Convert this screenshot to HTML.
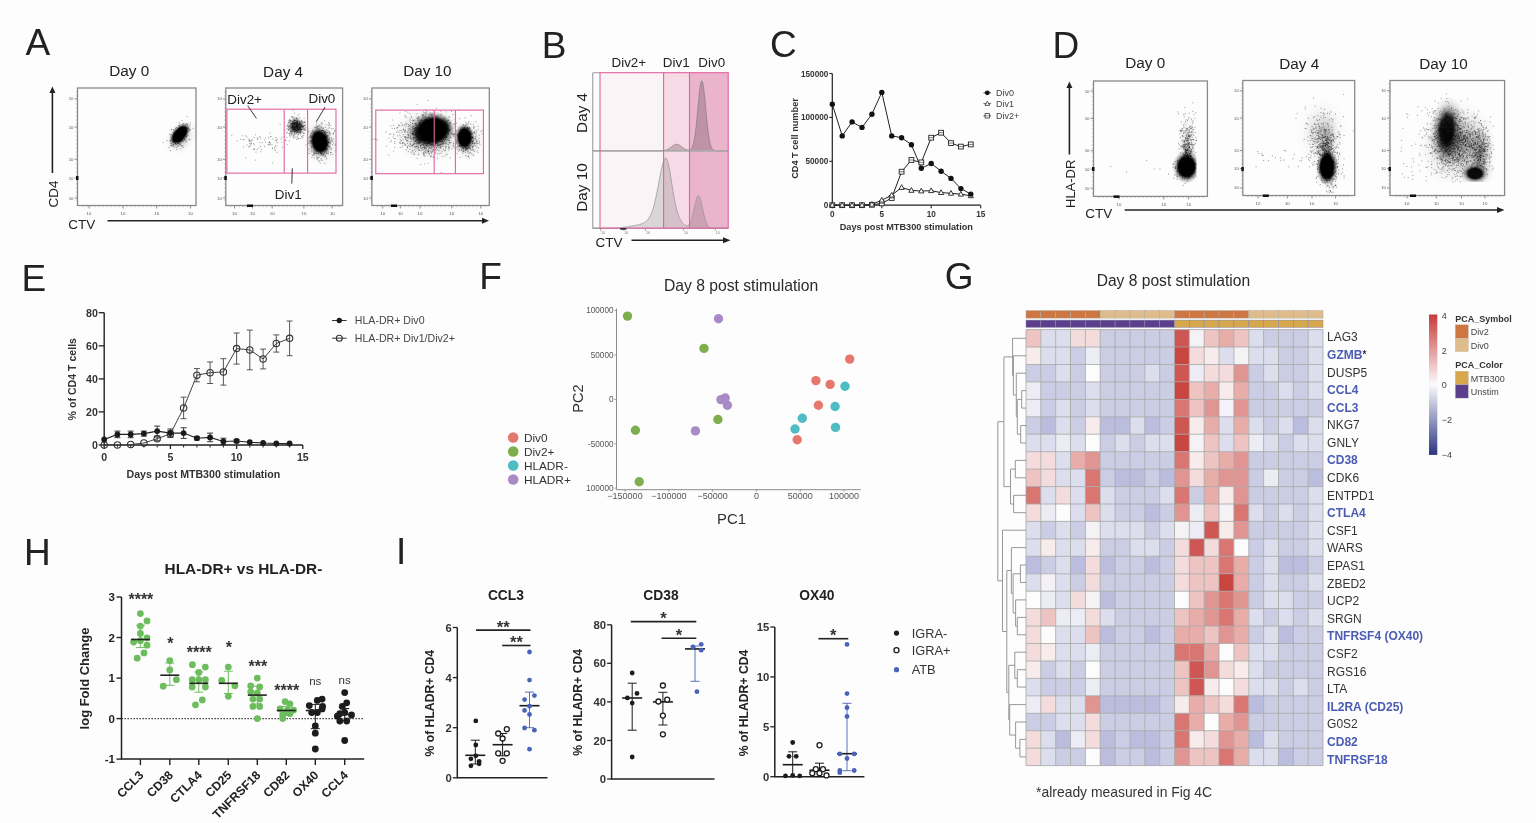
<!DOCTYPE html>
<html><head><meta charset="utf-8"><title>Figure</title>
<style>html,body{margin:0;padding:0;background:#fff;}svg{display:block;filter:blur(0.6px);}text{font-family:"Liberation Sans",sans-serif;}</style>
</head><body>
<svg width="1536" height="823" viewBox="0 0 1536 823" style="font-family:&quot;Liberation Sans&quot;,sans-serif">
<defs><clipPath id="cd1"><rect x="1090" y="80" width="106.5" height="118"/></clipPath><clipPath id="cd3"><rect x="1390" y="80" width="104" height="102"/></clipPath><radialGradient id="g1"><stop stop-color="#000" offset="0.0" stop-opacity="1.000"/><stop stop-color="#000" offset="0.1" stop-opacity="0.956"/><stop stop-color="#000" offset="0.2" stop-opacity="0.835"/><stop stop-color="#000" offset="0.3" stop-opacity="0.667"/><stop stop-color="#000" offset="0.4" stop-opacity="0.487"/><stop stop-color="#000" offset="0.5" stop-opacity="0.325"/><stop stop-color="#000" offset="0.6" stop-opacity="0.198"/><stop stop-color="#000" offset="0.7" stop-opacity="0.110"/><stop stop-color="#000" offset="0.8" stop-opacity="0.056"/><stop stop-color="#000" offset="0.9" stop-opacity="0.026"/><stop stop-color="#000" offset="1.0" stop-opacity="0.011"/></radialGradient><radialGradient id="g2"><stop stop-color="#000" offset="0.0" stop-opacity="1.000"/><stop stop-color="#000" offset="0.1" stop-opacity="1.000"/><stop stop-color="#000" offset="0.2" stop-opacity="1.000"/><stop stop-color="#000" offset="0.3" stop-opacity="1.000"/><stop stop-color="#000" offset="0.4" stop-opacity="0.974"/><stop stop-color="#000" offset="0.5" stop-opacity="0.649"/><stop stop-color="#000" offset="0.6" stop-opacity="0.396"/><stop stop-color="#000" offset="0.7" stop-opacity="0.221"/><stop stop-color="#000" offset="0.8" stop-opacity="0.112"/><stop stop-color="#000" offset="0.9" stop-opacity="0.052"/><stop stop-color="#000" offset="1.0" stop-opacity="0.022"/></radialGradient><radialGradient id="g3"><stop stop-color="#000" offset="0.0" stop-opacity="1.000"/><stop stop-color="#000" offset="0.1" stop-opacity="1.000"/><stop stop-color="#000" offset="0.2" stop-opacity="1.000"/><stop stop-color="#000" offset="0.3" stop-opacity="1.000"/><stop stop-color="#000" offset="0.4" stop-opacity="1.000"/><stop stop-color="#000" offset="0.5" stop-opacity="0.974"/><stop stop-color="#000" offset="0.6" stop-opacity="0.594"/><stop stop-color="#000" offset="0.7" stop-opacity="0.331"/><stop stop-color="#000" offset="0.8" stop-opacity="0.168"/><stop stop-color="#000" offset="0.9" stop-opacity="0.078"/><stop stop-color="#000" offset="1.0" stop-opacity="0.033"/></radialGradient><radialGradient id="g6"><stop stop-color="#000" offset="0.0" stop-opacity="1.000"/><stop stop-color="#000" offset="0.1" stop-opacity="1.000"/><stop stop-color="#000" offset="0.2" stop-opacity="1.000"/><stop stop-color="#000" offset="0.3" stop-opacity="1.000"/><stop stop-color="#000" offset="0.4" stop-opacity="1.000"/><stop stop-color="#000" offset="0.5" stop-opacity="1.000"/><stop stop-color="#000" offset="0.6" stop-opacity="1.000"/><stop stop-color="#000" offset="0.7" stop-opacity="0.662"/><stop stop-color="#000" offset="0.8" stop-opacity="0.337"/><stop stop-color="#000" offset="0.9" stop-opacity="0.157"/><stop stop-color="#000" offset="1.0" stop-opacity="0.067"/></radialGradient><filter id="bl" x="-50%" y="-50%" width="200%" height="200%"><feGaussianBlur stdDeviation="1.2"/></filter><filter id="sb" x="-5%" y="-5%" width="110%" height="110%"><feGaussianBlur stdDeviation="0.5"/></filter></defs>
<rect width="1536" height="823" fill="#fdfdfd"/>
<text x="25.5" y="54.7" font-size="37" fill="#222">A</text>
<text x="129.2" y="76.1" font-size="15.3" fill="#222" text-anchor="middle">Day 0</text>
<text x="283.1" y="76.9" font-size="15.3" fill="#222" text-anchor="middle">Day 4</text>
<text x="427.4" y="76.2" font-size="15.3" fill="#222" text-anchor="middle">Day 10</text>
<line x1="74.5" y1="98.8" x2="77.5" y2="98.8" stroke="#777" stroke-width="0.8"/>
<text x="73.5" y="100.3" font-size="4.3" fill="#555" text-anchor="end">10</text>
<line x1="74.5" y1="127" x2="77.5" y2="127" stroke="#777" stroke-width="0.8"/>
<text x="73.5" y="128.5" font-size="4.3" fill="#555" text-anchor="end">10</text>
<line x1="74.5" y1="159.3" x2="77.5" y2="159.3" stroke="#777" stroke-width="0.8"/>
<text x="73.5" y="160.8" font-size="4.3" fill="#555" text-anchor="end">10</text>
<line x1="74.5" y1="178" x2="77.5" y2="178" stroke="#777" stroke-width="0.8"/>
<text x="73.5" y="179.5" font-size="4.3" fill="#555" text-anchor="end">10</text>
<line x1="74.5" y1="198" x2="77.5" y2="198" stroke="#777" stroke-width="0.8"/>
<text x="73.5" y="199.5" font-size="4.3" fill="#555" text-anchor="end">10</text>
<line x1="75.9" y1="92" x2="77.5" y2="92" stroke="#999" stroke-width="0.6"/>
<line x1="75.9" y1="96" x2="77.5" y2="96" stroke="#999" stroke-width="0.6"/>
<line x1="75.9" y1="100" x2="77.5" y2="100" stroke="#999" stroke-width="0.6"/>
<line x1="75.9" y1="104" x2="77.5" y2="104" stroke="#999" stroke-width="0.6"/>
<line x1="75.9" y1="108" x2="77.5" y2="108" stroke="#999" stroke-width="0.6"/>
<line x1="75.9" y1="112" x2="77.5" y2="112" stroke="#999" stroke-width="0.6"/>
<line x1="75.9" y1="116" x2="77.5" y2="116" stroke="#999" stroke-width="0.6"/>
<line x1="75.9" y1="120" x2="77.5" y2="120" stroke="#999" stroke-width="0.6"/>
<line x1="75.9" y1="124" x2="77.5" y2="124" stroke="#999" stroke-width="0.6"/>
<line x1="75.9" y1="128" x2="77.5" y2="128" stroke="#999" stroke-width="0.6"/>
<line x1="75.9" y1="132" x2="77.5" y2="132" stroke="#999" stroke-width="0.6"/>
<line x1="75.9" y1="136" x2="77.5" y2="136" stroke="#999" stroke-width="0.6"/>
<line x1="75.9" y1="140" x2="77.5" y2="140" stroke="#999" stroke-width="0.6"/>
<line x1="75.9" y1="144" x2="77.5" y2="144" stroke="#999" stroke-width="0.6"/>
<line x1="75.9" y1="148" x2="77.5" y2="148" stroke="#999" stroke-width="0.6"/>
<line x1="75.9" y1="152" x2="77.5" y2="152" stroke="#999" stroke-width="0.6"/>
<line x1="75.9" y1="156" x2="77.5" y2="156" stroke="#999" stroke-width="0.6"/>
<line x1="75.9" y1="160" x2="77.5" y2="160" stroke="#999" stroke-width="0.6"/>
<line x1="75.9" y1="164" x2="77.5" y2="164" stroke="#999" stroke-width="0.6"/>
<line x1="75.9" y1="168" x2="77.5" y2="168" stroke="#999" stroke-width="0.6"/>
<line x1="75.9" y1="172" x2="77.5" y2="172" stroke="#999" stroke-width="0.6"/>
<line x1="75.9" y1="176" x2="77.5" y2="176" stroke="#999" stroke-width="0.6"/>
<line x1="75.9" y1="180" x2="77.5" y2="180" stroke="#999" stroke-width="0.6"/>
<line x1="75.9" y1="184" x2="77.5" y2="184" stroke="#999" stroke-width="0.6"/>
<line x1="75.9" y1="188" x2="77.5" y2="188" stroke="#999" stroke-width="0.6"/>
<line x1="75.9" y1="192" x2="77.5" y2="192" stroke="#999" stroke-width="0.6"/>
<line x1="75.9" y1="196" x2="77.5" y2="196" stroke="#999" stroke-width="0.6"/>
<line x1="75.9" y1="200" x2="77.5" y2="200" stroke="#999" stroke-width="0.6"/>
<line x1="88.9" y1="205.5" x2="88.9" y2="208.5" stroke="#777" stroke-width="0.8"/>
<text x="88.9" y="215" font-size="4.3" fill="#555" text-anchor="middle">10</text>
<line x1="123" y1="205.5" x2="123" y2="208.5" stroke="#777" stroke-width="0.8"/>
<text x="123" y="215" font-size="4.3" fill="#555" text-anchor="middle">10</text>
<line x1="156.7" y1="205.5" x2="156.7" y2="208.5" stroke="#777" stroke-width="0.8"/>
<text x="156.7" y="215" font-size="4.3" fill="#555" text-anchor="middle">10</text>
<line x1="190.4" y1="205.5" x2="190.4" y2="208.5" stroke="#777" stroke-width="0.8"/>
<text x="190.4" y="215" font-size="4.3" fill="#555" text-anchor="middle">10</text>
<line x1="83" y1="205.5" x2="83" y2="207.1" stroke="#999" stroke-width="0.6"/>
<line x1="87" y1="205.5" x2="87" y2="207.1" stroke="#999" stroke-width="0.6"/>
<line x1="91" y1="205.5" x2="91" y2="207.1" stroke="#999" stroke-width="0.6"/>
<line x1="95" y1="205.5" x2="95" y2="207.1" stroke="#999" stroke-width="0.6"/>
<line x1="99" y1="205.5" x2="99" y2="207.1" stroke="#999" stroke-width="0.6"/>
<line x1="103" y1="205.5" x2="103" y2="207.1" stroke="#999" stroke-width="0.6"/>
<line x1="107" y1="205.5" x2="107" y2="207.1" stroke="#999" stroke-width="0.6"/>
<line x1="111" y1="205.5" x2="111" y2="207.1" stroke="#999" stroke-width="0.6"/>
<line x1="115" y1="205.5" x2="115" y2="207.1" stroke="#999" stroke-width="0.6"/>
<line x1="119" y1="205.5" x2="119" y2="207.1" stroke="#999" stroke-width="0.6"/>
<line x1="123" y1="205.5" x2="123" y2="207.1" stroke="#999" stroke-width="0.6"/>
<line x1="127" y1="205.5" x2="127" y2="207.1" stroke="#999" stroke-width="0.6"/>
<line x1="131" y1="205.5" x2="131" y2="207.1" stroke="#999" stroke-width="0.6"/>
<line x1="135" y1="205.5" x2="135" y2="207.1" stroke="#999" stroke-width="0.6"/>
<line x1="139" y1="205.5" x2="139" y2="207.1" stroke="#999" stroke-width="0.6"/>
<line x1="143" y1="205.5" x2="143" y2="207.1" stroke="#999" stroke-width="0.6"/>
<line x1="147" y1="205.5" x2="147" y2="207.1" stroke="#999" stroke-width="0.6"/>
<line x1="151" y1="205.5" x2="151" y2="207.1" stroke="#999" stroke-width="0.6"/>
<line x1="155" y1="205.5" x2="155" y2="207.1" stroke="#999" stroke-width="0.6"/>
<line x1="159" y1="205.5" x2="159" y2="207.1" stroke="#999" stroke-width="0.6"/>
<line x1="163" y1="205.5" x2="163" y2="207.1" stroke="#999" stroke-width="0.6"/>
<line x1="167" y1="205.5" x2="167" y2="207.1" stroke="#999" stroke-width="0.6"/>
<line x1="171" y1="205.5" x2="171" y2="207.1" stroke="#999" stroke-width="0.6"/>
<line x1="175" y1="205.5" x2="175" y2="207.1" stroke="#999" stroke-width="0.6"/>
<line x1="179" y1="205.5" x2="179" y2="207.1" stroke="#999" stroke-width="0.6"/>
<line x1="183" y1="205.5" x2="183" y2="207.1" stroke="#999" stroke-width="0.6"/>
<line x1="187" y1="205.5" x2="187" y2="207.1" stroke="#999" stroke-width="0.6"/>
<line x1="191" y1="205.5" x2="191" y2="207.1" stroke="#999" stroke-width="0.6"/>
<rect x="77.5" y="88" width="118.5" height="117.5" fill="none" stroke="#8a8a8a" stroke-width="1.3"/>
<line x1="222.8" y1="98.8" x2="225.8" y2="98.8" stroke="#777" stroke-width="0.8"/>
<text x="221.8" y="100.3" font-size="4.3" fill="#555" text-anchor="end">10</text>
<line x1="222.8" y1="127" x2="225.8" y2="127" stroke="#777" stroke-width="0.8"/>
<text x="221.8" y="128.5" font-size="4.3" fill="#555" text-anchor="end">10</text>
<line x1="222.8" y1="159.3" x2="225.8" y2="159.3" stroke="#777" stroke-width="0.8"/>
<text x="221.8" y="160.8" font-size="4.3" fill="#555" text-anchor="end">10</text>
<line x1="222.8" y1="178" x2="225.8" y2="178" stroke="#777" stroke-width="0.8"/>
<text x="221.8" y="179.5" font-size="4.3" fill="#555" text-anchor="end">10</text>
<line x1="222.8" y1="198" x2="225.8" y2="198" stroke="#777" stroke-width="0.8"/>
<text x="221.8" y="199.5" font-size="4.3" fill="#555" text-anchor="end">10</text>
<line x1="224.2" y1="92" x2="225.8" y2="92" stroke="#999" stroke-width="0.6"/>
<line x1="224.2" y1="96" x2="225.8" y2="96" stroke="#999" stroke-width="0.6"/>
<line x1="224.2" y1="100" x2="225.8" y2="100" stroke="#999" stroke-width="0.6"/>
<line x1="224.2" y1="104" x2="225.8" y2="104" stroke="#999" stroke-width="0.6"/>
<line x1="224.2" y1="108" x2="225.8" y2="108" stroke="#999" stroke-width="0.6"/>
<line x1="224.2" y1="112" x2="225.8" y2="112" stroke="#999" stroke-width="0.6"/>
<line x1="224.2" y1="116" x2="225.8" y2="116" stroke="#999" stroke-width="0.6"/>
<line x1="224.2" y1="120" x2="225.8" y2="120" stroke="#999" stroke-width="0.6"/>
<line x1="224.2" y1="124" x2="225.8" y2="124" stroke="#999" stroke-width="0.6"/>
<line x1="224.2" y1="128" x2="225.8" y2="128" stroke="#999" stroke-width="0.6"/>
<line x1="224.2" y1="132" x2="225.8" y2="132" stroke="#999" stroke-width="0.6"/>
<line x1="224.2" y1="136" x2="225.8" y2="136" stroke="#999" stroke-width="0.6"/>
<line x1="224.2" y1="140" x2="225.8" y2="140" stroke="#999" stroke-width="0.6"/>
<line x1="224.2" y1="144" x2="225.8" y2="144" stroke="#999" stroke-width="0.6"/>
<line x1="224.2" y1="148" x2="225.8" y2="148" stroke="#999" stroke-width="0.6"/>
<line x1="224.2" y1="152" x2="225.8" y2="152" stroke="#999" stroke-width="0.6"/>
<line x1="224.2" y1="156" x2="225.8" y2="156" stroke="#999" stroke-width="0.6"/>
<line x1="224.2" y1="160" x2="225.8" y2="160" stroke="#999" stroke-width="0.6"/>
<line x1="224.2" y1="164" x2="225.8" y2="164" stroke="#999" stroke-width="0.6"/>
<line x1="224.2" y1="168" x2="225.8" y2="168" stroke="#999" stroke-width="0.6"/>
<line x1="224.2" y1="172" x2="225.8" y2="172" stroke="#999" stroke-width="0.6"/>
<line x1="224.2" y1="176" x2="225.8" y2="176" stroke="#999" stroke-width="0.6"/>
<line x1="224.2" y1="180" x2="225.8" y2="180" stroke="#999" stroke-width="0.6"/>
<line x1="224.2" y1="184" x2="225.8" y2="184" stroke="#999" stroke-width="0.6"/>
<line x1="224.2" y1="188" x2="225.8" y2="188" stroke="#999" stroke-width="0.6"/>
<line x1="224.2" y1="192" x2="225.8" y2="192" stroke="#999" stroke-width="0.6"/>
<line x1="224.2" y1="196" x2="225.8" y2="196" stroke="#999" stroke-width="0.6"/>
<line x1="224.2" y1="200" x2="225.8" y2="200" stroke="#999" stroke-width="0.6"/>
<line x1="234.5" y1="205.5" x2="234.5" y2="208.5" stroke="#777" stroke-width="0.8"/>
<text x="234.5" y="215" font-size="4.3" fill="#555" text-anchor="middle">10</text>
<line x1="252.5" y1="205.5" x2="252.5" y2="208.5" stroke="#777" stroke-width="0.8"/>
<text x="252.5" y="215" font-size="4.3" fill="#555" text-anchor="middle">10</text>
<line x1="272.2" y1="205.5" x2="272.2" y2="208.5" stroke="#777" stroke-width="0.8"/>
<text x="272.2" y="215" font-size="4.3" fill="#555" text-anchor="middle">10</text>
<line x1="303.9" y1="205.5" x2="303.9" y2="208.5" stroke="#777" stroke-width="0.8"/>
<text x="303.9" y="215" font-size="4.3" fill="#555" text-anchor="middle">10</text>
<line x1="332.3" y1="205.5" x2="332.3" y2="208.5" stroke="#777" stroke-width="0.8"/>
<text x="332.3" y="215" font-size="4.3" fill="#555" text-anchor="middle">10</text>
<line x1="231" y1="205.5" x2="231" y2="207.1" stroke="#999" stroke-width="0.6"/>
<line x1="235" y1="205.5" x2="235" y2="207.1" stroke="#999" stroke-width="0.6"/>
<line x1="239" y1="205.5" x2="239" y2="207.1" stroke="#999" stroke-width="0.6"/>
<line x1="243" y1="205.5" x2="243" y2="207.1" stroke="#999" stroke-width="0.6"/>
<line x1="247" y1="205.5" x2="247" y2="207.1" stroke="#999" stroke-width="0.6"/>
<line x1="251" y1="205.5" x2="251" y2="207.1" stroke="#999" stroke-width="0.6"/>
<line x1="255" y1="205.5" x2="255" y2="207.1" stroke="#999" stroke-width="0.6"/>
<line x1="259" y1="205.5" x2="259" y2="207.1" stroke="#999" stroke-width="0.6"/>
<line x1="263" y1="205.5" x2="263" y2="207.1" stroke="#999" stroke-width="0.6"/>
<line x1="267" y1="205.5" x2="267" y2="207.1" stroke="#999" stroke-width="0.6"/>
<line x1="271" y1="205.5" x2="271" y2="207.1" stroke="#999" stroke-width="0.6"/>
<line x1="275" y1="205.5" x2="275" y2="207.1" stroke="#999" stroke-width="0.6"/>
<line x1="279" y1="205.5" x2="279" y2="207.1" stroke="#999" stroke-width="0.6"/>
<line x1="283" y1="205.5" x2="283" y2="207.1" stroke="#999" stroke-width="0.6"/>
<line x1="287" y1="205.5" x2="287" y2="207.1" stroke="#999" stroke-width="0.6"/>
<line x1="291" y1="205.5" x2="291" y2="207.1" stroke="#999" stroke-width="0.6"/>
<line x1="295" y1="205.5" x2="295" y2="207.1" stroke="#999" stroke-width="0.6"/>
<line x1="299" y1="205.5" x2="299" y2="207.1" stroke="#999" stroke-width="0.6"/>
<line x1="303" y1="205.5" x2="303" y2="207.1" stroke="#999" stroke-width="0.6"/>
<line x1="307" y1="205.5" x2="307" y2="207.1" stroke="#999" stroke-width="0.6"/>
<line x1="311" y1="205.5" x2="311" y2="207.1" stroke="#999" stroke-width="0.6"/>
<line x1="315" y1="205.5" x2="315" y2="207.1" stroke="#999" stroke-width="0.6"/>
<line x1="319" y1="205.5" x2="319" y2="207.1" stroke="#999" stroke-width="0.6"/>
<line x1="323" y1="205.5" x2="323" y2="207.1" stroke="#999" stroke-width="0.6"/>
<line x1="327" y1="205.5" x2="327" y2="207.1" stroke="#999" stroke-width="0.6"/>
<line x1="331" y1="205.5" x2="331" y2="207.1" stroke="#999" stroke-width="0.6"/>
<line x1="335" y1="205.5" x2="335" y2="207.1" stroke="#999" stroke-width="0.6"/>
<line x1="339" y1="205.5" x2="339" y2="207.1" stroke="#999" stroke-width="0.6"/>
<rect x="225.8" y="88" width="116.8" height="117.5" fill="none" stroke="#8a8a8a" stroke-width="1.3"/>
<line x1="368.9" y1="98.8" x2="371.9" y2="98.8" stroke="#777" stroke-width="0.8"/>
<text x="367.9" y="100.3" font-size="4.3" fill="#555" text-anchor="end">10</text>
<line x1="368.9" y1="127" x2="371.9" y2="127" stroke="#777" stroke-width="0.8"/>
<text x="367.9" y="128.5" font-size="4.3" fill="#555" text-anchor="end">10</text>
<line x1="368.9" y1="159.3" x2="371.9" y2="159.3" stroke="#777" stroke-width="0.8"/>
<text x="367.9" y="160.8" font-size="4.3" fill="#555" text-anchor="end">10</text>
<line x1="368.9" y1="178" x2="371.9" y2="178" stroke="#777" stroke-width="0.8"/>
<text x="367.9" y="179.5" font-size="4.3" fill="#555" text-anchor="end">10</text>
<line x1="368.9" y1="198" x2="371.9" y2="198" stroke="#777" stroke-width="0.8"/>
<text x="367.9" y="199.5" font-size="4.3" fill="#555" text-anchor="end">10</text>
<line x1="370.3" y1="92" x2="371.9" y2="92" stroke="#999" stroke-width="0.6"/>
<line x1="370.3" y1="96" x2="371.9" y2="96" stroke="#999" stroke-width="0.6"/>
<line x1="370.3" y1="100" x2="371.9" y2="100" stroke="#999" stroke-width="0.6"/>
<line x1="370.3" y1="104" x2="371.9" y2="104" stroke="#999" stroke-width="0.6"/>
<line x1="370.3" y1="108" x2="371.9" y2="108" stroke="#999" stroke-width="0.6"/>
<line x1="370.3" y1="112" x2="371.9" y2="112" stroke="#999" stroke-width="0.6"/>
<line x1="370.3" y1="116" x2="371.9" y2="116" stroke="#999" stroke-width="0.6"/>
<line x1="370.3" y1="120" x2="371.9" y2="120" stroke="#999" stroke-width="0.6"/>
<line x1="370.3" y1="124" x2="371.9" y2="124" stroke="#999" stroke-width="0.6"/>
<line x1="370.3" y1="128" x2="371.9" y2="128" stroke="#999" stroke-width="0.6"/>
<line x1="370.3" y1="132" x2="371.9" y2="132" stroke="#999" stroke-width="0.6"/>
<line x1="370.3" y1="136" x2="371.9" y2="136" stroke="#999" stroke-width="0.6"/>
<line x1="370.3" y1="140" x2="371.9" y2="140" stroke="#999" stroke-width="0.6"/>
<line x1="370.3" y1="144" x2="371.9" y2="144" stroke="#999" stroke-width="0.6"/>
<line x1="370.3" y1="148" x2="371.9" y2="148" stroke="#999" stroke-width="0.6"/>
<line x1="370.3" y1="152" x2="371.9" y2="152" stroke="#999" stroke-width="0.6"/>
<line x1="370.3" y1="156" x2="371.9" y2="156" stroke="#999" stroke-width="0.6"/>
<line x1="370.3" y1="160" x2="371.9" y2="160" stroke="#999" stroke-width="0.6"/>
<line x1="370.3" y1="164" x2="371.9" y2="164" stroke="#999" stroke-width="0.6"/>
<line x1="370.3" y1="168" x2="371.9" y2="168" stroke="#999" stroke-width="0.6"/>
<line x1="370.3" y1="172" x2="371.9" y2="172" stroke="#999" stroke-width="0.6"/>
<line x1="370.3" y1="176" x2="371.9" y2="176" stroke="#999" stroke-width="0.6"/>
<line x1="370.3" y1="180" x2="371.9" y2="180" stroke="#999" stroke-width="0.6"/>
<line x1="370.3" y1="184" x2="371.9" y2="184" stroke="#999" stroke-width="0.6"/>
<line x1="370.3" y1="188" x2="371.9" y2="188" stroke="#999" stroke-width="0.6"/>
<line x1="370.3" y1="192" x2="371.9" y2="192" stroke="#999" stroke-width="0.6"/>
<line x1="370.3" y1="196" x2="371.9" y2="196" stroke="#999" stroke-width="0.6"/>
<line x1="370.3" y1="200" x2="371.9" y2="200" stroke="#999" stroke-width="0.6"/>
<line x1="382.8" y1="205.5" x2="382.8" y2="208.5" stroke="#777" stroke-width="0.8"/>
<text x="382.8" y="215" font-size="4.3" fill="#555" text-anchor="middle">10</text>
<line x1="400.3" y1="205.5" x2="400.3" y2="208.5" stroke="#777" stroke-width="0.8"/>
<text x="400.3" y="215" font-size="4.3" fill="#555" text-anchor="middle">10</text>
<line x1="420" y1="205.5" x2="420" y2="208.5" stroke="#777" stroke-width="0.8"/>
<text x="420" y="215" font-size="4.3" fill="#555" text-anchor="middle">10</text>
<line x1="451.7" y1="205.5" x2="451.7" y2="208.5" stroke="#777" stroke-width="0.8"/>
<text x="451.7" y="215" font-size="4.3" fill="#555" text-anchor="middle">10</text>
<line x1="480.8" y1="205.5" x2="480.8" y2="208.5" stroke="#777" stroke-width="0.8"/>
<text x="480.8" y="215" font-size="4.3" fill="#555" text-anchor="middle">10</text>
<line x1="377" y1="205.5" x2="377" y2="207.1" stroke="#999" stroke-width="0.6"/>
<line x1="381" y1="205.5" x2="381" y2="207.1" stroke="#999" stroke-width="0.6"/>
<line x1="385" y1="205.5" x2="385" y2="207.1" stroke="#999" stroke-width="0.6"/>
<line x1="389" y1="205.5" x2="389" y2="207.1" stroke="#999" stroke-width="0.6"/>
<line x1="393" y1="205.5" x2="393" y2="207.1" stroke="#999" stroke-width="0.6"/>
<line x1="397" y1="205.5" x2="397" y2="207.1" stroke="#999" stroke-width="0.6"/>
<line x1="401" y1="205.5" x2="401" y2="207.1" stroke="#999" stroke-width="0.6"/>
<line x1="405" y1="205.5" x2="405" y2="207.1" stroke="#999" stroke-width="0.6"/>
<line x1="409" y1="205.5" x2="409" y2="207.1" stroke="#999" stroke-width="0.6"/>
<line x1="413" y1="205.5" x2="413" y2="207.1" stroke="#999" stroke-width="0.6"/>
<line x1="417" y1="205.5" x2="417" y2="207.1" stroke="#999" stroke-width="0.6"/>
<line x1="421" y1="205.5" x2="421" y2="207.1" stroke="#999" stroke-width="0.6"/>
<line x1="425" y1="205.5" x2="425" y2="207.1" stroke="#999" stroke-width="0.6"/>
<line x1="429" y1="205.5" x2="429" y2="207.1" stroke="#999" stroke-width="0.6"/>
<line x1="433" y1="205.5" x2="433" y2="207.1" stroke="#999" stroke-width="0.6"/>
<line x1="437" y1="205.5" x2="437" y2="207.1" stroke="#999" stroke-width="0.6"/>
<line x1="441" y1="205.5" x2="441" y2="207.1" stroke="#999" stroke-width="0.6"/>
<line x1="445" y1="205.5" x2="445" y2="207.1" stroke="#999" stroke-width="0.6"/>
<line x1="449" y1="205.5" x2="449" y2="207.1" stroke="#999" stroke-width="0.6"/>
<line x1="453" y1="205.5" x2="453" y2="207.1" stroke="#999" stroke-width="0.6"/>
<line x1="457" y1="205.5" x2="457" y2="207.1" stroke="#999" stroke-width="0.6"/>
<line x1="461" y1="205.5" x2="461" y2="207.1" stroke="#999" stroke-width="0.6"/>
<line x1="465" y1="205.5" x2="465" y2="207.1" stroke="#999" stroke-width="0.6"/>
<line x1="469" y1="205.5" x2="469" y2="207.1" stroke="#999" stroke-width="0.6"/>
<line x1="473" y1="205.5" x2="473" y2="207.1" stroke="#999" stroke-width="0.6"/>
<line x1="477" y1="205.5" x2="477" y2="207.1" stroke="#999" stroke-width="0.6"/>
<line x1="481" y1="205.5" x2="481" y2="207.1" stroke="#999" stroke-width="0.6"/>
<line x1="485" y1="205.5" x2="485" y2="207.1" stroke="#999" stroke-width="0.6"/>
<rect x="371.9" y="88" width="117.4" height="117.5" fill="none" stroke="#8a8a8a" stroke-width="1.3"/>
<rect x="76" y="176" width="2.5" height="4" fill="#111" stroke="none" stroke-width="1"/>
<rect x="224.3" y="176" width="2.5" height="4" fill="#111" stroke="none" stroke-width="1"/>
<rect x="370.4" y="176" width="2.5" height="4" fill="#111" stroke="none" stroke-width="1"/>
<rect x="247" y="204.5" width="6" height="2.5" fill="#111" stroke="none" stroke-width="1"/>
<rect x="391" y="204.5" width="6" height="2.5" fill="#111" stroke="none" stroke-width="1"/>
<ellipse cx="180.5" cy="137" rx="19.5" ry="15" fill="url(#g1)" fill-opacity="0.35" transform="rotate(-55 180.5 137)"/>
<ellipse cx="179.8" cy="134.3" rx="14.1" ry="7.8" fill="url(#g6)" transform="rotate(-50 179.8 134.3)"/>
<ellipse cx="178.5" cy="137.5" rx="7.5" ry="7.5" fill="url(#g2)" fill-opacity="0.6"/>
<g filter="url(#sb)"><path d="M180 138.2h0M178.6 132.3h0M177.6 132.2h0M180.3 143.9h0M177.4 134.4h0M182.5 137.1h0M180.5 131h0M179.8 140.5h0M173 137.7h0M170.1 134.6h0M170.4 140.4h0M173.4 141.6h0M180.8 135h0M166.9 140.6h0M179.7 137.3h0M172 138.2h0M174.9 134.7h0M185.5 128.9h0M179.8 141.6h0M177 137.5h0M180.6 136.5h0M173.6 140.4h0M187.1 123.9h0M184.5 134.7h0M176.7 149.6h0M184 127.6h0M180.4 139.5h0M179 140.9h0M179.7 140.4h0M187.5 128.6h0M181.1 133.3h0M180.7 129.5h0M177 137h0M184.7 140.4h0M173.1 135.8h0M183.4 123.5h0M177.6 137.3h0M186.5 136.8h0M178.3 135.4h0M178.7 145.8h0M177.8 136h0M181.8 134.8h0M179 130.8h0M179.9 134h0M186.1 136.9h0M179.9 140.3h0M178.2 143.4h0M180 139.8h0M173.3 142.1h0M171.2 129.8h0M178.4 132.3h0M180.9 148.7h0M175.7 135.3h0M181.1 138.7h0M179.1 135.8h0M183.7 137.4h0M174.6 139h0M180.2 130.5h0M181.4 130.9h0M185.1 134.8h0M180.5 132.9h0M179.4 125.6h0M174.1 141.7h0M168.9 147.3h0M170.9 145.7h0M175.6 143.3h0M180.7 127.5h0M186.5 141.1h0M179.7 135.1h0M179.2 131.5h0M185.7 130.3h0M179.7 132.2h0M176.7 131.1h0M186.5 132.1h0M185 133.8h0M176.4 136.6h0M177.1 138.1h0M178 135.9h0M172.8 135.9h0M188.6 128h0M174.5 141.4h0M187.3 124.3h0M178.9 133.5h0M170.8 145.6h0M179.9 137h0M176.1 141.2h0M177.2 137.2h0M174.2 132.8h0M186.9 129.9h0M181.5 135.5h0M177.7 134.9h0M183.3 133h0M179.2 137.1h0M186.1 137h0M182 132.2h0M172.8 145.8h0M185 133h0M182.8 139.4h0M184.3 139.3h0M177.6 146.3h0M173.5 144.9h0M182.6 140h0M189.8 139.5h0M174 130.2h0M184.2 128.5h0M179.9 141.3h0M171.5 129.3h0M181.3 136h0M178.7 137.4h0M175.5 130.4h0M179.1 131.5h0M171.5 144h0M179.7 139h0M174.9 135.6h0M174.8 134.3h0M181 131.5h0M181.9 137.4h0M190.5 122.9h0M184.6 133.5h0M179.9 128.4h0M177.6 142h0M179.6 137.2h0M178.5 143.8h0M179.9 124.2h0M176.4 127.4h0M163.1 142.7h0M186.9 133h0M173.9 134.5h0M185.9 134.2h0M180.2 136.1h0M180.2 140.9h0M182.9 136.1h0M174.6 142.3h0M176.4 144.6h0M173.4 139.3h0M180 129.1h0M189 139.8h0M177.6 142.2h0M182 120.7h0M181.3 135.4h0M180.4 130.2h0M178.6 136.3h0M186.2 135h0M180 145.1h0M177.1 135.9h0M170.6 150.5h0M185 138.9h0M183.5 135.2h0M181.1 134.5h0M178.9 137.4h0M187.9 135.3h0M179.7 133.4h0M176.7 147.3h0M182.6 135.4h0M178.2 131.2h0M179.7 141.6h0M178 136.3h0M178.9 137.7h0M171.7 139.7h0M175.6 143.9h0M176 141.9h0M187.9 130.4h0M176.9 139.3h0M180 130.9h0M182.4 146.5h0M178.7 136.1h0M174.6 141.3h0M173.5 133.8h0M186.7 127.8h0M185.6 142h0M181.3 138.9h0M190.2 129.9h0M176.9 130.6h0M180.2 144.7h0M185 128.5h0M175.6 136.1h0M181.5 134.5h0M181.1 137.6h0M178.4 137.1h0M181.1 135.4h0M182.6 145.6h0M183.1 135.1h0M171.2 143.5h0M169.9 134.1h0M184.4 138.1h0M179.2 127.3h0M178.1 133.7h0M183.3 147.4h0M181.1 131.5h0M173.9 139.5h0M179.1 130.5h0M180.6 129.7h0M185.8 139.3h0M185.6 130.8h0M182.7 134.3h0M178 135.7h0M173.2 132.1h0M184.1 133.2h0M181.1 141.5h0M171 137h0M180.9 138.2h0M178 143.4h0M181.1 129.1h0M175.2 143.7h0M182.4 124.5h0M187 136h0M187 130.5h0M178.5 131h0M193.2 128.3h0M188.3 128.4h0M180.9 126.6h0M178 143.1h0M173.5 146.1h0M181.8 129.7h0M177.4 135.3h0M179.7 133.6h0M175.7 137.1h0M174.7 132.2h0M179.7 141.6h0M172 140.9h0M176.6 132.8h0M184.4 131.2h0M187.8 127.9h0M182 134.1h0M176.1 141.9h0M179.2 140.3h0M179.8 130.5h0M179.5 137.1h0M185 128.7h0M179.8 126.9h0M183.4 128.6h0M170.6 141.3h0M185.7 124.8h0M174.3 135.4h0M174.1 141.8h0M175.8 134.7h0M183 130.6h0M182.3 129.8h0M173.7 129.6h0M189.7 129.4h0M181.3 135.6h0M180.8 136.3h0M189.9 125.2h0M171.9 135.2h0M173.1 144.5h0M184.3 128.8h0M172.8 138.4h0M187.2 116.7h0M182.7 129h0M185.4 127.5h0M178.5 128.8h0M174.9 147.1h0M184.3 131.9h0M175.5 128.3h0M178 137.4h0M179.6 136.2h0M174.2 139.3h0M179.8 143.9h0M189.7 130.4h0M176 138.3h0M176.8 134h0M179.7 130.8h0M183.2 134.2h0M181.3 134.8h0M176.2 133.2h0M178.8 134.1h0M181.2 135.8h0M172.9 140.7h0M173 136.8h0M178.5 125.7h0M180.5 137.1h0M179.2 134.6h0M178.1 132.1h0M178.6 134.2h0M180.5 129.5h0M181.2 136.6h0M179.3 134.4h0M182.9 125.6h0M182.4 136.6h0M181.5 137.9h0M176.6 136.9h0M183.3 137.1h0M181.1 127.4h0M182.8 141.6h0M185.3 135h0M171.9 146.2h0M179.2 122.7h0M182 127h0M173.3 136.6h0M186.6 130.8h0M181.4 145.6h0M188.3 131.4h0M178.7 130.1h0M176.4 140.9h0M182.1 136h0M185.2 129.3h0M179.7 140.8h0M183 140.9h0M182.1 133.6h0M181.9 129.8h0" stroke="#000" stroke-width="1.0" stroke-linecap="square" stroke-opacity="0.4"/></g>
<ellipse cx="320.5" cy="142" rx="18" ry="25.5" fill="url(#g1)" fill-opacity="0.35" transform="rotate(-10 320.5 142)"/>
<ellipse cx="319.7" cy="141.7" rx="11.1" ry="15.3" fill="url(#g6)" transform="rotate(-12 319.7 141.7)"/>
<ellipse cx="296.2" cy="126.5" rx="10.8" ry="10.2" fill="url(#g2)" fill-opacity="0.7"/>
<g filter="url(#sb)"><path d="M311.5 148.2h0M320.2 144.3h0M311.2 141.2h0M317.2 136.3h0M308.1 142.1h0M325.4 143.8h0M317.2 142.6h0M324.7 120.7h0M319.8 146.2h0M324.3 153.8h0M326.7 143h0M322.2 147.5h0M317.5 142.3h0M325.5 155.5h0M319.6 141.8h0M321.6 151.7h0M320.3 152.9h0M315.2 141.7h0M319.4 148.1h0M326.2 129.6h0M315.5 145.5h0M316.9 131.5h0M326.2 144.5h0M323.2 137.9h0M326.2 139.1h0M326.5 134h0M315.8 144.5h0M316.6 147.8h0M321.9 134.9h0M320.9 139.3h0M325.5 136.3h0M318.1 151.5h0M332.8 154.3h0M320.8 143.6h0M328.9 139.4h0M315.1 144h0M323 135.3h0M311.4 133.2h0M324.2 135.6h0M319.7 143.7h0M323.9 138.8h0M323.2 134.8h0M318.5 134.8h0M326.7 140.5h0M316.4 140.2h0M319.3 147.4h0M311.7 136.1h0M318.4 161.2h0M325.8 140.1h0M324.4 156.5h0M319.2 139.5h0M327.2 144.3h0M324.2 137.5h0M331.1 152.5h0M323.6 146.4h0M309.4 149h0M319.4 145.4h0M324.3 138.7h0M311.2 146.6h0M316.4 140.4h0M317.2 140.1h0M307.8 153.6h0M321.9 150h0M331.4 139.9h0M310.6 137.4h0M313.9 139.6h0M320.9 127.1h0M322.4 130.4h0M322.1 140.9h0M318.8 141.8h0M317.5 138.1h0M311.2 143.7h0M330.7 154.6h0M327.8 145.7h0M316.8 153.5h0M320.2 141.6h0M318.9 143h0M318.1 141.9h0M314.5 140.4h0M333 138.9h0M319.2 146.2h0M324.4 132.9h0M319.4 149h0M322 142.6h0M329 135.2h0M321 138.1h0M328.7 125.9h0M316.8 138.8h0M324.1 145.7h0M328.2 128.8h0M324.6 139h0M316.8 146.7h0M315.4 127.6h0M318.5 131.3h0M316.9 145.5h0M322.2 153.4h0M319.4 130.9h0M316.3 136h0M313.8 146.6h0M317 128.1h0M324.3 140.4h0M322.5 142.4h0M324 141.6h0M327.3 143.8h0M322.7 144.6h0M312.5 142.4h0M319.1 143.8h0M313 155.6h0M321.1 132.9h0M311.1 141.8h0M320 136.8h0M321 137.1h0M323.5 136h0M320.3 149.3h0M334.6 131.6h0M317.9 136.3h0M324.8 132.6h0M317.8 142.3h0M315.1 136h0M317.9 127h0M312.5 140.6h0M321.3 140.5h0M310.7 140.6h0M324.9 145.2h0M320.1 135.5h0M324 137h0M314.1 137.4h0M328.5 142h0M326.9 137.1h0M325.7 136.5h0M319.6 160.6h0M324.7 137.4h0M320 144.5h0M327.2 137h0M310.9 141.9h0M320.6 142.8h0M327.7 142.9h0M325 132.9h0M325.3 156.6h0M324.8 143h0M321.3 155.1h0M315.4 142.2h0M323 147h0M318.1 144.8h0M319 143.2h0M319.8 133.7h0M320.4 148.5h0M315.2 141.3h0M324.2 133.3h0M321.5 133.9h0M326.7 157.9h0M331.6 138.1h0M324.6 142.1h0M321.1 153.4h0M313.2 151.3h0M320.2 152.5h0M321.5 136.8h0M322 147.1h0M320.7 145.6h0M317.6 126.8h0M325.5 146.2h0M321.3 142.3h0M326.2 137.4h0M316.6 141.4h0M327 130.4h0M327.1 135.9h0M314.4 152.6h0M320 132.5h0M318.5 149.3h0M327.1 137.5h0M322.7 146.8h0M317 145.4h0M320.3 138.1h0M317.8 143.1h0M320.7 137.8h0M318.2 150.7h0M321.7 148.3h0M327.1 145h0M333 133.3h0M324.9 138.7h0M330.7 152.5h0M309.8 137h0M324.2 147.1h0M324.6 140.6h0M323 146.3h0M320.1 149.7h0M308.1 149.2h0M314.8 150.3h0M319.2 135.7h0M322.6 134.8h0M315.5 131.4h0M320.4 145.7h0M326.1 139.8h0M326.3 141h0M320 146.4h0M326.3 138.3h0M319.2 141.1h0M321 135.2h0M326.2 137.9h0M323 135.4h0M322.5 144.5h0M318.2 157.5h0M322.5 154.8h0M325.8 136h0M318.4 145.7h0M320.8 142.3h0M318.9 128.9h0M319.3 125.8h0M322.5 136.2h0M316.6 141.2h0M322 131.1h0M310.9 136.1h0M309.3 137.1h0M329.2 132.4h0M324.1 131.1h0M322.1 139.3h0M320.2 146.3h0M330.2 141.5h0M321.2 134.6h0M323.7 139.5h0M325.1 140.7h0M330.1 125.3h0M318.9 148.9h0M318.6 136.5h0M319 132.1h0M321.2 160h0M326.8 132.5h0M315.7 140h0M326 134.8h0M316.7 149.3h0M325.3 138.3h0M314.4 131.8h0M316.7 126.2h0M324.6 136.5h0M323.1 155.3h0M327 132.1h0M325.3 149.6h0M316.4 135.8h0M319.9 130.2h0M328.6 122.5h0M314.4 141.2h0M319.3 143.5h0M322 140.1h0M326.8 124.9h0M320.5 136.7h0M321.2 143.5h0M315.5 138.3h0M324.9 143.7h0M316.8 157.9h0M333.2 128.6h0M322.2 160.3h0M324.8 142.8h0M319.4 138.2h0M319.3 138.2h0M324.6 138.2h0M318.1 133.6h0M320.2 135.4h0M319.5 149.9h0M322.5 145.3h0M322.5 142h0M319.8 139.9h0M324.7 133.1h0M327.9 140.7h0M316.4 139.2h0M316.8 143.9h0M316.6 151.3h0M316.2 126h0M316.5 127.9h0M320.3 149.9h0M324.1 131.4h0M316.3 156h0M322.3 141.7h0M326.3 159h0M327.6 141.6h0M322.5 146.2h0M317.1 134.8h0M320.8 134.9h0M320.2 142.8h0M333.4 133.1h0M319.8 140.9h0M322.9 149.3h0M317.8 136.5h0M311.5 137h0M323.5 141.7h0M314.9 140.4h0M320.7 145.7h0M317.2 140.8h0M310.5 135.5h0M329.4 124h0M318.6 144h0M318.4 136.4h0M320.2 142h0M320 128.2h0M319.7 135.8h0M317.5 144.3h0M324 147.9h0M317.8 149.4h0M327 149.1h0M328.1 139.4h0M319.5 148.3h0M313 145.1h0M317.6 139.9h0M310.9 137.4h0M320.4 148.6h0M325.9 140.3h0M319.5 136.1h0M322.7 139.7h0M323.8 154.3h0M320.3 130.9h0M315.8 132.2h0M313.9 153h0M321.7 130.5h0M324.1 150.6h0M318.5 137.4h0M318.6 144.5h0M324 150h0M327.2 149.4h0M328 145.4h0M312.1 142.8h0M322.2 138.8h0M325.5 138.3h0M315.4 153.8h0M324.2 142.9h0M325.6 148.8h0M322.4 123.4h0M316.8 139.4h0M315.1 144.6h0M327.1 137.1h0M314.3 158.3h0M318 133.4h0M321.8 144.9h0M316.6 148.7h0M317.8 135.7h0M321.5 147.5h0M317 145.2h0M320 163h0M316.6 153.1h0M320.2 141.1h0M324.5 147.8h0M327.5 143h0M317.2 138.7h0M323.3 145.7h0M328.2 143.5h0M326.3 152.1h0M321.4 130.8h0M314 132.7h0M329.3 133.9h0M327.3 145h0M329.9 147.5h0M319.9 140.6h0M321 143.2h0M317.6 142.4h0M329.4 127.6h0M321.9 135h0M321.5 148h0M320.2 147.8h0M311.8 152h0M317.2 147.3h0M321.5 122.6h0M316.3 144.5h0M329 142.4h0M321.9 131.2h0M328.4 153.8h0M320.7 140.3h0M311.6 150.4h0M335.4 144.3h0M327.5 144.6h0M315.1 153h0M313.7 141.8h0M322 148.2h0M322.8 144.4h0M316.3 133.3h0M320.8 136.7h0M313.3 134.1h0M317.8 128.8h0M313.1 131.4h0M321.5 144.8h0M331.5 128.6h0M316.8 149.5h0M319.3 139.8h0M329.9 137.6h0M314.1 133.5h0M322.3 143.9h0M313 136.2h0M323.4 145.7h0M317 147.3h0M323.6 128.1h0M318.8 145.4h0M317.3 126.8h0M318.9 147.9h0M329.2 124h0M334.9 130.7h0M325.8 150.1h0M325.9 142h0M314.1 148h0M316.6 124.1h0M336.1 144.1h0M330.5 133.2h0M328.6 152.1h0M329.1 140.1h0M313.9 142h0M308.4 131.9h0M321 134.5h0M319.6 141.4h0M331.1 149.5h0M320.3 151h0M316.2 140.4h0M325.5 131.8h0M319 132.5h0M321.1 154h0M316.4 144.5h0M315.6 134.5h0M313.7 154.2h0M333.5 142.9h0M316.6 148h0M318.7 148.3h0M322.1 143.7h0M323.8 137h0M318.3 129.7h0M318.1 132h0M319.7 135.1h0M321.1 145.2h0M312.7 137.6h0M315.3 148.6h0M329.9 146.4h0M318.6 153.3h0M312.2 154.8h0M316.9 122.1h0M335.1 150.7h0M314.8 144.4h0M319.3 143h0M312.3 138.6h0M323.1 143.1h0M327.1 141.2h0M333.4 134h0M321.9 127.5h0M313.6 153.3h0M315.3 147h0M320.2 134.3h0M318.6 138.6h0M317.8 148.1h0M324.1 137h0M315.5 145.1h0M319.9 149.7h0M335.1 145.3h0M320.3 140.8h0M315.8 136.2h0M315 140.2h0M318.2 148h0M318.3 141h0M313.8 155.6h0M323.3 154.7h0M324.9 152.1h0M319.1 147.6h0M335.4 129.9h0M327 153.3h0M322.8 147.2h0M327.5 135.6h0M322.8 134.9h0M316.7 138.1h0M319.7 143.3h0M323 130.7h0M331.6 148.5h0M324.6 138.4h0M320 146.3h0M322.8 128.8h0M324.7 163.3h0M310.1 151.7h0M322.6 140.7h0M328.2 131.4h0M321.4 152.9h0M319.4 139h0M321.1 138.5h0M329.2 133.3h0M325.4 131.5h0M324.3 140.4h0M305.9 144.9h0M314.5 139.8h0M329.2 131.7h0M314.5 154.2h0M321.2 153.6h0M322.3 134.9h0M320.1 151.5h0M325.8 140.9h0M320.8 141.1h0M317.2 157.4h0M320.5 133.4h0M317.8 148.1h0M324.1 140.2h0M316.7 143h0M311 134h0M325 137.4h0M322.6 150.9h0M324.2 141.4h0M332.5 144.6h0M318.5 148h0M322.8 135h0M320.9 140.7h0M309.4 143h0M318.9 139h0M311.2 141.2h0M320.3 142.8h0M314.1 148.1h0M313.6 141.7h0M327.9 135.2h0M317.6 150.8h0M318.3 140.2h0M321.8 149.7h0M308 138.2h0M314.8 134.9h0M315.7 136.6h0M322.2 134.9h0M321.2 144.9h0M316.4 143.8h0M329.7 142.6h0M316.9 142.2h0M315.3 145.1h0M325.4 134.8h0M319.3 150.7h0M317.7 144h0M314.7 137h0M317.6 158.7h0M318.3 138.5h0M317.4 141.4h0M324.1 142.7h0M331.8 141.3h0M328.5 142.4h0M323.8 130.6h0M319.8 141.6h0M319.2 126.3h0M325.3 138.1h0M318.1 140.6h0M319.2 145.3h0M313.5 136.5h0M322.1 142.8h0M318.4 138.2h0M315.9 142.5h0M327 132.8h0M328.9 146.5h0M318 148.3h0M312.4 130.8h0M313.4 140.4h0M318.7 138.5h0M321 126.1h0M323.2 130.9h0M316.9 139.7h0M314.1 133.1h0M315 143h0M323.7 145.5h0M315 137.2h0M315.4 146.4h0M309.3 153.5h0M317.8 136.7h0M322.4 149.3h0M322.4 149.4h0M321.2 151h0M327.3 139.9h0M328.4 141.6h0M321 135.1h0M318.9 148.1h0M313.3 148.3h0M322.4 143.7h0M308.4 143.7h0M324.1 135.6h0M321 124.3h0M324.2 136.3h0M325.3 127.4h0M324.3 139.5h0M324.9 134.2h0M317.1 159.3h0M315.9 137.7h0M319 134.7h0M327 153.5h0M316.6 130h0M326.9 148.9h0M325 149.7h0M315.7 141.7h0M312.9 133h0M325.9 135.9h0M333 140h0M317 148.6h0M330.4 143.6h0M313.8 146.1h0M328.1 136.8h0M316.2 150.4h0M321.3 133.7h0M318.4 136.8h0M322.1 142.5h0M326.8 146h0M311.9 146.8h0M325.4 144.4h0M326.2 136.8h0M315.3 150h0M314.6 127.2h0M326.1 135.5h0M318.8 132h0M313.2 134.9h0M318.5 145.1h0M307.9 150.2h0M314 135.4h0M324.2 140.7h0M312 157.4h0M315.8 144.8h0M321.6 152.2h0M318 150h0M316.4 151.2h0M316.3 140.2h0M330.9 142.2h0M321.1 158.5h0M322.5 135.5h0M324.5 132.4h0M326.7 149.7h0M317.3 138h0M321.5 141.9h0M315.1 147.3h0M309.3 141.1h0M318.3 140.4h0M322.2 132.5h0M323.7 140h0M316.9 132.6h0M314 146h0M315.2 143.6h0M326.3 148.5h0M329.1 138h0M314.5 150.8h0M322.2 150h0M320.6 150.9h0M325.2 146.4h0M323.3 144.4h0M321.8 143.4h0M325.9 137.1h0M330 139.3h0M325.9 140.2h0M319.1 157.3h0M318.8 132.9h0M316.6 140.5h0M332.4 141.1h0M325.6 133.5h0M322.4 146.6h0M330.4 134.8h0M323.8 143.6h0M314.9 143h0M319.1 125.1h0M323.8 145.3h0M318.1 132.6h0M328.6 142.3h0M326.1 151.3h0M317.6 148.6h0M319.2 141.8h0M320 142.1h0M301.1 127.6h0M295.3 125.7h0M297.6 122.9h0M293.7 126.8h0M293.4 126.5h0M293.2 136.2h0M302.1 129.1h0M295.8 137.1h0M297.5 126.6h0M297.4 128.4h0M302.5 126.9h0M305.7 122.9h0M299.2 122.4h0M304.4 125.5h0M295.7 131.3h0M301.8 121.9h0M294.4 120.6h0M296.6 126.5h0M294.4 123.9h0M294.2 123.6h0M298.4 134h0M287.1 126.5h0M294.1 129.3h0M291.6 126.3h0M291.2 130.2h0M296.5 126.3h0M297.7 125.9h0M288.9 129.7h0M297.3 126.3h0M300.5 132.6h0M291 123.4h0M303.1 133.5h0M292.6 121.6h0M293.1 124.7h0M288.7 127.1h0M290.1 121.4h0M300.2 123.9h0M295.7 129.9h0M299.7 125.4h0M296.2 123.2h0M304 130h0M290.9 127h0M299.3 129.2h0M304.4 133.3h0M293.5 126.6h0M290.1 128.1h0M296.7 139.4h0M296.4 117.4h0M292.9 127.5h0M290.2 123h0M294.3 128.6h0M295.2 122.9h0M299.6 124.5h0M293.7 120.7h0M292.4 130h0M288.6 126.7h0M299.3 125.3h0M297.1 121.9h0M302 132.1h0M297.1 118.9h0M291.2 131.5h0M303.9 128.4h0M301.7 124.2h0M295.1 127h0M297.9 120h0M300.3 133.1h0M290.7 120.8h0M297.6 124h0M285.1 130.7h0M296.7 124.8h0M305.7 127.6h0M292.5 127.5h0M291.2 123.5h0M297.8 124.5h0M293.9 134.7h0M300 130.7h0M298.4 129.2h0M302.7 126.9h0M304.5 122.6h0M294.8 120.7h0M294.4 129.4h0M302.7 123.9h0M296 125.3h0M292.6 121.5h0M296.3 119h0M296.5 127.1h0M293 122.3h0M289.6 135.6h0M289.8 134.2h0M298.8 125.3h0M290.7 131.8h0M304 122.7h0M294.6 131.8h0M297.5 136.2h0M293.4 129.5h0M290.2 136.6h0M292.6 116.8h0M295.4 126.4h0M304.8 125.4h0M295.9 129.7h0M303.3 126.7h0M300.8 129.4h0M294.6 127.4h0M296.1 122.8h0M301.6 120.6h0M301.4 131.4h0M295.6 123.5h0M295 129.2h0M299.4 128.3h0M300.6 124.4h0M297.1 119.8h0M299.5 127.7h0M294.1 132.3h0M299.2 114h0M296.2 120.3h0M300.9 138.4h0M293.6 127.3h0M294.8 128.6h0M299 132.9h0M291.5 134.2h0M291.7 128.3h0M301.3 130.3h0M291.7 123.8h0M293.9 126.8h0M301.3 121.1h0M298.1 129.8h0M298.6 129.1h0M303 129.2h0M299.9 129.6h0M304.2 118.3h0M301.9 125.8h0M294.7 122.5h0M287.4 125.2h0M292.8 129.3h0M289.2 133.6h0M297.3 125.9h0M292.7 123.4h0M290.8 124.5h0M296 126.2h0M289.5 125.8h0M291.9 127.7h0M304.6 129.9h0M294.6 119.5h0M289.5 119.2h0M299.3 123.5h0M296.3 124.1h0M296.4 133.4h0M292.8 125.4h0M292.3 131h0M291.3 121.8h0M289.6 120.5h0M298.2 138.8h0M291.4 131.4h0M297.2 121.9h0M294.7 125.9h0M292.8 135.9h0M287.2 128.8h0M297.5 124.3h0M296.7 131h0M296.7 128.9h0M299.2 117.7h0M302.8 137.5h0M300.5 131.7h0M289.5 126.5h0M292.3 124.3h0M300.4 123.3h0M295.4 118.2h0M295.3 127.4h0M292.8 123.7h0M304.7 121.4h0M291.2 123.3h0M301.5 136.7h0M297.5 123.7h0M294 131.9h0M291.8 133.7h0M302.5 127.3h0M299 130.4h0M303.1 122.2h0M301.4 125.3h0M292.5 127.5h0M295 122.5h0M288.7 122.7h0M302.7 136h0M299 132.5h0M293.6 126.6h0M297.3 122h0M291.4 127.4h0M294.5 122.1h0M297.8 125.8h0M300.7 127h0M294.6 127.6h0M295.2 123.9h0M294.2 130.4h0M299 132.9h0M288.2 125.2h0M294.1 127.8h0M293.9 124.6h0M299.6 127.8h0M290.6 133.1h0M300.6 124.4h0M299.8 123.6h0M301.2 126h0M292.3 125.3h0M292.5 127.9h0M296.8 127.2h0M293.4 110.2h0M296.4 118.3h0M297.1 132.2h0M297.3 125.2h0M295.2 126.4h0M293.5 124.3h0M291.8 132.5h0M295.9 131.4h0M294.8 127.3h0M295.2 129.1h0M299.8 128.1h0M292.9 123.4h0M303.6 125.7h0M294.7 133.7h0M301 129.5h0M294.2 137.8h0M297.8 129.5h0M295.2 120.5h0M289.9 128.9h0M297.8 125.9h0M290.6 120.4h0M294.5 120.3h0M300.1 132.3h0M309 131h0M293.3 123h0M280.1 124.3h0M295.2 131.5h0M298.8 129.7h0M297 130h0M302.7 122.1h0M293.9 120.6h0M303.4 133h0M299.5 121.5h0M296.8 125.9h0M296.4 126.1h0M298.4 125.2h0M299.9 128.1h0M294.7 126.5h0M294 130.7h0M294.8 128.4h0M294.2 120.2h0M300.2 122.1h0M299.1 128.9h0M288.4 122.7h0M293.6 123.2h0M290.6 130.4h0M294.9 128.8h0M294 128.4h0M292.5 126.9h0M298.7 127.2h0M293.9 122h0M296.8 128.6h0M294.8 123.5h0M298.5 138.4h0M294.6 128.5h0M297.7 115.2h0M296.6 123.8h0M302.4 125.8h0M292.4 126h0M296.8 124.4h0M295.8 120.8h0M295 130.6h0M305.1 130.2h0M297.3 132.4h0M300.7 134.7h0M301 126.5h0M297.2 127.8h0M297.4 127.9h0M292.4 117.3h0M292.9 117.7h0M296.3 127h0M288.3 130.2h0M300 127.4h0M303.7 135.6h0M290.5 131.8h0M298 128.9h0M300.3 123.7h0M293.3 123.2h0M292.5 126.5h0M289.3 122.2h0M298.7 126.7h0M297.8 118.3h0M292.4 124.4h0M296.1 124.3h0M300.3 126.7h0M296.1 127.1h0M299.3 124.8h0M301.2 129.1h0M296.7 127.2h0M298.4 131.7h0M300.3 128.7h0M300 127.5h0M301.8 126.9h0M286.5 133.2h0M296.5 121.6h0M295.1 122.9h0M305.7 129.3h0M288.8 129.5h0M294.2 135.8h0M291.2 116.7h0M296.3 125.4h0M294.1 117.2h0M298 134.7h0M287.2 132.4h0M293.4 137.8h0M298 126.1h0M301.1 129.4h0M293.3 130.3h0M293.7 118.8h0M305.3 125.4h0M293.2 128.6h0M288.8 120.8h0M293.7 124.6h0M296.3 132.2h0M293.8 129.3h0M298.8 122h0M297.1 122.7h0M300.9 129.1h0M296.1 120.8h0M296.5 123.5h0M299.2 126.5h0M292.3 131.3h0M299.3 124.3h0M301.3 125.6h0M294.6 127.6h0M292.5 125h0M295.3 134h0M302.9 125.8h0M303.4 126.8h0M297.8 131.1h0M297.3 138.1h0M297.1 121.5h0M302 125.1h0M294.6 113.2h0M300.6 130.8h0M299.7 131.5h0M303.8 126.8h0M300.3 123.6h0M294.4 131.9h0M297.8 120.9h0M297.7 126.2h0M292.2 129h0M294.1 119.8h0M290.9 135.1h0M289 128h0M298.8 129.9h0M290.4 125.5h0M296.6 130.7h0M293 121.6h0M300.6 132.1h0M297.7 124.2h0M297.9 127.5h0M299.9 121.3h0M296.5 126.3h0M290.9 128h0M296.2 125.1h0M297.8 120.5h0M295.8 129h0M297.3 132h0M290.5 120.1h0M297.1 129.1h0M305.8 129.8h0M292 130.7h0M292.1 120.2h0M308 128.5h0M299.3 129.6h0M304.3 128.3h0M301.6 122.3h0M289.6 133.6h0M302.8 129.3h0M297 127.8h0M292.8 134.1h0M299 129.3h0M297.7 131.8h0M298.3 130.4h0M249 147.1h0M289.2 140.9h0M261.5 149.4h0M274.5 147.7h0M243.6 147h0M248.8 139.1h0M269.6 142.2h0M272.7 162.9h0M272.3 148.3h0M252.3 140.1h0M250.2 140.8h0M249.9 140h0M260.5 138h0M246 135.8h0M268.4 144.4h0M275.3 150.3h0M258.9 148h0M245.7 157.7h0M277.3 142.7h0M249 146.3h0M240.6 139.3h0M272 144.5h0M257.1 149.7h0M250.5 145.7h0M257 138.9h0M268.6 138h0M285.8 140.5h0M286.9 137.4h0M270.3 136.8h0M246.9 145h0M271.1 136.4h0M277.2 139.2h0M264.6 146.3h0M270.1 133.2h0M282.4 147.4h0M257.9 137.9h0M242.7 135.8h0M269.5 142h0M249.4 140.8h0M281.8 142h0M256 152.1h0M268.5 144.3h0M255.7 134.7h0M249 141.1h0M260.4 146.1h0M269.6 145.3h0M265.6 138h0M237.1 140.9h0M251.6 140.1h0M259.7 136.5h0M249.7 143.4h0M264.4 140.1h0M269 142.7h0M250.8 144.2h0M285.6 140h0M277 152.3h0M281 139.1h0M287.2 144.7h0M260 142.6h0M270.2 144.3h0M260.9 151.7h0M254.3 137.7h0M272.5 148.2h0M276.1 137.6h0M276 146.9h0M284.2 136.5h0M265.6 142.3h0M243.9 139.7h0M276.5 141.2h0M254.3 149.2h0M274.9 149.9h0M253.5 143.7h0M275.4 140.1h0M254 149h0M281.7 137.1h0M231.8 135.3h0M250.9 143.2h0M270.4 143.1h0M254.6 144.9h0M251.5 143.7h0M255.3 160.1h0M272.8 139h0M251 141.4h0M243.3 139.6h0M254.1 149.3h0M257.9 139.3h0M246.9 136.9h0M262.2 142.7h0M276.6 140.2h0M275.7 145.5h0" stroke="#000" stroke-width="1.0" stroke-linecap="square" stroke-opacity="0.38"/></g>
<ellipse cx="429" cy="134" rx="36" ry="28.5" fill="url(#g1)" fill-opacity="0.55"/>
<ellipse cx="432.7" cy="130.1" rx="21" ry="18" fill="url(#g6)"/>
<ellipse cx="424" cy="134" rx="15" ry="13.5" fill="url(#g3)" fill-opacity="0.8"/>
<ellipse cx="441" cy="128" rx="13.5" ry="13.5" fill="url(#g3)" fill-opacity="0.8"/>
<ellipse cx="464.5" cy="137.5" rx="9.6" ry="13.8" fill="url(#g6)"/>
<ellipse cx="467" cy="140" rx="16.5" ry="22.5" fill="url(#g1)" fill-opacity="0.35"/>
<g filter="url(#sb)"><path d="M428.9 114.9h0M414.2 141h0M445.1 136h0M437.8 130.1h0M424.7 127.7h0M440.2 137.3h0M426.3 130.9h0M435.4 137.1h0M419.4 150.3h0M432 134.1h0M446 143.7h0M428 139.1h0M416.7 127.9h0M403 145.6h0M407.2 140.5h0M419.4 124.7h0M426.8 136.5h0M436 150.8h0M433.1 142.4h0M422.1 140.8h0M430.8 129.6h0M427.9 133.4h0M431.2 137.8h0M423.1 127h0M437.6 117.9h0M421.9 148.7h0M397.9 127.4h0M436.9 118.3h0M458.9 109.4h0M445.5 148.8h0M439.5 131.9h0M433.1 125.5h0M438.3 123.4h0M425.9 143.5h0M416.2 130.5h0M430.9 121.3h0M442.4 137.2h0M411.6 133.6h0M420.1 127.8h0M429.9 127.3h0M440.1 127.3h0M440.3 133.6h0M438.8 128.9h0M423.2 123.1h0M435.6 142.9h0M453.4 146.3h0M431.9 132h0M433.5 133.7h0M445.8 143h0M419.4 127.5h0M444.7 136.9h0M426.3 145.3h0M424.5 131.3h0M423.7 115.4h0M438.9 122.5h0M422.5 126.9h0M437.4 133.3h0M429.2 118h0M428 120h0M432.5 137.5h0M428.8 153.4h0M435.1 139.7h0M430.6 132.2h0M440.1 144.5h0M414 144h0M434.9 143.1h0M434.4 122.2h0M415.5 151.3h0M431.9 120.5h0M433 130.6h0M407.8 112.2h0M410.6 136.6h0M428.4 131.6h0M432.3 139.7h0M404.8 131.1h0M419.5 122.3h0M422.7 132.8h0M425.9 120.2h0M423.4 153.2h0M416.9 118h0M432.2 139.7h0M434.3 123.4h0M440.5 126.5h0M415.9 128.2h0M427.7 140.8h0M436.2 133.8h0M439.7 134.8h0M439.3 120.7h0M410.9 141.4h0M413 131.1h0M427.9 129.4h0M423.8 147.2h0M399.9 142.4h0M455.4 134.2h0M428.8 140.9h0M450 122.7h0M430 132.2h0M435.4 135.5h0M436.6 130h0M429.6 127.6h0M421.4 132.7h0M427.4 122.9h0M447.1 132.7h0M413.1 144.5h0M420.4 138.8h0M428.8 136.4h0M431 128.5h0M429.5 153.3h0M403.3 134.6h0M434 124h0M413.2 154.5h0M424.7 153.8h0M435.2 134.7h0M434.5 140h0M442.6 138.1h0M430.7 135.7h0M444.5 141.8h0M417.5 128h0M432.8 128.1h0M424.7 124.9h0M426 138h0M440.4 134.1h0M452.9 133.3h0M465.7 143.5h0M434.7 129.3h0M396.5 132.5h0M431 152.3h0M413.1 152.1h0M426.1 140.9h0M399.8 135.3h0M425 140.5h0M430 123.1h0M439.9 140.6h0M435.9 143.6h0M441.7 133.8h0M413.4 120.8h0M444.5 140.7h0M430.2 129.9h0M429.4 134.2h0M425.1 127.4h0M453.9 136.2h0M422 121.6h0M420.7 140.8h0M437.7 131.9h0M429.6 131.1h0M416.3 146.4h0M433.3 157.5h0M420.3 132.7h0M439.2 131.7h0M413 125h0M430.2 137.3h0M427.9 143.5h0M440.4 137.1h0M429.3 131.6h0M435.3 142.7h0M429.7 138.3h0M425.3 120.6h0M417.5 141.3h0M434.1 149.1h0M429.6 142.2h0M444.2 143.4h0M422 132.2h0M430.5 124.6h0M434.5 143.7h0M423.5 152.7h0M425.7 132.1h0M426.3 127.3h0M433.8 134.2h0M448.1 139.8h0M435.2 131.9h0M412.7 133.1h0M419.2 143h0M428.6 149.8h0M437.5 141.9h0M431.7 136h0M436.5 142.8h0M420.8 138.7h0M459.1 133.1h0M426.1 127.4h0M412.3 145.3h0M429.7 136.8h0M450.2 157.8h0M418.8 144h0M436.2 137.8h0M434.5 133.8h0M447.3 139.9h0M433 145.9h0M439.3 138.4h0M432.8 150.7h0M434.9 133.2h0M419.2 130.8h0M417 135h0M432 114.5h0M429.2 140.2h0M430.9 125h0M443.6 127.4h0M414.9 123.8h0M428.9 143.4h0M442.4 136h0M415.3 127.8h0M418.7 132.3h0M408.6 135.1h0M436.4 132.6h0M434.3 125.1h0M412.3 128h0M442.3 143.8h0M423.8 145.4h0M425.3 148.4h0M434.6 129.7h0M438.2 126.6h0M418.2 120.2h0M432 133.5h0M428.1 130.1h0M445.5 130h0M420.7 145.8h0M445.3 137.2h0M409 128.3h0M436 134.2h0M446.9 121h0M436.8 128h0M444.2 133.3h0M440.9 127.8h0M412.8 123.5h0M422 124.3h0M442.8 146.7h0M432.1 124.2h0M427.6 127.5h0M445.7 137h0M434.6 130.2h0M405.9 126.7h0M416.2 137.5h0M430.1 126.4h0M424.5 148.9h0M418 125.3h0M426.4 127.4h0M424.1 139h0M448.9 117.1h0M428.8 134.4h0M428 132.2h0M425.1 143.5h0M423.7 132.8h0M429 135h0M427 143.5h0M428.9 135.7h0M428.4 124.5h0M419.5 124h0M431.2 127.2h0M416.8 136.3h0M435 117.3h0M448.4 134.3h0M427.8 144.1h0M429.8 128.3h0M454.2 123.8h0M427.9 142h0M416.7 133h0M433.4 156.8h0M418.7 133.5h0M436.6 134.8h0M415.2 137.9h0M430.2 138.2h0M442 143.6h0M433.7 137h0M416.4 132.7h0M431.5 130.2h0M430.1 126.2h0M446.6 154.4h0M424.5 137.8h0M426.3 146h0M434 134.7h0M426.4 135.2h0M417.5 140.4h0M420.8 139.1h0M430.5 144.4h0M428.8 143.7h0M418.4 139.8h0M426.4 135.8h0M429.8 142.9h0M405.8 137.1h0M411.8 145.5h0M406.3 124.5h0M409.8 149.6h0M414.2 135.1h0M422.8 116.9h0M425.1 140.3h0M426.9 142.9h0M424.8 134.1h0M424.6 137.3h0M450.8 137.4h0M431.2 128.1h0M420.3 147.9h0M416.2 125.3h0M427.9 130h0M451.5 111.5h0M433.2 140.8h0M416.1 127.9h0M434 149.5h0M418.4 119h0M440.2 148.5h0M425.1 113h0M445.7 132.1h0M441.9 133.6h0M424.7 129.7h0M445.9 147.6h0M404.4 125.1h0M449.4 130.5h0M413.4 134h0M427.8 133.1h0M423.5 131.1h0M423.8 137.2h0M419.7 131.2h0M427.3 146.4h0M433.3 133h0M435.2 137.9h0M441.5 138.8h0M449.6 146.8h0M428.5 130.1h0M439.1 138.9h0M427.9 120h0M407.9 137.3h0M437.9 141.6h0M414.2 143.9h0M422.9 137.7h0M433.8 126.4h0M422.2 114.3h0M418.5 116.9h0M434 134.6h0M439.5 137.4h0M421.7 137.3h0M424.5 139.8h0M432.6 124.6h0M429 134.5h0M425.5 142.5h0M448.7 130.5h0M425 112.6h0M427.5 129.9h0M404.1 136.7h0M435.8 127h0M424.7 124.8h0M437.8 119.6h0M425.4 152.5h0M429.6 138.4h0M427.3 122.8h0M428.6 137.9h0M417.2 137.2h0M443.3 144.2h0M410.8 124.7h0M410.4 144.2h0M436 140.7h0M418.9 122.9h0M429.9 135h0M419.2 135.4h0M436.4 136.2h0M417 113.9h0M426 135.6h0M426 129.9h0M421 140.8h0M428.4 135.2h0M417.8 128.1h0M430.9 124.4h0M414.5 130.9h0M442.8 135.8h0M445.8 132.8h0M425.4 120.8h0M422.4 147.6h0M432.8 141h0M437.1 133.9h0M426.6 135.1h0M436.7 138.3h0M434.7 135.5h0M420.1 131.5h0M418.2 143.5h0M404.8 131.9h0M456.5 130.8h0M415.9 133.8h0M443.8 132.5h0M436.1 134.9h0M424.7 163.9h0M429.8 128.9h0M423.4 137.6h0M433.7 141.3h0M430.6 120.4h0M435.1 131.1h0M425.7 119.9h0M422.4 127.1h0M428.6 120.2h0M429.6 135.2h0M416.1 128.1h0M419.1 142.6h0M399.9 130.7h0M409.9 129.9h0M438.7 128h0M430.6 126h0M451.3 142.7h0M442 121.4h0M416.3 144.3h0M426.8 131.5h0M432.8 122.1h0M437.9 134.2h0M434.5 127.6h0M434.9 127.3h0M440 144.7h0M439.5 138.9h0M436.3 108.3h0M438.6 131.4h0M430.1 131.3h0M413 128.9h0M436.6 147.5h0M421.8 125.4h0M445.7 125.6h0M452.8 134.5h0M418.8 143.4h0M448.5 120.4h0M446.9 131.3h0M446.1 130.4h0M410.9 138.8h0M439.7 153.9h0M448.8 140.6h0M426.3 129.1h0M425.6 126.1h0M425.8 109.8h0M431.1 133.7h0M458.5 141.2h0M423.5 139.4h0M414.9 128.3h0M407.5 147.6h0M435.8 122.8h0M428.3 143h0M434.7 137.6h0M419.1 127.9h0M430.1 142.7h0M419.5 123.3h0M442.2 125.2h0M441.4 136.3h0M439.1 150.6h0M436.9 141.4h0M418.4 127.4h0M436.4 148.6h0M445 156h0M432.6 135.9h0M440.6 134.2h0M428.3 124.1h0M440.4 123.8h0M434.9 120.5h0M441.6 124.2h0M438.7 118.9h0M423.9 145.2h0M419.7 134.6h0M423.5 112.1h0M432.5 138.1h0M416.3 139.5h0M419.8 124.5h0M429.1 127.5h0M455.4 119.2h0M437.5 143.4h0M406.2 117.5h0M435.5 129.4h0M433.4 144.8h0M424.7 123.9h0M397.6 135.9h0M418.3 137h0M431.7 120.8h0M448.8 144.3h0M438.8 122.7h0M424.3 128.8h0M424.2 123.3h0M434 136.2h0M433.2 129.2h0M443.8 135.8h0M397.5 127.9h0M428.3 143.2h0M425.5 131.6h0M421.4 140.3h0M423.9 128.3h0M420.5 139.3h0M422.9 118.1h0M436.2 127.3h0M433.1 137.6h0M442.8 143.9h0M422.4 132.4h0M414.2 149.9h0M434.1 147.2h0M425.3 114.5h0M446.6 134.9h0M430.5 134.5h0M436.4 139.1h0M410.7 144.3h0M422.9 129.6h0M448.9 142.7h0M425.1 116.4h0M430.9 139.1h0M428.1 122.2h0M419.9 122.1h0M431.5 141.8h0M440.8 127h0M431.7 139.3h0M423.1 132.6h0M453.4 135.9h0M439.2 129.9h0M429.5 117.7h0M428.7 145.3h0M453.1 145.4h0M436.9 134.5h0M422.1 132.5h0M436 126.5h0M439.7 124.7h0M408.5 124.4h0M409.8 121h0M442 132.1h0M431.5 145h0M443.5 129.2h0M444.3 137.7h0M429 138.2h0M412.6 126.5h0M427.8 139.8h0M424.7 132.8h0M440.1 147.4h0M437.8 146.1h0M424.3 131.1h0M432.7 131.1h0M423.2 149.7h0M426.7 124.8h0M434.6 151.4h0M429.9 145.7h0M424 129.3h0M421.1 132.6h0M450.1 123h0M447.8 124.4h0M426.3 141.9h0M436.2 136.7h0M410 137.4h0M417.2 158.4h0M426.5 135.8h0M415.8 129.5h0M414.2 143.3h0M426 139.3h0M421.1 129.2h0M443.8 124.8h0M408.3 137.9h0M415.9 129.8h0M439.5 126.2h0M439.1 127.5h0M446.1 146.6h0M423.6 132h0M419.4 135.9h0M442.2 120.3h0M439.6 121.4h0M419.1 117h0M453.2 134.6h0M431.8 127.6h0M441.3 114h0M429.3 155h0M424.6 134.2h0M436.7 126.3h0M429.3 143.1h0M431.2 137.5h0M425 137h0M429.6 147.8h0M437.3 131.7h0M400.9 140.8h0M437.7 125.3h0M406 123.2h0M439.7 123.9h0M423.7 136.1h0M443.1 133.8h0M427.8 128.8h0M447.8 144.1h0M427.9 120.7h0M419.9 139.5h0M420.7 142.5h0M433.2 136.8h0M436.5 138.7h0M419.2 130.9h0M455.9 122.5h0M423.5 144.1h0M427.2 126.3h0M413.8 139.1h0M440.7 147.3h0M429.6 143.9h0M417.1 135.6h0M421.2 135.7h0M437.6 144.2h0M417.6 146h0M423.5 124.3h0M427 120.1h0M429.1 136.8h0M426.7 139.1h0M425.4 134h0M412.4 134.4h0M419.2 129.7h0M427.9 135.8h0M410.1 119.1h0M425.5 138.5h0M433.1 142.5h0M444 138.7h0M428.8 124.2h0M418.1 129.6h0M432.1 136.1h0M429 132.5h0M436.3 136h0M432.4 136.9h0M422.7 124.2h0M434.6 138h0M426.5 130.1h0M455.2 126.8h0M426.5 136.5h0M415.7 135.1h0M449.7 142.9h0M436.3 139.6h0M430.3 143.1h0M427.2 130h0M430.2 142.6h0M432.8 140.4h0M405.7 145.3h0M455.9 146.7h0M425.3 125.9h0M432.2 124.6h0M437.3 129h0M440 146.9h0M405.6 136.8h0M421 120.6h0M421.9 131.9h0M440.9 119.5h0M441.1 153.2h0M435.9 139.2h0M428.8 122.8h0M435.2 137.6h0M437.4 158.4h0M437.4 138h0M447 121.2h0M415.9 130.4h0M421.5 140.6h0M425.3 150.5h0M446.5 141.3h0M424.6 139.9h0M438.3 123.9h0M433 140.7h0M431.5 148.9h0M443 126.2h0M430.4 126.1h0M435.7 125.8h0M439.6 137.7h0M440.2 132.6h0M412.3 150.8h0M427 147.1h0M433.9 140.4h0M450 137.2h0M445.1 119.9h0M439 131.7h0M427.5 134.1h0M433 149.7h0M407.7 134.4h0M420.8 145.1h0M424.1 138.3h0M424.4 140.3h0M440.7 130.2h0M429.6 120.5h0M432.5 142.1h0M422.6 144.6h0M405.2 116.4h0M413 129.4h0M429.2 133.3h0M428.2 140.9h0M423.6 122h0M414.7 154.1h0M402 132.3h0M445.8 138.6h0M419.5 134h0M438.9 145.5h0M418.7 141.2h0M431.9 144.5h0M445 130.7h0M412.3 137.8h0M449.4 140.5h0M431.6 156.8h0M417 142.6h0M422.4 134.5h0M430 148.4h0M418.2 128.9h0M410.7 138.6h0M423.7 138h0M416.7 130.6h0M440.9 132.3h0M436.2 139h0M424.9 119.2h0M440.3 135.6h0M440.3 114.9h0M410 113.6h0M418.9 143.9h0M435.5 133.7h0M430.5 141.2h0M425.5 137.8h0M430.6 113.2h0M424.6 146.9h0M424.4 132.6h0M422 129.4h0M441.9 131.5h0M417.2 104.4h0M422.4 115.3h0M408 141.6h0M437.1 115.8h0M438.8 138.4h0M420 141h0M410.3 122.6h0M412.4 123.4h0M439.1 121.3h0M415.8 125h0M431.2 130.8h0M438.9 127.2h0M414.2 129.2h0M429.4 125.1h0M432.2 151.2h0M422.2 134.3h0M444.4 127.8h0M419.1 123.5h0M433.4 138.8h0M427.1 134.3h0M443.5 142.1h0M412.7 133.7h0M430 140.6h0M426.2 127.6h0M423.4 116.9h0M428.4 128.1h0M434 124h0M423.6 124.4h0M416.4 140.3h0M423.3 137.9h0M415.7 134.6h0M409.2 129.1h0M422.8 139.2h0M430.6 132h0M438.2 135.4h0M434.7 140.9h0M427.7 130.8h0M432.3 129.6h0M432.9 144.1h0M438.3 130h0M413.7 133h0M427 144.1h0M424.1 131.6h0M436.9 129h0M426.6 149.8h0M445.6 139.5h0M431.5 124.4h0M434.9 134.1h0M431 128.6h0M428.3 131.8h0M432.1 147.1h0M432.6 117.8h0M417.3 118.5h0M419.3 138.8h0M433.1 127.9h0M431.5 126.4h0M412.1 120.2h0M418.6 147h0M413.1 145.3h0M443.7 131.8h0M427.9 127.7h0M428.1 139.8h0M428.5 143h0M442 136.8h0M432.2 132.9h0M432.4 122.9h0M433.1 135.5h0M418.5 153.9h0M417.3 125.3h0M431.6 115.1h0M419.3 119h0M417.3 132.2h0M432.1 144h0M437.6 144.7h0M435.1 129.1h0M441.2 128.9h0M421.3 148h0M437.4 135.6h0M437 141.8h0M412.7 132.6h0M414.8 134.6h0M420.7 146.4h0M434.3 125.8h0M428.2 122h0M428.8 138.7h0M431.4 115.2h0M424.5 138.3h0M431.9 144.5h0M413.6 138.4h0M420.9 135.3h0M433 140h0M421.7 135.2h0M414.9 120.1h0M434.7 132.9h0M409.7 125.4h0M428.6 148.2h0M440.3 141h0M407.8 132.5h0M433.8 137.2h0M433.1 131.2h0M448.5 147.5h0M427.3 124.1h0M451.9 128.2h0M442.1 151.6h0M417.5 136.2h0M424.3 138.3h0M432 151.9h0M435.1 133.4h0M441.3 130.9h0M424.1 154.7h0M418.9 128.8h0M428.8 123.4h0M404.1 143.5h0M419.3 128.3h0M424 124.1h0M416 135h0M455.9 140.4h0M436.9 119.1h0M428 122.2h0M437.2 131.3h0M428.8 132.6h0M421.6 119h0M435 120.3h0M414.7 130.6h0M420.2 135.9h0M439.9 135.8h0M430.6 133.7h0M438.2 115.9h0M432.5 124.6h0M414.1 133.5h0M423.9 139h0M441 111.3h0M427.5 152h0M438.3 147.2h0M429.5 119.8h0M415.4 140.2h0M439.3 126.5h0M425.2 135.9h0M408.2 130.1h0M446.9 154.2h0M427.1 150.8h0M422.3 125.7h0M402.6 142.5h0M424 155.7h0M432.1 135.2h0M407.6 147.7h0M424.2 131.9h0M403 142.2h0M439.7 127.7h0M429.4 137.2h0M439.4 134.5h0M448.2 131.2h0M421.4 129h0M399.2 125.8h0M439.9 136h0M418.9 136.8h0M405.1 130.8h0M434.4 140.1h0M419.5 142.2h0M449.9 129.4h0M436.9 118.7h0M405.8 139.3h0M428.9 135.4h0M421.7 130.7h0M437.7 149.8h0M425.9 117.8h0M443.1 139.2h0M436.2 135.2h0M455.1 134.2h0M434.3 115.9h0M421.7 127h0M428.1 136.8h0M419.8 150h0M416.2 129.2h0M431.2 121.6h0M435 139.5h0M425 151.7h0M429.4 136.2h0M417.4 117.6h0M421.1 130.5h0M423.2 140.8h0M401 122.7h0M407.4 146.3h0M421.9 128.6h0M415.7 142.1h0M423.7 135.6h0M405 144.7h0M433 138.8h0M442.7 131.7h0M426.5 140.4h0M433.3 131.2h0M428.9 128.7h0M436.7 142.4h0M428.5 151.4h0M410.7 131.3h0M448.1 129.5h0M410 146.8h0M434.7 122.2h0M437.4 123.8h0M413 132.1h0M422.9 123.1h0M424.2 124h0M429.1 133.3h0M437 129.2h0M413.1 121h0M425.6 148.2h0M438.2 127.4h0M439.3 122.5h0M440.1 129.9h0M437.3 139.5h0M425.3 136.7h0M416.2 132.9h0M441 172.6h0M436.6 134.4h0M416.8 143.6h0M409.4 125.9h0M432.6 122.1h0M446.2 144h0M421.9 128.3h0M413.3 120.2h0M433.6 139.5h0M432.5 136.1h0M422 137h0M411.5 133.6h0M445.5 146.2h0M423.1 130.4h0M444.4 150.6h0M411.2 129.5h0M431.2 145.2h0M418.8 139.7h0M425 156.2h0M433.4 132.3h0M424.6 143.6h0M436.3 123.2h0M431 120.8h0M419.8 121.2h0M413.2 127h0M417.2 138.6h0M437.7 131.3h0M415.6 141.2h0M405.1 115.2h0M436.9 139.8h0M439.7 131.5h0M413.9 128.7h0M435 126.3h0M420.4 120.3h0M415 141.6h0M433.7 122.5h0M416 128.2h0M434.8 122.4h0M426.5 113.1h0M414 137.6h0M438.9 122.5h0M419.6 141.2h0M424 128.4h0M434.5 135.4h0M441.3 141.2h0M421.8 132.4h0M427.8 120.6h0M417.3 142.9h0M410.2 143.1h0M431.8 132.3h0M434.7 138.1h0M442.5 129.8h0M425.9 131.3h0M450.2 142.6h0M417.8 130.4h0M420.4 133.7h0M431 155.5h0M407.5 143.4h0M433.6 126.9h0M426.8 128.9h0M429.1 143.2h0M411 146.1h0M424.2 148h0M433.3 145.4h0M435.1 144h0M429.2 125.7h0M436.3 140.4h0M452.8 114.6h0M426.3 143.8h0M414.1 131.5h0M453 147.2h0M418.5 147.3h0M442.3 141.1h0M433 136h0M418.6 128.8h0M437.1 135h0M450 130.5h0M401 130.5h0M431.9 137.4h0M429.4 125.9h0M445.9 127.4h0M436.9 131h0M414.9 147.2h0M399.8 125.6h0M433.7 130.4h0M437.3 132.8h0M423.5 154.3h0M426.2 132.3h0M416.3 126.7h0M436.2 139.1h0M428.8 127.1h0M436.7 117.6h0M424.8 131.4h0M419 135.3h0M421.1 126.2h0M449.5 140.9h0M442.6 134.3h0M439.9 141.3h0M442.8 156.4h0M426.3 136.4h0M428.3 100.5h0M412.8 134.1h0M436.2 128.4h0M442 146.1h0M424.2 147.5h0M449.1 138.4h0M417.7 147.9h0M427.1 130.4h0M430.3 128.9h0M441.3 141.4h0M443 139.5h0M419.9 132.5h0M439.1 130.1h0M462.6 131.7h0M422.3 144.9h0M437.6 133.7h0M426.4 138.1h0M438.6 141.2h0M425.5 138.1h0M438.7 141.3h0M393.5 125.5h0M420.1 131.8h0M431.1 142.8h0M436.1 132.8h0M429.3 150.7h0M422 136.9h0M447 137.3h0M405.5 137.6h0M424.5 132.9h0M441.1 138.5h0M426 142.5h0M434 135h0M432.5 136.4h0M425.1 129.6h0M429.3 124.9h0M414.5 146.4h0M426.2 133.8h0M427.4 134.2h0M429.3 134.6h0M419.7 142.9h0M421 143.8h0M406.9 123.9h0M440.4 132.6h0M421.3 137.6h0M417 134.7h0M403.5 129.7h0M421.5 139.1h0M439.1 125.9h0M447.5 128.4h0M405.4 111.4h0M446.7 133.2h0M421.6 126.9h0M416.4 146.8h0M428 151h0M426.7 111.7h0M438.7 130.5h0M426.3 148.9h0M426 145h0M428.9 126.9h0M434.8 128.3h0M443.1 143.1h0M429.7 139.8h0M435.5 131.4h0M439.3 131.8h0M436.1 125h0M430.2 138h0M419.9 130.1h0M422.9 140.9h0M420.8 138.2h0M446.6 137.4h0M410.5 135.2h0M441 131.3h0M441.8 139.9h0M433.9 131.6h0M423.2 131.6h0M429.8 139.1h0M433.9 131.2h0M429.9 137.8h0M410.4 126.8h0M419.9 132.2h0M426 131.7h0M419.1 140.5h0M432.4 118.5h0M429.3 123.4h0M448.7 129.8h0M424.6 134.9h0M426.9 133.6h0M447 136.3h0M438.8 144.9h0M418 150.2h0M437.1 143.3h0M419.3 141.9h0M434 129.1h0M455.5 139.6h0M426.5 136h0M439.7 144.9h0M435.9 145.7h0M446.1 122.5h0M423.6 125.3h0M430.3 147.9h0M436.7 124.3h0M425.9 144h0M423.1 133.3h0M432.7 116.9h0M438.2 137.4h0M435.8 124.9h0M420.4 128.5h0M432.1 134.9h0M430.7 151.2h0M444.2 127.4h0M421.7 150.5h0M425.6 147.3h0M447.6 129h0M426.1 135h0M419.3 124.9h0M424.6 142.3h0M424.1 132.2h0M423.9 121.2h0M446.3 111.9h0M421.7 139.5h0M413.2 139.9h0M443.6 126h0M431.6 123.6h0M435.1 135h0M431.7 147.2h0M434.6 147h0M436.5 122.8h0M432.2 138.8h0M412.6 146.9h0M430 137.7h0M418.9 134.9h0M432.7 131.1h0M430.1 114h0M444.9 123.6h0M404.1 125.1h0M419.6 139.3h0M418.7 136.9h0M418.2 155.1h0M435.5 152.8h0M417.5 140.5h0M418.2 139.7h0M437 119h0M416.1 123.1h0M411.9 127.2h0M418.1 120.4h0M430.3 139.3h0M414.1 128.8h0M429.3 131.9h0M421.1 141.8h0M438.9 140.6h0M426.7 153h0M449.2 130.3h0M427.8 145.4h0M419.9 137.9h0M429.7 127.4h0M426.5 119.2h0M422.9 115.1h0M455.3 148.4h0M443.2 137h0M440.6 146.2h0M440.8 142.8h0M418.6 138.1h0M422.9 122.8h0M415.9 138.1h0M441.2 121.1h0M449.1 148h0M424.7 129.6h0M428.2 143.4h0M424.6 123.5h0M433 114.4h0M430.6 145h0M432.5 141.4h0M434.7 140.9h0M430.7 126.1h0M426.4 133.3h0M443.5 149.4h0M433.8 126.8h0M420.6 132.2h0M445 137.2h0M428.4 126.7h0M439.1 136.7h0M428.4 135h0M448.4 132.5h0M448.4 145.8h0M429.6 142.4h0M427.6 126.1h0M425.9 125.4h0M434.9 134.1h0M435.5 141.9h0M393.1 137h0M408.3 135.6h0M418.9 135h0M444.7 117.8h0M431.2 133.3h0M407.2 140.2h0M429.4 129.2h0M420.7 164.5h0M424.5 116.9h0M418.3 130.5h0M424.6 133.3h0M417 139.1h0M423.4 121.1h0M419.6 130.3h0M438.8 138.6h0M425.1 134.2h0M431.5 153.4h0M421.9 138.4h0M437.4 124.9h0M431.2 135.6h0M423.6 139.4h0M440.8 144.7h0M426.8 135.8h0M456 123.5h0M431.6 142.5h0M430.7 140.2h0M431 141.2h0M443.7 131.9h0M431.3 133.5h0M424.4 133.8h0M416 141.1h0M448.6 150.2h0M443.7 124.8h0M446.5 127.2h0M428.4 151.5h0M416.7 142h0M432.2 132.6h0M418.9 138h0M423.7 143.9h0M443.1 120.9h0M423.2 131h0M415.4 123.4h0M430 132h0M410 128.9h0M435 122.5h0M418.4 149.1h0M444.1 118.6h0M413.5 137.6h0M415.3 131.6h0M423.8 139.3h0M399.9 113.1h0M414.9 143.6h0M427.2 117.8h0M434.7 140.7h0M426.2 130.9h0M434 145.5h0M430.8 139.1h0M428.4 130.4h0M418.5 136.4h0M425.5 131.7h0M439.7 138.6h0M439 119h0M435.4 128.4h0M419.7 125.9h0M442.9 141.9h0M420.8 123.2h0M429.2 129.6h0M448.1 120.1h0M408 131.6h0M429.1 135.3h0M437.7 153.7h0M425.1 128.8h0M408.8 136.3h0M438.8 131.5h0M442.6 134.3h0M446.4 137.2h0M416.8 128h0M411.4 117.5h0M432.1 142.3h0M451.5 133.5h0M426.3 123.5h0M440.4 137.7h0M422.2 140.5h0M435.5 116.2h0M437.5 135.3h0M424.5 130h0M449.1 148.6h0M450 123.1h0M421.5 142.6h0M415.1 127.2h0M408.3 151.6h0M441.2 138.4h0M431.5 130h0M424.4 139.8h0M420.8 145.7h0M423.3 125.7h0M443.9 132.6h0M435.4 130.1h0M403.1 139.2h0M413.5 144.3h0M411.2 116.3h0M432.5 138h0M430.2 122.5h0M439.2 120.1h0M423.7 126.5h0M424.7 142.1h0M421.7 139.4h0M437 117.7h0M415.6 130.4h0M422.2 136.9h0M406.8 140.8h0M437.6 132.4h0M413.1 134.1h0M422.8 139.4h0M428 140.9h0M424 147.7h0M402.5 124.3h0M434.6 119.6h0M437.5 122.4h0M430.1 125.3h0M423.9 135.7h0M427.8 130.4h0M453.8 134.1h0M417.8 142.8h0M438.4 145.6h0M449.6 125.1h0M441.2 144.8h0M429 136.3h0M394.5 128.5h0M449.6 117h0M422.8 136.7h0M435.6 149.5h0M408.7 134.4h0M438.9 121.5h0M428.5 151.9h0M444.1 139.1h0M398.9 132.8h0M433.4 131.1h0M428.2 163.3h0M426.5 124.8h0M431.8 131h0M425.4 133.2h0M437.9 136.3h0M415.2 132.7h0M434.5 129.6h0M442.2 141.4h0M417.6 137h0M451.8 148.8h0M428.4 142.5h0M421.3 120.2h0M435.4 136.3h0M434.9 133.8h0M432.7 129.1h0M434.4 141.9h0M428.3 141.7h0M408.6 126.5h0M445.6 150.7h0M431.9 133h0M414.4 137.5h0M438 119.9h0M435.4 138.7h0M434.1 123.3h0M435.2 119.8h0M446.1 135.3h0M415.6 146.8h0M442.3 127.8h0M454.3 124.5h0M432.6 145.2h0M402.9 143.5h0M428.3 133.9h0M416.6 137.1h0M416.2 124.8h0M423.9 122.3h0M447.1 121.4h0M420.3 131h0M429 141.5h0M438.4 131.1h0M424.6 134.3h0M438.5 140.6h0M423.1 114.4h0M453.6 143h0M432 137.2h0M423 124.5h0M425.2 131.9h0M421.8 120.2h0M425.4 139.5h0M423.3 134.2h0M405.2 132h0M427.6 122.4h0M409.1 137.9h0M419.7 138.6h0M424.2 139.9h0M425.1 119.7h0M428 130.9h0M436.6 129.7h0M424.5 142.2h0M442.4 141.2h0M440.9 138.3h0M437.9 142.3h0M433.6 134.6h0M430.6 156.8h0M429.2 131.8h0M424.8 133.7h0M403.4 129h0M377.5 140.1h0M402 147.2h0M423.4 140.9h0M392.2 128.6h0M388.9 138.3h0M399.8 143.2h0M395.3 138.8h0M389.7 134.3h0M375.2 139h0M421.7 139.3h0M405.1 130.1h0M420 131.9h0M411.2 138.9h0M386.6 146.2h0M400.2 139.4h0M406.3 137.8h0M394.7 141.7h0M394.3 138.5h0M390.7 126.1h0M390.6 134h0M400.2 147.5h0M376.3 139h0M392.9 120h0M374 139.2h0M401.1 137.1h0M388.7 155.2h0M397.7 131.1h0M423.5 142.9h0M394.8 147.5h0M402.2 143.1h0M403.3 129.8h0M413.6 139.3h0M385.9 131.9h0M413.4 135h0M400.7 143.2h0M401.8 125.8h0M408.9 145.5h0M412.1 150.9h0M405.1 144.2h0M422.3 135.7h0M424.3 151.9h0M411 152.7h0M411.9 131h0M415.9 140.6h0M405.8 139.2h0M419 142.4h0M390.3 141.9h0M410.2 132.2h0M393.9 134.9h0M391.5 140.8h0M414.2 153.1h0M416.7 146.2h0M416 148.7h0M394.7 143.5h0M404.5 137h0M393.6 134h0M396.2 128.1h0M407.3 137.8h0M401.5 140.7h0M410.1 133.3h0M398.5 125.1h0M421.5 123.4h0M406.6 149.8h0M393.6 151h0M425.9 145.6h0M480 144.7h0M463 143.9h0M464.6 130.3h0M460 157.4h0M464.1 139.9h0M463.4 141.1h0M465.7 137h0M460.4 129.5h0M463 142.3h0M478.5 148h0M477.1 143.7h0M466.6 130.2h0M467.1 124h0M465.4 152.3h0M468.9 148.6h0M465 129.8h0M464.5 137.2h0M473.7 155h0M463 137.5h0M466.3 137.6h0M460.3 140.9h0M469.1 143.1h0M460.5 139.3h0M457.6 147h0M461.5 138.1h0M464.7 135.8h0M461.3 127h0M476.7 142.1h0M468.6 156h0M466.6 144.4h0M467.3 149.1h0M469.9 142.6h0M465.8 142.3h0M473.6 124.7h0M466.5 137.1h0M465.5 125.4h0M471.2 133.9h0M465.9 136.5h0M458 136.9h0M457 133.2h0M465.4 140.2h0M467.5 139.2h0M478.9 143.5h0M460.5 135.7h0M463.6 138.9h0M463.9 133.8h0M476.3 140.6h0M465.3 138.4h0M466 150.7h0M469.8 148.7h0M450 142.7h0M473 155.1h0M467.4 127.4h0M470.4 135.8h0M457.3 135.6h0M473 149.3h0M471.2 132.4h0M481 131.5h0M466.8 129.4h0M474.4 143.6h0M472.1 141h0M466.8 141.6h0M456.8 147.7h0M472.2 137.4h0M467.1 142.5h0M475.9 143.5h0M467.5 136.5h0M459 135.8h0M467.6 138.4h0M467.7 145.9h0M469.6 142.4h0M470.9 141.7h0M467.1 143.9h0M457.7 149.7h0M460.2 146.6h0M467.3 148.7h0M467.5 133.3h0M473.2 141.7h0M467.9 141h0M472.8 146.5h0M468.5 128.7h0M465.1 141.2h0M477.2 143.3h0M466.8 149.4h0M466.7 140.2h0M468.2 129.2h0M472.6 143.6h0M465.7 131.8h0M468.5 150.9h0M463.8 132.5h0M469.6 128.4h0M455.1 137.1h0M463.5 138.3h0M464.3 142.9h0M466.1 135.9h0M464.8 145.2h0M472.6 147.2h0M471.2 115.7h0M461.8 138.1h0M468.5 128.3h0M475.1 142.7h0M463.9 141.7h0M465.4 134.7h0M470.1 137h0M459.6 135.7h0M466.7 132.4h0M474.3 132.3h0M477 147.2h0M462.2 141.4h0M473.8 139h0M460.8 141.3h0M478.3 129.3h0M470.4 140.6h0M466.7 137.6h0M465.6 148.3h0M470.6 133h0M475.9 130.8h0M471 141.9h0M474 143.2h0M473.2 140.3h0M472.7 143.1h0M479.2 135.3h0M474 144h0M468.4 136.3h0M469.9 129.5h0M459.9 145.9h0M458.8 151.3h0M465.9 142.4h0M467.8 143.7h0M465.9 137.8h0M466.7 148.4h0M473.6 150.1h0M469.4 139.1h0M458.2 145.4h0M472 137.5h0M471.9 150.2h0M467.9 148.5h0M469.1 127.6h0M464.8 137.5h0M470.3 134.1h0M465 133.4h0M467.2 141.1h0M472.8 146.6h0M468.3 142.4h0M468 141.4h0M475.9 121.9h0M466.5 142.9h0M473.6 132.4h0M469.3 147h0M465 126.3h0M465.4 131.6h0M471 134.2h0M477.2 141.6h0M463 136.8h0M461.4 143.5h0M475.6 139h0M472.5 133.5h0M469.1 157.9h0M459.7 149.8h0M473.9 126.5h0M459.5 133.3h0M472.8 137.4h0M466.5 145.9h0M468.1 142.3h0M465.7 149h0M463.1 153.1h0M465.6 134.6h0M471 144h0M456.5 142.2h0M460 134.3h0M471.7 134.1h0M469.4 137.7h0M478 139.8h0M460.9 132.3h0M462.4 141.5h0M467.4 147.8h0M468.3 141.5h0M469.2 139.5h0M469 146.4h0M471.7 136.4h0M457.6 134.4h0M468.9 121.8h0M464.7 143.8h0M464.2 132.1h0M477 150.9h0M465.9 150.4h0M474.5 132h0M482.1 133.4h0M465.9 132.2h0M467.7 130.6h0M467.3 148.5h0M468.5 138.4h0M475.8 133.7h0M472.6 138.1h0M468.5 140.6h0M468 140h0M463 136.1h0M469.7 139.6h0M460.9 135.1h0M463.5 139.9h0M468.2 141h0M463.6 140.5h0M459.7 118.7h0M466.9 127.9h0M462 131.2h0M470.7 131.2h0M468.7 136.6h0M460.4 128.4h0M469.7 143.1h0M471.4 153.9h0M468.6 142.3h0M466.5 141h0M465.2 133.5h0M478.1 126.2h0M468.5 143.4h0M467.9 132.9h0M466 136.6h0M461.2 139.7h0M464.8 135.9h0M470.8 132.1h0M469.5 135.5h0M469.4 140.5h0M468.3 132.7h0M462.7 133.6h0M467.9 145.6h0M472.9 136.2h0M467.4 127.8h0M454.8 133.5h0M463.3 128.3h0M457.2 143.9h0M462.5 127.3h0M479.7 141.2h0M465.2 145h0M462.7 151.8h0M458.5 130.1h0M466.1 134.1h0M474.6 127.8h0M462.9 141.6h0M469.9 147.3h0M468.7 156.3h0M464.2 141.1h0M471.5 137.4h0M465.2 136.3h0M463.3 131.3h0M463.8 128.2h0M468.9 127.8h0M478.1 152.4h0M472.8 138.1h0M463.6 148.8h0M467.8 143.9h0M462.8 147.6h0M462.4 140.5h0M457.3 134.8h0M469.5 136.3h0M464.3 145.5h0M466.3 148.9h0M453.5 143.9h0M469.5 128.1h0M459.6 146.2h0M460.9 134.9h0M470 137.1h0M469.3 133.1h0M468.3 147.7h0M468.5 123.2h0M470.3 140h0M461.7 150h0M457.2 153.6h0M463.2 151.4h0M466.5 129.7h0M467.2 142.1h0M469.7 147.5h0M461.8 143.3h0M470.7 137.6h0M461.6 132.5h0M470.8 145.6h0M462.2 129.6h0M473.5 128h0M467.6 133.6h0M457.1 140.5h0M465.7 150.3h0M479.1 138.2h0M472.3 147.4h0M463.8 133.1h0M475.5 136.9h0M466.6 137.4h0M466 135.1h0M470.8 149h0M464.6 129.3h0M467 128.5h0M463.2 148.8h0M479.4 142.4h0M460.9 145.4h0M454.4 134.4h0M475 145.1h0M459.1 127.2h0M471.4 139.2h0M463.4 142.7h0M463.5 125.2h0M471.1 134.7h0M461.2 129.6h0M468.1 133.6h0M470.1 137.6h0M472.6 136.7h0M463.1 124.9h0M460.7 145h0M483.4 130.2h0M461 142.1h0M469.3 134.5h0M467.1 127.6h0M465.1 146.3h0M475.6 138.3h0M465.3 143h0M472.8 143.2h0M462.6 142.2h0M472 134.3h0M459.4 143.4h0M468.7 146.8h0M467.2 134.8h0M464.3 131.9h0M461.5 135.4h0M464.1 147.9h0M460 139.3h0M463.5 150.7h0M468.2 136.8h0M471.2 140.1h0M464.1 151.1h0M470.6 152.5h0M473.1 145.4h0M467.5 131.6h0M470.6 140.2h0M470.4 139.6h0M463 132.2h0M470.6 149.3h0M465.2 143.1h0M474.3 133.4h0M464.9 131.3h0M473.2 141.6h0M464.2 127.3h0M465.8 147.1h0M465.2 136.5h0M470.3 130.5h0M467.1 144.2h0M462.5 133.5h0M468.1 139h0M465.5 141.3h0M468 132.8h0M463.1 143.1h0M472.9 149.8h0M462.2 147.9h0M470.9 139.5h0M469.5 145.9h0M476.6 131.9h0M470.1 138.7h0M465.7 148.3h0M471.3 132.2h0M465.3 141.4h0M459.1 146.2h0M466.4 141h0M468.7 153.2h0M467 137.1h0M476.3 136h0M464 129.5h0M472.7 141.8h0M469.4 141h0M466.1 133.9h0M462.6 143h0M467.5 151.9h0M462.7 136.2h0M461.3 150h0M460.1 145.5h0M474.7 138.7h0M470.8 124h0M464.7 127.5h0M467.8 139.9h0M462.7 146.8h0M468.8 135.9h0M464.1 128.9h0M465.8 155.5h0M463 142.9h0M463.9 145.8h0M469.3 138.1h0M457.2 136h0M473.4 138h0M470.3 136.2h0M456.7 143h0M468.6 135.5h0M464.8 142h0M463.6 142.4h0M465.8 122.3h0M466.1 135.4h0M462.3 142.8h0M464.2 143.8h0M472.8 140.9h0M458.5 134.4h0M471.8 137.9h0M462.5 139.2h0M469.6 141.8h0M470.4 133.7h0M465.4 138h0M466.8 124.3h0M465.6 129.9h0M474.4 151.4h0M476 145.9h0M464.3 147h0M465.8 144.4h0M462 135.5h0M469.4 153h0M466.8 156.6h0M481.9 130.4h0M466.8 132.8h0M466.1 135.9h0M466.5 147h0M472 141.8h0M466.9 140.8h0M467.6 144.1h0M466.9 143.6h0M459.8 145.8h0M476.4 141.2h0M459.2 149.9h0M465.1 117.7h0" stroke="#000" stroke-width="1.0" stroke-linecap="square" stroke-opacity="0.38"/></g>
<rect x="226.9" y="109.2" width="109.1" height="63.9" fill="none" stroke="#e2629e" stroke-width="1.1"/>
<line x1="284.2" y1="109.2" x2="284.2" y2="173.1" stroke="#e2629e" stroke-width="1.1"/>
<line x1="307.6" y1="109.2" x2="307.6" y2="173.1" stroke="#e2629e" stroke-width="1.1"/>
<rect x="375.8" y="110.1" width="107.6" height="63.6" fill="none" stroke="#e2629e" stroke-width="1.1"/>
<line x1="434.2" y1="110.1" x2="434.2" y2="173.7" stroke="#e2629e" stroke-width="1.1"/>
<line x1="455.4" y1="110.1" x2="455.4" y2="173.7" stroke="#e2629e" stroke-width="1.1"/>
<text x="227.3" y="104.2" font-size="13.4" fill="#222">Div2+</text>
<text x="308.5" y="103.2" font-size="13.4" fill="#222">Div0</text>
<text x="274.8" y="198.9" font-size="13.4" fill="#222">Div1</text>
<line x1="247.7" y1="105.7" x2="256.4" y2="118.4" stroke="#222" stroke-width="0.9"/>
<line x1="325.1" y1="107" x2="316.3" y2="121.7" stroke="#222" stroke-width="0.9"/>
<line x1="292.3" y1="168.3" x2="291.8" y2="183.6" stroke="#222" stroke-width="0.9"/>
<line x1="52.4" y1="173" x2="52.4" y2="92" stroke="#222" stroke-width="1.6"/>
<path d="M49.4 93 L52.4 86.5 L55.4 93 Z" fill="#222" stroke="none" stroke-width="1"/>
<text x="58" y="207.6" font-size="13.5" fill="#222" transform="rotate(-90 58 207.6)">CD4</text>
<text x="68.3" y="228.6" font-size="13.5" fill="#222">CTV</text>
<line x1="107.5" y1="220.7" x2="483" y2="220.7" stroke="#222" stroke-width="1.6"/>
<path d="M482 217.7 L489 220.7 L482 223.7 Z" fill="#222" stroke="none" stroke-width="1"/>
<text x="541.7" y="58" font-size="37" fill="#222">B</text>
<rect x="592.8" y="72.7" width="135.4" height="155.5" fill="#fff" stroke="none" stroke-width="1"/>
<rect x="600" y="72.7" width="63.6" height="155.5" fill="#faf4f7" stroke="none" stroke-width="1"/>
<rect x="663.6" y="72.7" width="25.9" height="155.5" fill="#f6dbe7" stroke="none" stroke-width="1"/>
<rect x="689.5" y="72.7" width="38.7" height="155.5" fill="#eab4cc" stroke="none" stroke-width="1"/>
<path d="M592.8 150.8 L592.8 150.8 L593.3 150.8 L593.8 150.8 L594.3 150.8 L594.8 150.8 L595.3 150.8 L595.8 150.8 L596.3 150.8 L596.8 150.8 L597.3 150.8 L597.8 150.8 L598.3 150.8 L598.8 150.8 L599.3 150.8 L599.8 150.8 L600.3 150.8 L600.8 150.8 L601.3 150.8 L601.8 150.8 L602.3 150.8 L602.8 150.8 L603.3 150.8 L603.8 150.8 L604.3 150.8 L604.8 150.8 L605.3 150.8 L605.8 150.8 L606.3 150.8 L606.8 150.8 L607.3 150.8 L607.8 150.8 L608.3 150.8 L608.8 150.8 L609.3 150.8 L609.8 150.8 L610.3 150.8 L610.8 150.8 L611.3 150.8 L611.8 150.8 L612.3 150.8 L612.8 150.8 L613.3 150.8 L613.8 150.8 L614.3 150.8 L614.8 150.8 L615.3 150.8 L615.8 150.8 L616.3 150.8 L616.8 150.8 L617.3 150.8 L617.8 150.8 L618.3 150.8 L618.8 150.8 L619.3 150.8 L619.8 150.8 L620.3 150.8 L620.8 150.8 L621.3 150.8 L621.8 150.8 L622.3 150.8 L622.8 150.8 L623.3 150.8 L623.8 150.8 L624.3 150.8 L624.8 150.8 L625.3 150.8 L625.8 150.8 L626.3 150.8 L626.8 150.8 L627.3 150.8 L627.8 150.8 L628.3 150.8 L628.8 150.8 L629.3 150.8 L629.8 150.8 L630.3 150.8 L630.8 150.8 L631.3 150.8 L631.8 150.8 L632.3 150.8 L632.8 150.8 L633.3 150.8 L633.8 150.8 L634.3 150.8 L634.8 150.8 L635.3 150.8 L635.8 150.8 L636.3 150.8 L636.8 150.8 L637.3 150.8 L637.8 150.8 L638.3 150.8 L638.8 150.8 L639.3 150.8 L639.8 150.8 L640.3 150.8 L640.8 150.8 L641.3 150.8 L641.8 150.8 L642.3 150.8 L642.8 150.8 L643.3 150.8 L643.8 150.8 L644.3 150.8 L644.8 150.8 L645.3 150.8 L645.8 150.8 L646.3 150.8 L646.8 150.8 L647.3 150.8 L647.8 150.8 L648.3 150.8 L648.8 150.8 L649.3 150.8 L649.8 150.8 L650.3 150.8 L650.8 150.8 L651.3 150.8 L651.8 150.8 L652.3 150.8 L652.8 150.8 L653.3 150.8 L653.8 150.8 L654.3 150.8 L654.8 150.8 L655.3 150.8 L655.8 150.8 L656.3 150.8 L656.8 150.8 L657.3 150.8 L657.8 150.8 L658.3 150.8 L658.8 150.8 L659.3 150.8 L659.8 150.8 L660.3 150.8 L660.8 150.7 L661.3 150.7 L661.8 150.7 L662.3 150.7 L662.8 150.6 L663.3 150.6 L663.8 150.5 L664.3 150.4 L664.8 150.3 L665.3 150.2 L665.8 150 L666.3 149.9 L666.8 149.7 L667.3 149.5 L667.8 149.2 L668.3 149 L668.8 148.7 L669.3 148.4 L669.8 148 L670.3 147.7 L670.8 147.3 L671.3 146.9 L671.8 146.6 L672.3 146.2 L672.8 145.8 L673.3 145.5 L673.8 145.2 L674.3 144.9 L674.8 144.7 L675.3 144.5 L675.8 144.4 L676.3 144.3 L676.8 144.3 L677.3 144.4 L677.8 144.5 L678.3 144.6 L678.8 144.9 L679.3 145.1 L679.8 145.4 L680.3 145.8 L680.8 146.1 L681.3 146.5 L681.8 146.9 L682.3 147.2 L682.8 147.6 L683.3 148 L683.8 148.3 L684.3 148.6 L684.8 148.9 L685.3 149.2 L685.8 149.4 L686.3 149.6 L686.8 149.8 L687.3 149.9 L687.8 150 L688.3 150.1 L688.8 150.1 L689.3 150.1 L689.8 149.9 L690.3 149.7 L690.8 149.3 L691.3 148.8 L691.8 148.1 L692.3 147.1 L692.8 145.9 L693.3 144.3 L693.8 142.2 L694.3 139.8 L694.8 136.8 L695.3 133.3 L695.8 129.4 L696.3 124.9 L696.8 120 L697.3 114.8 L697.8 109.4 L698.3 104 L698.8 98.7 L699.3 93.8 L699.8 89.4 L700.3 85.8 L700.8 83.1 L701.3 81.4 L701.8 80.8 L702.3 81.4 L702.8 83.1 L703.3 85.8 L703.8 89.4 L704.3 93.8 L704.8 98.7 L705.3 104 L705.8 109.4 L706.3 114.8 L706.8 120 L707.3 124.9 L707.8 129.4 L708.3 133.3 L708.8 136.8 L709.3 139.8 L709.8 142.3 L710.3 144.3 L710.8 145.9 L711.3 147.2 L711.8 148.2 L712.3 148.9 L712.8 149.5 L713.3 149.9 L713.8 150.2 L714.3 150.4 L714.8 150.5 L715.3 150.6 L715.8 150.7 L716.3 150.7 L716.8 150.8 L717.3 150.8 L717.8 150.8 L718.3 150.8 L718.8 150.8 L719.3 150.8 L719.8 150.8 L720.3 150.8 L720.8 150.8 L721.3 150.8 L721.8 150.8 L722.3 150.8 L722.8 150.8 L723.3 150.8 L723.8 150.8 L724.3 150.8 L724.8 150.8 L725.3 150.8 L725.8 150.8 L726.3 150.8 L726.8 150.8 L727.3 150.8 L727.8 150.8 L728.3 150.8 L728.2 150.8 Z" fill="#4a3a40" stroke="#8d7d85" stroke-width="0.8" fill-opacity="0.27"/>
<path d="M592.8 228.2 L592.8 228.2 L593.3 228.2 L593.8 228.2 L594.3 228.2 L594.8 228.2 L595.3 228.2 L595.8 228.2 L596.3 228.2 L596.8 228.2 L597.3 228.2 L597.8 228.2 L598.3 228.2 L598.8 228.2 L599.3 228.2 L599.8 228.2 L600.3 228.2 L600.8 228.2 L601.3 228.2 L601.8 228.2 L602.3 228.2 L602.8 228.2 L603.3 228.2 L603.8 228.2 L604.3 228.2 L604.8 228.2 L605.3 228.2 L605.8 228.2 L606.3 228.2 L606.8 228.2 L607.3 228.2 L607.8 228.2 L608.3 228.2 L608.8 228.2 L609.3 228.2 L609.8 228.2 L610.3 228.1 L610.8 228.1 L611.3 228.1 L611.8 228.1 L612.3 228.1 L612.8 228.1 L613.3 228.1 L613.8 228.1 L614.3 228 L614.8 228 L615.3 228 L615.8 228 L616.3 228 L616.8 227.9 L617.3 227.9 L617.8 227.9 L618.3 227.8 L618.8 227.8 L619.3 227.8 L619.8 227.7 L620.3 227.7 L620.8 227.6 L621.3 227.6 L621.8 227.5 L622.3 227.5 L622.8 227.4 L623.3 227.3 L623.8 227.3 L624.3 227.2 L624.8 227.1 L625.3 227.1 L625.8 227 L626.3 226.9 L626.8 226.8 L627.3 226.8 L627.8 226.7 L628.3 226.6 L628.8 226.5 L629.3 226.4 L629.8 226.3 L630.3 226.2 L630.8 226.2 L631.3 226.1 L631.8 226 L632.3 225.9 L632.8 225.8 L633.3 225.7 L633.8 225.6 L634.3 225.6 L634.8 225.5 L635.3 225.4 L635.8 225.3 L636.3 225.2 L636.8 225.1 L637.3 225 L637.8 224.9 L638.3 224.8 L638.8 224.7 L639.3 224.6 L639.8 224.4 L640.3 224.3 L640.8 224.1 L641.3 224 L641.8 223.8 L642.3 223.6 L642.8 223.4 L643.3 223.1 L643.8 222.9 L644.3 222.6 L644.8 222.3 L645.3 221.9 L645.8 221.5 L646.3 221.1 L646.8 220.6 L647.3 220.1 L647.8 219.5 L648.3 218.9 L648.8 218.2 L649.3 217.4 L649.8 216.5 L650.3 215.6 L650.8 214.5 L651.3 213.4 L651.8 212.2 L652.3 210.8 L652.8 209.4 L653.3 207.8 L653.8 206.1 L654.3 204.2 L654.8 202.3 L655.3 200.2 L655.8 198 L656.3 195.7 L656.8 193.2 L657.3 190.7 L657.8 188.1 L658.3 185.5 L658.8 182.8 L659.3 180.2 L659.8 177.5 L660.3 174.9 L660.8 172.4 L661.3 169.9 L661.8 167.7 L662.3 165.6 L662.8 163.7 L663.3 162.1 L663.8 160.7 L664.3 159.6 L664.8 158.8 L665.3 158.3 L665.8 158.1 L666.3 158.4 L666.8 159.1 L667.3 160.2 L667.8 161.7 L668.3 163.7 L668.8 165.9 L669.3 168.4 L669.8 171.2 L670.3 174.2 L670.8 177.3 L671.3 180.4 L671.8 183.6 L672.3 186.8 L672.8 189.9 L673.3 193 L673.8 195.9 L674.3 198.7 L674.8 201.3 L675.3 203.7 L675.8 206 L676.3 208.1 L676.8 210.1 L677.3 211.8 L677.8 213.5 L678.3 214.9 L678.8 216.3 L679.3 217.5 L679.8 218.6 L680.3 219.6 L680.8 220.4 L681.3 221.3 L681.8 222 L682.3 222.6 L682.8 223.2 L683.3 223.7 L683.8 224.2 L684.3 224.6 L684.8 224.9 L685.3 225.2 L685.8 225.4 L686.3 225.6 L686.8 225.6 L687.3 225.6 L687.8 225.4 L688.3 225.2 L688.8 224.8 L689.3 224.2 L689.8 223.4 L690.3 222.5 L690.8 221.3 L691.3 219.9 L691.8 218.3 L692.3 216.5 L692.8 214.6 L693.3 212.4 L693.8 210.2 L694.3 207.9 L694.8 205.6 L695.3 203.4 L695.8 201.3 L696.3 199.5 L696.8 198 L697.3 196.8 L697.8 196.1 L698.3 195.8 L698.8 195.9 L699.3 196.5 L699.8 197.5 L700.3 198.9 L700.8 200.7 L701.3 202.7 L701.8 204.8 L702.3 207.1 L702.8 209.5 L703.3 211.8 L703.8 214 L704.3 216.1 L704.8 218.1 L705.3 219.8 L705.8 221.3 L706.3 222.7 L706.8 223.8 L707.3 224.8 L707.8 225.6 L708.3 226.2 L708.8 226.7 L709.3 227.1 L709.8 227.4 L710.3 227.6 L710.8 227.8 L711.3 227.9 L711.8 228 L712.3 228.1 L712.8 228.1 L713.3 228.1 L713.8 228.2 L714.3 228.2 L714.8 228.2 L715.3 228.2 L715.8 228.2 L716.3 228.2 L716.8 228.2 L717.3 228.2 L717.8 228.2 L718.3 228.2 L718.8 228.2 L719.3 228.2 L719.8 228.2 L720.3 228.2 L720.8 228.2 L721.3 228.2 L721.8 228.2 L722.3 228.2 L722.8 228.2 L723.3 228.2 L723.8 228.2 L724.3 228.2 L724.8 228.2 L725.3 228.2 L725.8 228.2 L726.3 228.2 L726.8 228.2 L727.3 228.2 L727.8 228.2 L728.3 228.2 L728.2 228.2 Z" fill="#505050" stroke="#a09898" stroke-width="0.8" fill-opacity="0.19"/>
<line x1="592.8" y1="150.8" x2="728.2" y2="150.8" stroke="#aaaaaa" stroke-width="1.5"/>
<path d="M592.8 72.7 H600 M592.8 72.7 V228.2 H600" fill="none" stroke="#9a9a9a" stroke-width="1.1"/>
<rect x="600" y="72.7" width="128.2" height="155.5" fill="none" stroke="#e2629e" stroke-width="1.1"/>
<line x1="663.6" y1="72.7" x2="663.6" y2="228.2" stroke="#e2629e" stroke-width="1.1"/>
<line x1="689.5" y1="72.7" x2="689.5" y2="228.2" stroke="#e2629e" stroke-width="1.1"/>
<line x1="600.6" y1="228.2" x2="600.6" y2="230.7" stroke="#888" stroke-width="0.8"/>
<text x="603.1" y="234.2" font-size="3.6" fill="#777" text-anchor="middle">10</text>
<line x1="623.8" y1="228.2" x2="623.8" y2="230.7" stroke="#888" stroke-width="0.8"/>
<text x="626.3" y="234.2" font-size="3.6" fill="#777" text-anchor="middle">10</text>
<line x1="645.5" y1="228.2" x2="645.5" y2="230.7" stroke="#888" stroke-width="0.8"/>
<text x="648" y="234.2" font-size="3.6" fill="#777" text-anchor="middle">10</text>
<line x1="683.4" y1="228.2" x2="683.4" y2="230.7" stroke="#888" stroke-width="0.8"/>
<text x="685.9" y="234.2" font-size="3.6" fill="#777" text-anchor="middle">10</text>
<line x1="715.2" y1="228.2" x2="715.2" y2="230.7" stroke="#888" stroke-width="0.8"/>
<text x="717.7" y="234.2" font-size="3.6" fill="#777" text-anchor="middle">10</text>
<rect x="620.3" y="228" width="6" height="1.8" fill="#333" stroke="none" stroke-width="1"/>
<text x="611.5" y="67.4" font-size="13.4" fill="#222">Div2+</text>
<text x="662.8" y="67.4" font-size="13.4" fill="#222">Div1</text>
<text x="698.3" y="67.4" font-size="13.4" fill="#222">Div0</text>
<text x="587" y="132.9" font-size="15.3" fill="#222" transform="rotate(-90 587 132.9)">Day 4</text>
<text x="587" y="211.7" font-size="15.3" fill="#222" transform="rotate(-90 587 211.7)">Day 10</text>
<text x="595.5" y="247" font-size="13.5" fill="#222">CTV</text>
<line x1="631.5" y1="240.3" x2="724" y2="240.3" stroke="#222" stroke-width="1.6"/>
<path d="M723 237.3 L730.5 240.3 L723 243.3 Z" fill="#222" stroke="none" stroke-width="1"/>
<text x="770" y="57.3" font-size="37" fill="#222">C</text>
<path d="M832.3 73.5 V205.2 H980.7" fill="none" stroke="#222" stroke-width="1.2"/>
<line x1="829.3" y1="205.2" x2="832.3" y2="205.2" stroke="#222" stroke-width="1.1"/>
<text x="828.3" y="208.2" font-size="8.2" font-weight="bold" fill="#333" text-anchor="end">0</text>
<line x1="829.3" y1="161.3" x2="832.3" y2="161.3" stroke="#222" stroke-width="1.1"/>
<text x="828.3" y="164.3" font-size="8.2" font-weight="bold" fill="#333" text-anchor="end">50000</text>
<line x1="829.3" y1="117.4" x2="832.3" y2="117.4" stroke="#222" stroke-width="1.1"/>
<text x="828.3" y="120.4" font-size="8.2" font-weight="bold" fill="#333" text-anchor="end">100000</text>
<line x1="829.3" y1="73.5" x2="832.3" y2="73.5" stroke="#222" stroke-width="1.1"/>
<text x="828.3" y="76.5" font-size="8.2" font-weight="bold" fill="#333" text-anchor="end">150000</text>
<line x1="832.3" y1="205.2" x2="832.3" y2="208.2" stroke="#222" stroke-width="1.1"/>
<text x="832.3" y="216.7" font-size="8.2" font-weight="bold" fill="#333" text-anchor="middle">0</text>
<line x1="881.8" y1="205.2" x2="881.8" y2="208.2" stroke="#222" stroke-width="1.1"/>
<text x="881.8" y="216.7" font-size="8.2" font-weight="bold" fill="#333" text-anchor="middle">5</text>
<line x1="931.2" y1="205.2" x2="931.2" y2="208.2" stroke="#222" stroke-width="1.1"/>
<text x="931.2" y="216.7" font-size="8.2" font-weight="bold" fill="#333" text-anchor="middle">10</text>
<line x1="980.7" y1="205.2" x2="980.7" y2="208.2" stroke="#222" stroke-width="1.1"/>
<text x="980.7" y="216.7" font-size="8.2" font-weight="bold" fill="#333" text-anchor="middle">15</text>
<text x="906.3" y="230" font-size="9.2" font-weight="bold" fill="#333" text-anchor="middle">Days post MTB300 stimulation</text>
<text x="797.5" y="138.5" font-size="9.2" font-weight="bold" fill="#333" text-anchor="middle" transform="rotate(-90 797.5 138.5)">CD4 T cell number</text>
<path d="M832.3 205.2 L842.2 205.2 L852.1 205.2 L862 205.2 L871.9 204.8 L881.8 203.4 L891.7 198 L901.6 171.7 L911.4 160 L921.3 162.4 L931.2 137.7 L941.1 132.7 L951 143.1 L960.9 146.6 L970.8 144.4" fill="none" stroke="#222" stroke-width="1.0"/>
<path d="M832.3 205.2 L842.2 205.2 L852.1 205.2 L862 205.2 L871.9 204.3 L881.8 200.2 L891.7 195.2 L901.6 187.5 L911.4 190.4 L921.3 191 L931.2 190.7 L941.1 192.6 L951 193.3 L960.9 194.2 L970.8 195.8" fill="none" stroke="#222" stroke-width="1.0"/>
<path d="M832.3 104.2 L842.2 135.9 L852.1 121.9 L862 127.4 L871.9 114.2 L881.8 92.4 L891.7 135.9 L901.6 137.7 L911.4 144.7 L921.3 168.3 L931.2 163.5 L941.1 171.2 L951 178.4 L960.9 188.6 L970.8 194.1" fill="none" stroke="#222" stroke-width="1.0"/>
<rect x="829.9" y="202.8" width="4.8" height="4.8" fill="#fff" stroke="#222" stroke-width="0.9"/>
<line x1="829.9" y1="205.2" x2="834.7" y2="205.2" stroke="#222" stroke-width="0.6"/>
<rect x="839.8" y="202.8" width="4.8" height="4.8" fill="#fff" stroke="#222" stroke-width="0.9"/>
<line x1="839.8" y1="205.2" x2="844.6" y2="205.2" stroke="#222" stroke-width="0.6"/>
<rect x="849.7" y="202.8" width="4.8" height="4.8" fill="#fff" stroke="#222" stroke-width="0.9"/>
<line x1="849.7" y1="205.2" x2="854.5" y2="205.2" stroke="#222" stroke-width="0.6"/>
<rect x="859.6" y="202.8" width="4.8" height="4.8" fill="#fff" stroke="#222" stroke-width="0.9"/>
<line x1="859.6" y1="205.2" x2="864.4" y2="205.2" stroke="#222" stroke-width="0.6"/>
<rect x="869.5" y="202.4" width="4.8" height="4.8" fill="#fff" stroke="#222" stroke-width="0.9"/>
<line x1="869.5" y1="204.8" x2="874.3" y2="204.8" stroke="#222" stroke-width="0.6"/>
<rect x="879.4" y="201" width="4.8" height="4.8" fill="#fff" stroke="#222" stroke-width="0.9"/>
<line x1="879.4" y1="203.4" x2="884.2" y2="203.4" stroke="#222" stroke-width="0.6"/>
<rect x="889.3" y="195.6" width="4.8" height="4.8" fill="#fff" stroke="#222" stroke-width="0.9"/>
<line x1="889.3" y1="198" x2="894.1" y2="198" stroke="#222" stroke-width="0.6"/>
<rect x="899.2" y="169.3" width="4.8" height="4.8" fill="#fff" stroke="#222" stroke-width="0.9"/>
<line x1="899.2" y1="171.7" x2="904" y2="171.7" stroke="#222" stroke-width="0.6"/>
<rect x="909" y="157.6" width="4.8" height="4.8" fill="#fff" stroke="#222" stroke-width="0.9"/>
<line x1="909" y1="160" x2="913.8" y2="160" stroke="#222" stroke-width="0.6"/>
<rect x="918.9" y="160" width="4.8" height="4.8" fill="#fff" stroke="#222" stroke-width="0.9"/>
<line x1="918.9" y1="162.4" x2="923.7" y2="162.4" stroke="#222" stroke-width="0.6"/>
<rect x="928.8" y="135.3" width="4.8" height="4.8" fill="#fff" stroke="#222" stroke-width="0.9"/>
<line x1="928.8" y1="137.7" x2="933.6" y2="137.7" stroke="#222" stroke-width="0.6"/>
<rect x="938.7" y="130.3" width="4.8" height="4.8" fill="#fff" stroke="#222" stroke-width="0.9"/>
<line x1="938.7" y1="132.7" x2="943.5" y2="132.7" stroke="#222" stroke-width="0.6"/>
<rect x="948.6" y="140.7" width="4.8" height="4.8" fill="#fff" stroke="#222" stroke-width="0.9"/>
<line x1="948.6" y1="143.1" x2="953.4" y2="143.1" stroke="#222" stroke-width="0.6"/>
<rect x="958.5" y="144.2" width="4.8" height="4.8" fill="#fff" stroke="#222" stroke-width="0.9"/>
<line x1="958.5" y1="146.6" x2="963.3" y2="146.6" stroke="#222" stroke-width="0.6"/>
<rect x="968.4" y="142" width="4.8" height="4.8" fill="#fff" stroke="#222" stroke-width="0.9"/>
<line x1="968.4" y1="144.4" x2="973.2" y2="144.4" stroke="#222" stroke-width="0.6"/>
<path d="M832.3 202.4 L834.9 207.1 L829.7 207.1 Z" fill="#fff" stroke="#222" stroke-width="0.9"/>
<path d="M842.2 202.4 L844.8 207.1 L839.6 207.1 Z" fill="#fff" stroke="#222" stroke-width="0.9"/>
<path d="M852.1 202.4 L854.7 207.1 L849.5 207.1 Z" fill="#fff" stroke="#222" stroke-width="0.9"/>
<path d="M862 202.4 L864.6 207.1 L859.4 207.1 Z" fill="#fff" stroke="#222" stroke-width="0.9"/>
<path d="M871.9 201.5 L874.5 206.2 L869.3 206.2 Z" fill="#fff" stroke="#222" stroke-width="0.9"/>
<path d="M881.8 197.4 L884.4 202.1 L879.2 202.1 Z" fill="#fff" stroke="#222" stroke-width="0.9"/>
<path d="M891.7 192.4 L894.3 197.1 L889.1 197.1 Z" fill="#fff" stroke="#222" stroke-width="0.9"/>
<path d="M901.6 184.7 L904.2 189.4 L899 189.4 Z" fill="#fff" stroke="#222" stroke-width="0.9"/>
<path d="M911.4 187.6 L914 192.3 L908.8 192.3 Z" fill="#fff" stroke="#222" stroke-width="0.9"/>
<path d="M921.3 188.2 L923.9 192.9 L918.7 192.9 Z" fill="#fff" stroke="#222" stroke-width="0.9"/>
<path d="M931.2 187.9 L933.8 192.6 L928.6 192.6 Z" fill="#fff" stroke="#222" stroke-width="0.9"/>
<path d="M941.1 189.8 L943.7 194.5 L938.5 194.5 Z" fill="#fff" stroke="#222" stroke-width="0.9"/>
<path d="M951 190.5 L953.6 195.2 L948.4 195.2 Z" fill="#fff" stroke="#222" stroke-width="0.9"/>
<path d="M960.9 191.4 L963.5 196.1 L958.3 196.1 Z" fill="#fff" stroke="#222" stroke-width="0.9"/>
<path d="M970.8 193 L973.4 197.7 L968.2 197.7 Z" fill="#fff" stroke="#222" stroke-width="0.9"/>
<circle cx="832.3" cy="104.2" r="2.7" fill="#111" stroke="none" stroke-width="1"/>
<circle cx="842.2" cy="135.9" r="2.7" fill="#111" stroke="none" stroke-width="1"/>
<circle cx="852.1" cy="121.9" r="2.7" fill="#111" stroke="none" stroke-width="1"/>
<circle cx="862" cy="127.4" r="2.7" fill="#111" stroke="none" stroke-width="1"/>
<circle cx="871.9" cy="114.2" r="2.7" fill="#111" stroke="none" stroke-width="1"/>
<circle cx="881.8" cy="92.4" r="2.7" fill="#111" stroke="none" stroke-width="1"/>
<circle cx="891.7" cy="135.9" r="2.7" fill="#111" stroke="none" stroke-width="1"/>
<circle cx="901.6" cy="137.7" r="2.7" fill="#111" stroke="none" stroke-width="1"/>
<circle cx="911.4" cy="144.7" r="2.7" fill="#111" stroke="none" stroke-width="1"/>
<circle cx="921.3" cy="168.3" r="2.7" fill="#111" stroke="none" stroke-width="1"/>
<circle cx="931.2" cy="163.5" r="2.7" fill="#111" stroke="none" stroke-width="1"/>
<circle cx="941.1" cy="171.2" r="2.7" fill="#111" stroke="none" stroke-width="1"/>
<circle cx="951" cy="178.4" r="2.7" fill="#111" stroke="none" stroke-width="1"/>
<circle cx="960.9" cy="188.6" r="2.7" fill="#111" stroke="none" stroke-width="1"/>
<circle cx="970.8" cy="194.1" r="2.7" fill="#111" stroke="none" stroke-width="1"/>
<line x1="983.5" y1="92.8" x2="991" y2="92.8" stroke="#333" stroke-width="0.9"/>
<circle cx="987.3" cy="92.8" r="2.4" fill="#111" stroke="none" stroke-width="1"/>
<text x="996" y="96" font-size="9" fill="#444">Div0</text>
<line x1="983.5" y1="103.7" x2="991" y2="103.7" stroke="#333" stroke-width="0.9"/>
<path d="M987.3 101.2 L989.6 105.4 L985 105.4 Z" fill="#fff" stroke="#333" stroke-width="0.8"/>
<text x="996" y="106.9" font-size="9" fill="#444">Div1</text>
<line x1="983.5" y1="115.8" x2="991" y2="115.8" stroke="#333" stroke-width="0.9"/>
<rect x="985.1" y="113.6" width="4.4" height="4.4" fill="#fff" stroke="#333" stroke-width="0.8"/>
<line x1="985.1" y1="115.8" x2="989.5" y2="115.8" stroke="#333" stroke-width="0.5"/>
<text x="996" y="119" font-size="9" fill="#444">Div2+</text>
<text x="1052.4" y="57.9" font-size="37" fill="#222">D</text>
<text x="1145.3" y="68.1" font-size="15.3" fill="#222" text-anchor="middle">Day 0</text>
<text x="1299.3" y="68.6" font-size="15.3" fill="#222" text-anchor="middle">Day 4</text>
<text x="1443.5" y="68.6" font-size="15.3" fill="#222" text-anchor="middle">Day 10</text>
<line x1="1090.5" y1="91" x2="1093.5" y2="91" stroke="#777" stroke-width="0.8"/>
<text x="1089.5" y="92.5" font-size="4.3" fill="#555" text-anchor="end">10</text>
<line x1="1090.5" y1="118.4" x2="1093.5" y2="118.4" stroke="#777" stroke-width="0.8"/>
<text x="1089.5" y="119.9" font-size="4.3" fill="#555" text-anchor="end">10</text>
<line x1="1090.5" y1="150.8" x2="1093.5" y2="150.8" stroke="#777" stroke-width="0.8"/>
<text x="1089.5" y="152.3" font-size="4.3" fill="#555" text-anchor="end">10</text>
<line x1="1090.5" y1="169" x2="1093.5" y2="169" stroke="#777" stroke-width="0.8"/>
<text x="1089.5" y="170.5" font-size="4.3" fill="#555" text-anchor="end">10</text>
<line x1="1090.5" y1="188.2" x2="1093.5" y2="188.2" stroke="#777" stroke-width="0.8"/>
<text x="1089.5" y="189.7" font-size="4.3" fill="#555" text-anchor="end">10</text>
<line x1="1091.9" y1="85" x2="1093.5" y2="85" stroke="#999" stroke-width="0.6"/>
<line x1="1091.9" y1="89" x2="1093.5" y2="89" stroke="#999" stroke-width="0.6"/>
<line x1="1091.9" y1="93" x2="1093.5" y2="93" stroke="#999" stroke-width="0.6"/>
<line x1="1091.9" y1="97" x2="1093.5" y2="97" stroke="#999" stroke-width="0.6"/>
<line x1="1091.9" y1="101" x2="1093.5" y2="101" stroke="#999" stroke-width="0.6"/>
<line x1="1091.9" y1="105" x2="1093.5" y2="105" stroke="#999" stroke-width="0.6"/>
<line x1="1091.9" y1="109" x2="1093.5" y2="109" stroke="#999" stroke-width="0.6"/>
<line x1="1091.9" y1="113" x2="1093.5" y2="113" stroke="#999" stroke-width="0.6"/>
<line x1="1091.9" y1="117" x2="1093.5" y2="117" stroke="#999" stroke-width="0.6"/>
<line x1="1091.9" y1="121" x2="1093.5" y2="121" stroke="#999" stroke-width="0.6"/>
<line x1="1091.9" y1="125" x2="1093.5" y2="125" stroke="#999" stroke-width="0.6"/>
<line x1="1091.9" y1="129" x2="1093.5" y2="129" stroke="#999" stroke-width="0.6"/>
<line x1="1091.9" y1="133" x2="1093.5" y2="133" stroke="#999" stroke-width="0.6"/>
<line x1="1091.9" y1="137" x2="1093.5" y2="137" stroke="#999" stroke-width="0.6"/>
<line x1="1091.9" y1="141" x2="1093.5" y2="141" stroke="#999" stroke-width="0.6"/>
<line x1="1091.9" y1="145" x2="1093.5" y2="145" stroke="#999" stroke-width="0.6"/>
<line x1="1091.9" y1="149" x2="1093.5" y2="149" stroke="#999" stroke-width="0.6"/>
<line x1="1091.9" y1="153" x2="1093.5" y2="153" stroke="#999" stroke-width="0.6"/>
<line x1="1091.9" y1="157" x2="1093.5" y2="157" stroke="#999" stroke-width="0.6"/>
<line x1="1091.9" y1="161" x2="1093.5" y2="161" stroke="#999" stroke-width="0.6"/>
<line x1="1091.9" y1="165" x2="1093.5" y2="165" stroke="#999" stroke-width="0.6"/>
<line x1="1091.9" y1="169" x2="1093.5" y2="169" stroke="#999" stroke-width="0.6"/>
<line x1="1091.9" y1="173" x2="1093.5" y2="173" stroke="#999" stroke-width="0.6"/>
<line x1="1091.9" y1="177" x2="1093.5" y2="177" stroke="#999" stroke-width="0.6"/>
<line x1="1091.9" y1="181" x2="1093.5" y2="181" stroke="#999" stroke-width="0.6"/>
<line x1="1091.9" y1="185" x2="1093.5" y2="185" stroke="#999" stroke-width="0.6"/>
<line x1="1091.9" y1="189" x2="1093.5" y2="189" stroke="#999" stroke-width="0.6"/>
<line x1="1091.9" y1="193" x2="1093.5" y2="193" stroke="#999" stroke-width="0.6"/>
<line x1="1119" y1="196.4" x2="1119" y2="199.4" stroke="#777" stroke-width="0.8"/>
<text x="1119" y="205.9" font-size="4.3" fill="#555" text-anchor="middle">10</text>
<line x1="1163.8" y1="196.4" x2="1163.8" y2="199.4" stroke="#777" stroke-width="0.8"/>
<text x="1163.8" y="205.9" font-size="4.3" fill="#555" text-anchor="middle">10</text>
<line x1="1188.7" y1="196.4" x2="1188.7" y2="199.4" stroke="#777" stroke-width="0.8"/>
<text x="1188.7" y="205.9" font-size="4.3" fill="#555" text-anchor="middle">10</text>
<line x1="1099" y1="196.4" x2="1099" y2="198" stroke="#999" stroke-width="0.6"/>
<line x1="1103" y1="196.4" x2="1103" y2="198" stroke="#999" stroke-width="0.6"/>
<line x1="1107" y1="196.4" x2="1107" y2="198" stroke="#999" stroke-width="0.6"/>
<line x1="1111" y1="196.4" x2="1111" y2="198" stroke="#999" stroke-width="0.6"/>
<line x1="1115" y1="196.4" x2="1115" y2="198" stroke="#999" stroke-width="0.6"/>
<line x1="1119" y1="196.4" x2="1119" y2="198" stroke="#999" stroke-width="0.6"/>
<line x1="1123" y1="196.4" x2="1123" y2="198" stroke="#999" stroke-width="0.6"/>
<line x1="1127" y1="196.4" x2="1127" y2="198" stroke="#999" stroke-width="0.6"/>
<line x1="1131" y1="196.4" x2="1131" y2="198" stroke="#999" stroke-width="0.6"/>
<line x1="1135" y1="196.4" x2="1135" y2="198" stroke="#999" stroke-width="0.6"/>
<line x1="1139" y1="196.4" x2="1139" y2="198" stroke="#999" stroke-width="0.6"/>
<line x1="1143" y1="196.4" x2="1143" y2="198" stroke="#999" stroke-width="0.6"/>
<line x1="1147" y1="196.4" x2="1147" y2="198" stroke="#999" stroke-width="0.6"/>
<line x1="1151" y1="196.4" x2="1151" y2="198" stroke="#999" stroke-width="0.6"/>
<line x1="1155" y1="196.4" x2="1155" y2="198" stroke="#999" stroke-width="0.6"/>
<line x1="1159" y1="196.4" x2="1159" y2="198" stroke="#999" stroke-width="0.6"/>
<line x1="1163" y1="196.4" x2="1163" y2="198" stroke="#999" stroke-width="0.6"/>
<line x1="1167" y1="196.4" x2="1167" y2="198" stroke="#999" stroke-width="0.6"/>
<line x1="1171" y1="196.4" x2="1171" y2="198" stroke="#999" stroke-width="0.6"/>
<line x1="1175" y1="196.4" x2="1175" y2="198" stroke="#999" stroke-width="0.6"/>
<line x1="1179" y1="196.4" x2="1179" y2="198" stroke="#999" stroke-width="0.6"/>
<line x1="1183" y1="196.4" x2="1183" y2="198" stroke="#999" stroke-width="0.6"/>
<line x1="1187" y1="196.4" x2="1187" y2="198" stroke="#999" stroke-width="0.6"/>
<line x1="1191" y1="196.4" x2="1191" y2="198" stroke="#999" stroke-width="0.6"/>
<line x1="1195" y1="196.4" x2="1195" y2="198" stroke="#999" stroke-width="0.6"/>
<line x1="1199" y1="196.4" x2="1199" y2="198" stroke="#999" stroke-width="0.6"/>
<line x1="1203" y1="196.4" x2="1203" y2="198" stroke="#999" stroke-width="0.6"/>
<rect x="1093.5" y="81" width="113.9" height="115.4" fill="none" stroke="#8a8a8a" stroke-width="1.3"/>
<line x1="1239.8" y1="90.7" x2="1242.8" y2="90.7" stroke="#777" stroke-width="0.8"/>
<text x="1238.8" y="92.2" font-size="4.3" fill="#555" text-anchor="end">10</text>
<line x1="1239.8" y1="118.1" x2="1242.8" y2="118.1" stroke="#777" stroke-width="0.8"/>
<text x="1238.8" y="119.6" font-size="4.3" fill="#555" text-anchor="end">10</text>
<line x1="1239.8" y1="150.5" x2="1242.8" y2="150.5" stroke="#777" stroke-width="0.8"/>
<text x="1238.8" y="152" font-size="4.3" fill="#555" text-anchor="end">10</text>
<line x1="1239.8" y1="168.7" x2="1242.8" y2="168.7" stroke="#777" stroke-width="0.8"/>
<text x="1238.8" y="170.2" font-size="4.3" fill="#555" text-anchor="end">10</text>
<line x1="1239.8" y1="187.9" x2="1242.8" y2="187.9" stroke="#777" stroke-width="0.8"/>
<text x="1238.8" y="189.4" font-size="4.3" fill="#555" text-anchor="end">10</text>
<line x1="1241.2" y1="84" x2="1242.8" y2="84" stroke="#999" stroke-width="0.6"/>
<line x1="1241.2" y1="88" x2="1242.8" y2="88" stroke="#999" stroke-width="0.6"/>
<line x1="1241.2" y1="92" x2="1242.8" y2="92" stroke="#999" stroke-width="0.6"/>
<line x1="1241.2" y1="96" x2="1242.8" y2="96" stroke="#999" stroke-width="0.6"/>
<line x1="1241.2" y1="100" x2="1242.8" y2="100" stroke="#999" stroke-width="0.6"/>
<line x1="1241.2" y1="104" x2="1242.8" y2="104" stroke="#999" stroke-width="0.6"/>
<line x1="1241.2" y1="108" x2="1242.8" y2="108" stroke="#999" stroke-width="0.6"/>
<line x1="1241.2" y1="112" x2="1242.8" y2="112" stroke="#999" stroke-width="0.6"/>
<line x1="1241.2" y1="116" x2="1242.8" y2="116" stroke="#999" stroke-width="0.6"/>
<line x1="1241.2" y1="120" x2="1242.8" y2="120" stroke="#999" stroke-width="0.6"/>
<line x1="1241.2" y1="124" x2="1242.8" y2="124" stroke="#999" stroke-width="0.6"/>
<line x1="1241.2" y1="128" x2="1242.8" y2="128" stroke="#999" stroke-width="0.6"/>
<line x1="1241.2" y1="132" x2="1242.8" y2="132" stroke="#999" stroke-width="0.6"/>
<line x1="1241.2" y1="136" x2="1242.8" y2="136" stroke="#999" stroke-width="0.6"/>
<line x1="1241.2" y1="140" x2="1242.8" y2="140" stroke="#999" stroke-width="0.6"/>
<line x1="1241.2" y1="144" x2="1242.8" y2="144" stroke="#999" stroke-width="0.6"/>
<line x1="1241.2" y1="148" x2="1242.8" y2="148" stroke="#999" stroke-width="0.6"/>
<line x1="1241.2" y1="152" x2="1242.8" y2="152" stroke="#999" stroke-width="0.6"/>
<line x1="1241.2" y1="156" x2="1242.8" y2="156" stroke="#999" stroke-width="0.6"/>
<line x1="1241.2" y1="160" x2="1242.8" y2="160" stroke="#999" stroke-width="0.6"/>
<line x1="1241.2" y1="164" x2="1242.8" y2="164" stroke="#999" stroke-width="0.6"/>
<line x1="1241.2" y1="168" x2="1242.8" y2="168" stroke="#999" stroke-width="0.6"/>
<line x1="1241.2" y1="172" x2="1242.8" y2="172" stroke="#999" stroke-width="0.6"/>
<line x1="1241.2" y1="176" x2="1242.8" y2="176" stroke="#999" stroke-width="0.6"/>
<line x1="1241.2" y1="180" x2="1242.8" y2="180" stroke="#999" stroke-width="0.6"/>
<line x1="1241.2" y1="184" x2="1242.8" y2="184" stroke="#999" stroke-width="0.6"/>
<line x1="1241.2" y1="188" x2="1242.8" y2="188" stroke="#999" stroke-width="0.6"/>
<line x1="1241.2" y1="192" x2="1242.8" y2="192" stroke="#999" stroke-width="0.6"/>
<line x1="1258" y1="195.5" x2="1258" y2="198.5" stroke="#777" stroke-width="0.8"/>
<text x="1258" y="205" font-size="4.3" fill="#555" text-anchor="middle">10</text>
<line x1="1287.3" y1="195.5" x2="1287.3" y2="198.5" stroke="#777" stroke-width="0.8"/>
<text x="1287.3" y="205" font-size="4.3" fill="#555" text-anchor="middle">10</text>
<line x1="1312" y1="195.5" x2="1312" y2="198.5" stroke="#777" stroke-width="0.8"/>
<text x="1312" y="205" font-size="4.3" fill="#555" text-anchor="middle">10</text>
<line x1="1335.6" y1="195.5" x2="1335.6" y2="198.5" stroke="#777" stroke-width="0.8"/>
<text x="1335.6" y="205" font-size="4.3" fill="#555" text-anchor="middle">10</text>
<line x1="1248" y1="195.5" x2="1248" y2="197.1" stroke="#999" stroke-width="0.6"/>
<line x1="1252" y1="195.5" x2="1252" y2="197.1" stroke="#999" stroke-width="0.6"/>
<line x1="1256" y1="195.5" x2="1256" y2="197.1" stroke="#999" stroke-width="0.6"/>
<line x1="1260" y1="195.5" x2="1260" y2="197.1" stroke="#999" stroke-width="0.6"/>
<line x1="1264" y1="195.5" x2="1264" y2="197.1" stroke="#999" stroke-width="0.6"/>
<line x1="1268" y1="195.5" x2="1268" y2="197.1" stroke="#999" stroke-width="0.6"/>
<line x1="1272" y1="195.5" x2="1272" y2="197.1" stroke="#999" stroke-width="0.6"/>
<line x1="1276" y1="195.5" x2="1276" y2="197.1" stroke="#999" stroke-width="0.6"/>
<line x1="1280" y1="195.5" x2="1280" y2="197.1" stroke="#999" stroke-width="0.6"/>
<line x1="1284" y1="195.5" x2="1284" y2="197.1" stroke="#999" stroke-width="0.6"/>
<line x1="1288" y1="195.5" x2="1288" y2="197.1" stroke="#999" stroke-width="0.6"/>
<line x1="1292" y1="195.5" x2="1292" y2="197.1" stroke="#999" stroke-width="0.6"/>
<line x1="1296" y1="195.5" x2="1296" y2="197.1" stroke="#999" stroke-width="0.6"/>
<line x1="1300" y1="195.5" x2="1300" y2="197.1" stroke="#999" stroke-width="0.6"/>
<line x1="1304" y1="195.5" x2="1304" y2="197.1" stroke="#999" stroke-width="0.6"/>
<line x1="1308" y1="195.5" x2="1308" y2="197.1" stroke="#999" stroke-width="0.6"/>
<line x1="1312" y1="195.5" x2="1312" y2="197.1" stroke="#999" stroke-width="0.6"/>
<line x1="1316" y1="195.5" x2="1316" y2="197.1" stroke="#999" stroke-width="0.6"/>
<line x1="1320" y1="195.5" x2="1320" y2="197.1" stroke="#999" stroke-width="0.6"/>
<line x1="1324" y1="195.5" x2="1324" y2="197.1" stroke="#999" stroke-width="0.6"/>
<line x1="1328" y1="195.5" x2="1328" y2="197.1" stroke="#999" stroke-width="0.6"/>
<line x1="1332" y1="195.5" x2="1332" y2="197.1" stroke="#999" stroke-width="0.6"/>
<line x1="1336" y1="195.5" x2="1336" y2="197.1" stroke="#999" stroke-width="0.6"/>
<line x1="1340" y1="195.5" x2="1340" y2="197.1" stroke="#999" stroke-width="0.6"/>
<line x1="1344" y1="195.5" x2="1344" y2="197.1" stroke="#999" stroke-width="0.6"/>
<line x1="1348" y1="195.5" x2="1348" y2="197.1" stroke="#999" stroke-width="0.6"/>
<rect x="1242.8" y="80.5" width="111.9" height="115" fill="none" stroke="#8a8a8a" stroke-width="1.3"/>
<line x1="1387" y1="90.7" x2="1390" y2="90.7" stroke="#777" stroke-width="0.8"/>
<text x="1386" y="92.2" font-size="4.3" fill="#555" text-anchor="end">10</text>
<line x1="1387" y1="118.1" x2="1390" y2="118.1" stroke="#777" stroke-width="0.8"/>
<text x="1386" y="119.6" font-size="4.3" fill="#555" text-anchor="end">10</text>
<line x1="1387" y1="150.5" x2="1390" y2="150.5" stroke="#777" stroke-width="0.8"/>
<text x="1386" y="152" font-size="4.3" fill="#555" text-anchor="end">10</text>
<line x1="1387" y1="168.7" x2="1390" y2="168.7" stroke="#777" stroke-width="0.8"/>
<text x="1386" y="170.2" font-size="4.3" fill="#555" text-anchor="end">10</text>
<line x1="1387" y1="187.9" x2="1390" y2="187.9" stroke="#777" stroke-width="0.8"/>
<text x="1386" y="189.4" font-size="4.3" fill="#555" text-anchor="end">10</text>
<line x1="1388.4" y1="84" x2="1390" y2="84" stroke="#999" stroke-width="0.6"/>
<line x1="1388.4" y1="88" x2="1390" y2="88" stroke="#999" stroke-width="0.6"/>
<line x1="1388.4" y1="92" x2="1390" y2="92" stroke="#999" stroke-width="0.6"/>
<line x1="1388.4" y1="96" x2="1390" y2="96" stroke="#999" stroke-width="0.6"/>
<line x1="1388.4" y1="100" x2="1390" y2="100" stroke="#999" stroke-width="0.6"/>
<line x1="1388.4" y1="104" x2="1390" y2="104" stroke="#999" stroke-width="0.6"/>
<line x1="1388.4" y1="108" x2="1390" y2="108" stroke="#999" stroke-width="0.6"/>
<line x1="1388.4" y1="112" x2="1390" y2="112" stroke="#999" stroke-width="0.6"/>
<line x1="1388.4" y1="116" x2="1390" y2="116" stroke="#999" stroke-width="0.6"/>
<line x1="1388.4" y1="120" x2="1390" y2="120" stroke="#999" stroke-width="0.6"/>
<line x1="1388.4" y1="124" x2="1390" y2="124" stroke="#999" stroke-width="0.6"/>
<line x1="1388.4" y1="128" x2="1390" y2="128" stroke="#999" stroke-width="0.6"/>
<line x1="1388.4" y1="132" x2="1390" y2="132" stroke="#999" stroke-width="0.6"/>
<line x1="1388.4" y1="136" x2="1390" y2="136" stroke="#999" stroke-width="0.6"/>
<line x1="1388.4" y1="140" x2="1390" y2="140" stroke="#999" stroke-width="0.6"/>
<line x1="1388.4" y1="144" x2="1390" y2="144" stroke="#999" stroke-width="0.6"/>
<line x1="1388.4" y1="148" x2="1390" y2="148" stroke="#999" stroke-width="0.6"/>
<line x1="1388.4" y1="152" x2="1390" y2="152" stroke="#999" stroke-width="0.6"/>
<line x1="1388.4" y1="156" x2="1390" y2="156" stroke="#999" stroke-width="0.6"/>
<line x1="1388.4" y1="160" x2="1390" y2="160" stroke="#999" stroke-width="0.6"/>
<line x1="1388.4" y1="164" x2="1390" y2="164" stroke="#999" stroke-width="0.6"/>
<line x1="1388.4" y1="168" x2="1390" y2="168" stroke="#999" stroke-width="0.6"/>
<line x1="1388.4" y1="172" x2="1390" y2="172" stroke="#999" stroke-width="0.6"/>
<line x1="1388.4" y1="176" x2="1390" y2="176" stroke="#999" stroke-width="0.6"/>
<line x1="1388.4" y1="180" x2="1390" y2="180" stroke="#999" stroke-width="0.6"/>
<line x1="1388.4" y1="184" x2="1390" y2="184" stroke="#999" stroke-width="0.6"/>
<line x1="1388.4" y1="188" x2="1390" y2="188" stroke="#999" stroke-width="0.6"/>
<line x1="1388.4" y1="192" x2="1390" y2="192" stroke="#999" stroke-width="0.6"/>
<line x1="1407" y1="195.5" x2="1407" y2="198.5" stroke="#777" stroke-width="0.8"/>
<text x="1407" y="205" font-size="4.3" fill="#555" text-anchor="middle">10</text>
<line x1="1436.3" y1="195.5" x2="1436.3" y2="198.5" stroke="#777" stroke-width="0.8"/>
<text x="1436.3" y="205" font-size="4.3" fill="#555" text-anchor="middle">10</text>
<line x1="1461.5" y1="195.5" x2="1461.5" y2="198.5" stroke="#777" stroke-width="0.8"/>
<text x="1461.5" y="205" font-size="4.3" fill="#555" text-anchor="middle">10</text>
<line x1="1485" y1="195.5" x2="1485" y2="198.5" stroke="#777" stroke-width="0.8"/>
<text x="1485" y="205" font-size="4.3" fill="#555" text-anchor="middle">10</text>
<line x1="1396" y1="195.5" x2="1396" y2="197.1" stroke="#999" stroke-width="0.6"/>
<line x1="1400" y1="195.5" x2="1400" y2="197.1" stroke="#999" stroke-width="0.6"/>
<line x1="1404" y1="195.5" x2="1404" y2="197.1" stroke="#999" stroke-width="0.6"/>
<line x1="1408" y1="195.5" x2="1408" y2="197.1" stroke="#999" stroke-width="0.6"/>
<line x1="1412" y1="195.5" x2="1412" y2="197.1" stroke="#999" stroke-width="0.6"/>
<line x1="1416" y1="195.5" x2="1416" y2="197.1" stroke="#999" stroke-width="0.6"/>
<line x1="1420" y1="195.5" x2="1420" y2="197.1" stroke="#999" stroke-width="0.6"/>
<line x1="1424" y1="195.5" x2="1424" y2="197.1" stroke="#999" stroke-width="0.6"/>
<line x1="1428" y1="195.5" x2="1428" y2="197.1" stroke="#999" stroke-width="0.6"/>
<line x1="1432" y1="195.5" x2="1432" y2="197.1" stroke="#999" stroke-width="0.6"/>
<line x1="1436" y1="195.5" x2="1436" y2="197.1" stroke="#999" stroke-width="0.6"/>
<line x1="1440" y1="195.5" x2="1440" y2="197.1" stroke="#999" stroke-width="0.6"/>
<line x1="1444" y1="195.5" x2="1444" y2="197.1" stroke="#999" stroke-width="0.6"/>
<line x1="1448" y1="195.5" x2="1448" y2="197.1" stroke="#999" stroke-width="0.6"/>
<line x1="1452" y1="195.5" x2="1452" y2="197.1" stroke="#999" stroke-width="0.6"/>
<line x1="1456" y1="195.5" x2="1456" y2="197.1" stroke="#999" stroke-width="0.6"/>
<line x1="1460" y1="195.5" x2="1460" y2="197.1" stroke="#999" stroke-width="0.6"/>
<line x1="1464" y1="195.5" x2="1464" y2="197.1" stroke="#999" stroke-width="0.6"/>
<line x1="1468" y1="195.5" x2="1468" y2="197.1" stroke="#999" stroke-width="0.6"/>
<line x1="1472" y1="195.5" x2="1472" y2="197.1" stroke="#999" stroke-width="0.6"/>
<line x1="1476" y1="195.5" x2="1476" y2="197.1" stroke="#999" stroke-width="0.6"/>
<line x1="1480" y1="195.5" x2="1480" y2="197.1" stroke="#999" stroke-width="0.6"/>
<line x1="1484" y1="195.5" x2="1484" y2="197.1" stroke="#999" stroke-width="0.6"/>
<line x1="1488" y1="195.5" x2="1488" y2="197.1" stroke="#999" stroke-width="0.6"/>
<line x1="1492" y1="195.5" x2="1492" y2="197.1" stroke="#999" stroke-width="0.6"/>
<line x1="1496" y1="195.5" x2="1496" y2="197.1" stroke="#999" stroke-width="0.6"/>
<line x1="1500" y1="195.5" x2="1500" y2="197.1" stroke="#999" stroke-width="0.6"/>
<rect x="1390" y="80.5" width="114.6" height="115" fill="none" stroke="#8a8a8a" stroke-width="1.3"/>
<rect x="1092" y="167" width="2.5" height="4" fill="#111" stroke="none" stroke-width="1"/>
<rect x="1113.5" y="195.4" width="6" height="2.5" fill="#111" stroke="none" stroke-width="1"/>
<rect x="1241.3" y="167" width="2.5" height="4" fill="#111" stroke="none" stroke-width="1"/>
<rect x="1262.8" y="194.5" width="6" height="2.5" fill="#111" stroke="none" stroke-width="1"/>
<rect x="1388.5" y="167" width="2.5" height="4" fill="#111" stroke="none" stroke-width="1"/>
<rect x="1410" y="194.5" width="6" height="2.5" fill="#111" stroke="none" stroke-width="1"/>
<g clip-path="url(#cd1)">
<ellipse cx="1187" cy="145" rx="10.5" ry="36" fill="url(#g1)" fill-opacity="0.18"/>
<ellipse cx="1186.5" cy="167" rx="16.5" ry="19.5" fill="url(#g1)" fill-opacity="0.3"/>
<ellipse cx="1186.5" cy="166.8" rx="13.2" ry="15.9" fill="url(#g6)"/>
</g>
<g filter="url(#sb)"><path d="M1195.1 152.4h0M1193.3 145.3h0M1189.6 149.7h0M1190.9 132.7h0M1185.5 145h0M1187.5 154.8h0M1189 117.6h0M1188.4 134.7h0M1185.6 153.7h0M1185.2 143.9h0M1190 136.4h0M1189 144.6h0M1181.2 148h0M1188.3 119h0M1194.8 118.2h0M1186.1 152.2h0M1188.6 152.3h0M1183.2 147.3h0M1192.8 111.4h0M1185.2 156.8h0M1182.2 130.5h0M1186.8 144.3h0M1194.1 154.7h0M1186.2 152h0M1183.6 144.6h0M1189.4 146.3h0M1188.7 140.9h0M1195.1 132.6h0M1184 149.4h0M1180.7 130.9h0M1186.8 144.4h0M1189.3 139.1h0M1188.9 151.9h0M1192.2 137.2h0M1184 155.2h0M1185.2 146.3h0M1187.5 145.8h0M1190.1 155.5h0M1189.8 136.2h0M1186.7 150.5h0M1185.2 154.8h0M1192 127.7h0M1190.4 155.1h0M1187.2 141.2h0M1193.1 147.8h0M1183.9 146.3h0M1185.7 137.5h0M1186.2 154.9h0M1185.8 130.3h0M1184 132.3h0M1185.8 138.6h0M1187.7 138.6h0M1185.5 121.7h0M1191 128.5h0M1187.6 148.7h0M1187.9 133.6h0M1191.9 153.8h0M1189.2 136.2h0M1188.3 156.4h0M1187.9 153.7h0M1188.1 147.8h0M1189.8 147.1h0M1184 127.3h0M1191.8 145.1h0M1193.9 139.7h0M1190.9 155.6h0M1186.7 156.2h0M1178.5 113.8h0M1185.3 113.8h0M1188.4 143.3h0M1192.2 120.9h0M1187.4 150.6h0M1187.1 152.2h0M1185.9 150.4h0M1193.4 121.7h0M1191.9 131.5h0M1183.7 148h0M1188.8 147.7h0M1185.1 124.2h0M1185.4 153.8h0M1182.8 153.1h0M1182.9 147.3h0M1189.8 127h0M1186.4 140.7h0M1188.7 150.6h0M1184.4 146.4h0M1186.6 138.6h0M1187.1 150.4h0M1183.8 154.3h0M1183.4 153.8h0M1189.4 143.5h0M1188.3 155.1h0M1185.4 154h0M1187.4 128.7h0M1190.6 135.9h0M1193.3 150.9h0M1183.5 125.1h0M1189.7 151.9h0M1195.3 143.6h0M1188.1 140.6h0M1192.9 144.4h0M1178.8 143.3h0M1193.4 139.7h0M1187.9 143.3h0M1183.2 156.2h0M1193 102.8h0M1193.9 114.6h0M1191 156.3h0M1191.3 151.9h0M1187.8 138.5h0M1185.6 149.3h0M1184.9 107.6h0M1187.7 131.1h0M1189.6 135h0M1186.7 155.4h0M1188.1 129.4h0M1191.5 134.8h0M1189 146.7h0M1196.5 140.4h0M1195.9 140.7h0M1184 144.7h0M1186.1 147.5h0M1183.9 149.1h0M1184.9 155.2h0M1189.4 154.4h0M1184.5 145.2h0M1184.3 144.3h0M1187.2 153.9h0M1190.1 153.2h0M1187 155.7h0M1186.6 140.6h0M1192.5 123.3h0M1189.4 147.3h0M1189.5 142.5h0M1190.5 153.5h0M1183.5 133.3h0M1189.1 113.1h0M1184.3 116.8h0M1190.8 152.2h0M1191.5 132h0M1185.2 155h0M1195.8 112.7h0M1184.2 147.5h0M1193 132h0M1188.6 147.2h0M1183.9 131h0M1182.6 128.5h0M1187.1 152.8h0M1187.8 150.6h0M1183.7 114.5h0M1189.6 150.6h0M1181.6 131.5h0M1187.9 142.9h0M1187.9 140.4h0M1180.4 137.6h0M1188.9 145.2h0M1181.3 122.1h0M1179.4 144.9h0M1185.8 144.8h0M1187.1 144.2h0M1190.4 153.2h0M1186.5 152.3h0M1192.7 146.7h0M1192.8 144.8h0M1191.8 143h0M1191.8 151h0M1189.5 130h0M1186.5 155.5h0M1191 126.7h0M1190.4 156.2h0M1188.6 154.7h0M1186.9 135.8h0M1182 140.7h0M1191.5 119.2h0M1189.4 131.3h0M1181.8 129.2h0M1188.3 132.4h0M1189.9 153.3h0M1187.6 155.3h0M1190.6 144.5h0M1189.8 156.2h0M1181.1 130.1h0M1186.9 146.9h0M1189.4 148.1h0M1191.2 143h0M1192.4 148.1h0M1181.5 146h0M1187.5 120.6h0M1190.9 135.3h0M1191 156.3h0M1193.2 148.7h0M1184.4 141.4h0M1186.8 149.8h0M1184.4 146.7h0M1191.7 128.2h0M1182.4 135.8h0M1192.9 134h0M1190.6 151.4h0M1189.5 147.3h0M1180.7 146.4h0M1185.8 148.8h0M1190.3 148.6h0M1183.2 146.5h0M1186.8 134.3h0M1187.7 156.3h0M1191.3 139.7h0M1189 135.9h0M1189 136.7h0M1186.3 143.8h0M1187.9 139.2h0M1187.6 156.5h0M1189.8 155.5h0M1187.3 145.1h0M1191.5 144.5h0M1180.1 130.5h0M1193.4 129.6h0M1187.2 137.3h0M1190.8 155.4h0M1188.2 149.4h0M1190.4 151.1h0M1195 127.3h0M1185.4 132.4h0M1188.2 136.1h0M1187.2 140.1h0M1188.6 143.3h0M1180.5 131.1h0M1187 128.9h0M1187.1 149.7h0M1185.6 150.8h0M1187.3 150.6h0M1184.1 156.8h0M1193.7 135.5h0M1189.7 137.3h0M1194.4 144.7h0M1184.6 141h0M1183.9 145.1h0M1189.2 127.5h0M1177.7 111.9h0M1188.8 135.9h0M1185.8 150.6h0M1186.5 136h0M1188.8 144.8h0M1188 152.9h0M1195.4 137.3h0M1190.9 126h0M1184.5 155h0M1190.9 149.9h0M1182.3 136h0M1188.2 138.4h0M1183.2 140.7h0M1185.5 152.2h0M1191.8 151.1h0M1186.2 150.6h0M1186 151.5h0M1186.3 153.2h0M1186.4 128.4h0M1192 152.4h0M1183 136.3h0M1184.8 156.1h0M1190.5 128.8h0M1182.5 145.4h0M1187 156.7h0M1191.4 149.3h0M1187.9 149.7h0M1186.5 152.6h0M1185.2 140.4h0M1185.2 151.8h0M1185.5 139.1h0M1188.4 136.1h0M1192.6 139.5h0M1191.5 140.7h0M1186.2 149.8h0M1185.6 149.2h0M1190.5 139.4h0M1179.9 133.3h0M1186.7 155.2h0M1186 119.8h0M1184.4 148.9h0M1184.2 142.4h0M1189.3 132.6h0M1182.4 146.3h0M1184.5 141.9h0M1185.8 149.1h0M1188.1 151.3h0M1182.8 141.9h0M1192.8 129.7h0M1186.8 146.6h0M1187.1 153.8h0M1186.1 130.7h0M1185.6 147h0M1184.9 150h0M1191.3 150.3h0M1188.5 144.9h0M1187.6 154.8h0M1192.5 127h0M1185.9 153.7h0M1189.5 153.6h0M1187.9 148.7h0M1181.3 171.5h0M1178 170.7h0M1181.3 169.2h0M1193.6 170.2h0M1182.9 166.4h0M1184.1 159h0M1180.1 166.8h0M1189 155.2h0M1185.7 169.7h0M1186.7 160.1h0M1191.7 158.7h0M1189.6 176.7h0M1175 168.1h0M1187.7 167.9h0M1181.9 164.4h0M1178.5 167.3h0M1188.9 162.2h0M1181 163.4h0M1186 166.8h0M1185.4 166.8h0M1178.9 149h0M1189.3 175.5h0M1178.3 162.1h0M1187.6 172.5h0M1189.5 174.5h0M1185.7 169h0M1188.2 163.6h0M1192.5 170.3h0M1191.2 163.9h0M1191.5 159.7h0M1188.1 149.7h0M1180.5 171.1h0M1183.5 167.5h0M1177.2 176.2h0M1189.2 166.2h0M1188.2 168.4h0M1193.6 167.7h0M1178 164.7h0M1192.9 170h0M1183.7 170.2h0M1186.6 170.2h0M1177.4 160.6h0M1189.5 164.9h0M1187.8 178.8h0M1184.3 167.9h0M1183 162.4h0M1185.5 157.1h0M1174.6 175h0M1185.4 173.5h0M1186.6 167.3h0M1189.6 170.9h0M1179.5 174h0M1180.7 167.6h0M1194.9 164.1h0M1189.3 166.7h0M1188.2 160.9h0M1181 168.5h0M1177.6 161h0M1189.4 162.5h0M1181.2 159.3h0M1186.7 164h0M1186.8 165.2h0M1195.9 163.6h0M1175.4 167.1h0M1186 167.4h0M1177.3 173.5h0M1185.8 166.1h0M1177.5 169.4h0M1185.6 174.9h0M1183.7 158.5h0M1186.7 160.6h0M1188.2 159.5h0M1185.3 164.9h0M1185.8 163.1h0M1181.6 166h0M1182.9 167.3h0M1184.5 152.2h0M1185.6 175.1h0M1187.6 170.1h0M1188.4 163.4h0M1178.8 171.5h0M1191.6 169.9h0M1188.2 168.9h0M1185.8 168.1h0M1186 168.4h0M1180.9 162.4h0M1189 164.2h0M1173.1 167.2h0M1173.8 178.4h0M1189.8 170.6h0M1182.4 159.3h0M1184.8 166.5h0M1181.9 167.4h0M1189.6 170.1h0M1180.5 152.9h0M1186 162.3h0M1188.4 176.7h0M1194.7 168.2h0M1191.9 176.7h0M1186.2 168.1h0M1190.5 166.2h0M1183.4 161.8h0M1186.1 162.6h0M1190.2 164.4h0M1193.7 174h0M1179.5 173.2h0M1183.9 175h0M1188.8 166.2h0M1189.6 163h0M1187.8 168.9h0M1185.3 168.9h0M1180.8 170h0M1179.7 170.4h0M1188.6 170.9h0M1183.2 185.3h0M1184.9 167.5h0M1182.2 175.4h0M1183.7 172.7h0M1181.2 168.5h0M1184.2 172.4h0M1184.6 161.3h0M1188.5 159.3h0M1181.2 171.4h0M1176.4 171.3h0M1184.1 161h0M1187.5 170.6h0M1183.2 165.6h0M1190.4 171.3h0M1186 162h0M1181.3 163h0M1189.8 170.3h0M1187.8 175.3h0M1184.7 164.4h0M1184.3 178.5h0M1175.6 168.5h0M1188.6 167.2h0M1190.3 161.3h0M1188.9 164.5h0M1186.6 168h0M1183.8 170.7h0M1194.8 173.2h0M1187.5 155h0M1192 173.5h0M1185.4 163.9h0M1189.8 161.9h0M1190.5 160.3h0M1181.6 167h0M1178.9 166.9h0M1189.2 158.9h0M1191.2 163.5h0M1189.3 168.2h0M1184.1 163.7h0M1177.6 162.7h0M1182.5 177h0M1191.7 158.6h0M1190.6 168.3h0M1184.5 169.8h0M1190.5 163.5h0M1185 168h0M1181.4 168.1h0M1186.1 162.8h0M1182.1 168.8h0M1191 169h0M1182.1 171.5h0M1187.4 170.6h0M1192.5 161.5h0M1185.8 163.3h0M1182 179.2h0M1191.3 156.2h0M1188.7 163.6h0M1192.4 167.5h0M1185.6 167.9h0M1188.5 167.2h0M1185.4 166.1h0M1189.1 160.1h0M1186.5 166.3h0M1184 171.5h0M1179.9 164.8h0M1182.1 170.3h0M1184.1 167.3h0M1188.5 157.3h0M1188.8 162.5h0M1185.2 166.3h0M1190.7 171.5h0M1195.6 168.1h0M1184 163.9h0M1189.9 176.7h0M1188.2 163.5h0M1187.9 168.6h0M1186.7 162.5h0M1173.5 163.7h0M1191.9 168.3h0M1175.2 167h0M1177 179.1h0M1187.5 159.7h0M1190.6 162.3h0M1189.4 167.1h0M1180.4 171h0M1179.6 175.1h0M1186.8 160.8h0M1177.2 176.8h0M1194 159.4h0M1195 168h0M1185.4 166.5h0M1185.1 175.7h0M1187.3 155.8h0M1180.9 164.8h0M1181.9 167.3h0M1188.5 168.4h0M1183.4 162.1h0M1190.9 166.4h0M1190.5 167.3h0M1182.6 175.3h0M1187.1 161.6h0M1184.9 173.2h0M1180.2 175.4h0M1190 165.3h0M1193.5 177.6h0M1189.6 168h0M1196 176.1h0M1181.7 165.7h0M1185.4 164.5h0M1178.8 172.5h0M1186.9 167.6h0M1193.8 163.6h0M1186.2 168.7h0M1184.3 166.3h0M1190.5 166.9h0M1193.4 162.4h0M1187.5 158.3h0M1185.9 162.7h0M1193.5 171.5h0M1189.1 178.3h0M1194 171.4h0M1182.9 158.2h0M1186.3 164.8h0M1183.2 165.2h0M1177.9 176.1h0M1180.6 162.9h0M1189.5 157h0M1191.3 172.7h0M1184.9 160.4h0M1184 155.7h0M1193.7 167.3h0M1182.7 161.4h0M1189.5 176.2h0M1179.9 163.5h0M1177.4 171.2h0M1187.3 180.9h0M1185.9 164.3h0M1182.8 172.2h0M1178 171.6h0M1187.8 163.9h0M1181.8 173.5h0M1196.2 164.3h0M1189.3 177.7h0M1183.3 165.4h0M1180.1 166.1h0M1186.1 164.4h0M1182.6 157.2h0M1179.5 161h0M1189.8 163.9h0M1182.1 171.1h0M1189.4 162.3h0M1183.2 171.1h0M1188.4 161.8h0M1187.8 166.8h0M1192.3 161.6h0M1191.1 169.7h0M1181.2 173.5h0M1191.3 158.8h0M1181.7 165h0M1190.5 170.6h0M1186 175.5h0M1188.6 175.7h0M1173 164.2h0M1180.8 167.6h0M1187 159.4h0M1180.4 165.4h0M1185.5 150.7h0M1191.6 167.2h0M1186.4 168.9h0M1181.1 166.7h0M1192 173.8h0M1189 165.2h0M1182.1 175.3h0M1189.3 164.3h0M1174.9 161.5h0M1176.2 174.9h0M1187.5 162.3h0M1185 183.4h0M1193 158.5h0M1185.8 159.2h0M1177.3 168.1h0M1168.5 174.1h0M1110.7 166.5h0M1126.6 172.1h0M1146.7 160.7h0M1154.3 169.1h0M1160 168.9h0" stroke="#000" stroke-width="1.0" stroke-linecap="square" stroke-opacity="0.42"/></g>
<ellipse cx="1322" cy="132" rx="27" ry="36" fill="url(#g1)" fill-opacity="0.18"/>
<ellipse cx="1328" cy="142" rx="10.5" ry="30" fill="url(#g1)" fill-opacity="0.25"/>
<ellipse cx="1328" cy="167" rx="16.5" ry="24" fill="url(#g1)" fill-opacity="0.3"/>
<ellipse cx="1327" cy="167" rx="10.5" ry="18.3" fill="url(#g6)"/>
<g filter="url(#sb)"><path d="M1313.4 128.4h0M1327.1 144.6h0M1316.9 146.7h0M1323.9 127h0M1322.8 136.9h0M1330.1 147.4h0M1316.9 139.3h0M1320.9 143.6h0M1321.3 129.3h0M1336.7 146.2h0M1310.9 129.8h0M1326.3 140.1h0M1318.4 132.4h0M1326.5 139.7h0M1328.7 143.2h0M1325.9 147.4h0M1324.4 109.3h0M1326.1 136.9h0M1320.4 139.3h0M1323.9 146.6h0M1306.9 123.4h0M1320 128h0M1318.6 136.9h0M1322.8 140.9h0M1329.1 146.7h0M1327.3 151.3h0M1327.7 148.6h0M1331.2 145.8h0M1313.9 150.1h0M1327.2 139.6h0M1325.4 151.1h0M1324.7 148.1h0M1315.1 138h0M1328 142.4h0M1331.9 140.7h0M1332.6 121.3h0M1323.2 134.8h0M1328.5 147.5h0M1330.7 135.5h0M1338.2 131.8h0M1335.4 114.3h0M1325.1 137.1h0M1324.4 132.9h0M1324.6 128.8h0M1324.2 113.9h0M1321.7 143.2h0M1329 154.1h0M1321.5 147.6h0M1316.7 130.6h0M1326.8 143.1h0M1319 132.7h0M1323.5 145.4h0M1305.1 128.4h0M1329.7 137.2h0M1325.1 147.1h0M1325.3 154.2h0M1327.3 137.2h0M1326.6 152.5h0M1319.4 138.7h0M1341.1 126.1h0M1313.6 98.1h0M1330.2 149.6h0M1334.9 147.3h0M1322.2 149.1h0M1324.7 136.8h0M1320.9 148h0M1333 119.3h0M1324.4 154h0M1317.7 142.2h0M1333.1 139.9h0M1331.6 118.6h0M1322.4 155.2h0M1331.7 144.4h0M1325.1 132.8h0M1344 135.5h0M1336 138.5h0M1320.2 137.8h0M1322.5 140h0M1320.3 146.7h0M1325 136.8h0M1325.2 145.3h0M1328.9 154.6h0M1325.4 146h0M1315.2 141.6h0M1319.8 143.6h0M1332.5 148.5h0M1332.5 135.2h0M1325.1 153.7h0M1324.6 149.1h0M1325.1 153.8h0M1325.8 153.5h0M1318.2 152.5h0M1329.6 151.8h0M1314.8 116.7h0M1324.9 135h0M1309.8 144.2h0M1326.6 151.3h0M1333.2 140.3h0M1308 137h0M1334.6 138.8h0M1327.6 146.4h0M1318 133.6h0M1307.9 124.7h0M1332.7 133.4h0M1326.3 144.2h0M1328.2 133.3h0M1321.2 131.5h0M1317.4 133.4h0M1330.1 140.1h0M1318.2 140.7h0M1329.5 154.5h0M1315.7 146.3h0M1316.9 135.4h0M1311.7 131.8h0M1333.5 136.4h0M1312.1 138.6h0M1320.2 151.2h0M1328.7 139.1h0M1326.5 150.6h0M1340.3 134.8h0M1337.3 136.4h0M1328.4 139h0M1329.1 130.1h0M1312.3 140.2h0M1322.3 154.8h0M1321.3 134.9h0M1323.5 142.4h0M1311.8 130.4h0M1317.8 138.8h0M1314.5 123.7h0M1330.8 146.8h0M1327.1 138.3h0M1323.3 147.2h0M1323 143.4h0M1325.8 130.8h0M1320.6 144.1h0M1324.6 153.1h0M1313.6 141.7h0M1328.6 155.4h0M1331 134.9h0M1327.2 150.4h0M1327.5 142.8h0M1326.3 129.8h0M1334.8 152.1h0M1325.4 136.8h0M1319.3 151.2h0M1319 145.7h0M1328.9 146.6h0M1331.3 140.9h0M1329.7 132.4h0M1329.3 155h0M1325.6 140.5h0M1317.1 147.4h0M1318.6 135.8h0M1316 148.8h0M1320.1 130.7h0M1317.8 147.5h0M1323.5 123.2h0M1324.7 151.6h0M1313.4 144.5h0M1329.6 119.8h0M1328.9 155.8h0M1320.5 155.5h0M1325.6 144.8h0M1328.8 150.7h0M1323.3 146.1h0M1330 139.8h0M1326.7 155.5h0M1331.3 141.5h0M1324.8 130.7h0M1322.5 134.9h0M1327.9 155.3h0M1329.4 143.8h0M1325.4 130.9h0M1318.3 124.3h0M1313.4 117.4h0M1319.7 128.2h0M1318.4 130.3h0M1326.6 153.7h0M1323.3 113.1h0M1320.9 117h0M1323.3 131.1h0M1324.7 130.9h0M1332.6 152.1h0M1331.6 146.5h0M1323.7 155.9h0M1327 138.7h0M1324.2 153h0M1322 127.5h0M1324 149.5h0M1322.8 152.7h0M1312.6 132.9h0M1295.9 118.3h0M1326 145.7h0M1331.1 149.7h0M1319.8 146.2h0M1327.7 144.7h0M1323.2 149.2h0M1326.4 144.9h0M1314.9 124.4h0M1319.6 119.6h0M1323.8 143.1h0M1315.1 152.9h0M1325.1 132.7h0M1324.2 146.8h0M1315 153.6h0M1328.5 143h0M1324.1 141.5h0M1326.6 154.5h0M1327.3 155.7h0M1317.8 120.5h0M1320.1 150.4h0M1322.6 147.6h0M1318.8 126.4h0M1337 147.3h0M1334 151.8h0M1316.9 119.8h0M1323.3 150.4h0M1326.3 140.2h0M1327.9 138h0M1315.9 124.7h0M1315.2 132.3h0M1340.4 126.2h0M1330.1 155.1h0M1319.4 154.7h0M1316.9 150.9h0M1321 149.3h0M1326.3 150.3h0M1327.5 113.3h0M1322.8 145.8h0M1318.9 154.2h0M1325.5 139h0M1328.2 155.5h0M1321.1 112.6h0M1322.4 148.3h0M1328.1 149.5h0M1321.8 123.6h0M1317.1 141.9h0M1326 153.8h0M1317.6 146.4h0M1329.9 152.3h0M1327.3 141.8h0M1318.7 144.6h0M1325.8 143.1h0M1330.9 154.3h0M1316.4 153.8h0M1324.4 149.1h0M1332.3 156h0M1314.9 143.3h0M1323.4 143h0M1319.8 154.5h0M1323.3 137.5h0M1312 147.6h0M1318.4 153h0M1320.4 139.5h0M1325.5 145.3h0M1327 147.8h0M1327.5 153.6h0M1330.6 153.3h0M1328.7 152.7h0M1329.1 140.5h0M1314.3 128.9h0M1322.9 138.7h0M1339.5 153.4h0M1340.1 137.8h0M1329.4 149.4h0M1328.9 151.8h0M1329.9 153.8h0M1315.2 106.2h0M1338.1 137.1h0M1320.9 136.2h0M1324.7 149.3h0M1337.7 144.3h0M1297.2 113.7h0M1326.9 147.6h0M1310.5 135.6h0M1317.9 132.2h0M1323.9 143.6h0M1319.3 126.4h0M1326.2 151.2h0M1320.4 146.3h0M1324 145h0M1305.2 106.8h0M1323.2 149.8h0M1319.5 153.4h0M1328.7 129.8h0M1317.9 147.6h0M1328.6 155.5h0M1321.7 142.1h0M1324.5 155h0M1331.2 149.4h0M1325.3 145.5h0M1317.6 154.2h0M1327.6 145.5h0M1311.3 151.1h0M1326.8 154.3h0M1322.7 147.1h0M1313.9 138.2h0M1324.9 143.1h0M1324.1 152.8h0M1339.2 134.6h0M1322.2 146h0M1339.1 133h0M1331.9 152.1h0M1323.2 154.6h0M1320 145.7h0M1333 141.3h0M1323.7 143.7h0M1323.4 117.8h0M1324.2 151.6h0M1320 152.7h0M1321.2 137.9h0M1319.7 147.8h0M1312 136.1h0M1321.1 134h0M1337.1 136.5h0M1343.7 94.4h0M1325.6 155.7h0M1326 151.2h0M1327.9 152.5h0M1333.9 137.3h0M1326 134.7h0M1322.9 150.3h0M1324.3 156h0M1331.6 143.2h0M1337.6 152.3h0M1321.3 146.8h0M1310.3 140.6h0M1330.8 111.9h0M1323.3 137.6h0M1324.2 129.6h0M1331.6 149.1h0M1323.1 125h0M1318.1 148.8h0M1312.6 144.3h0M1325.3 152.6h0M1317 142.7h0M1327 155h0M1317.8 147.2h0M1320.1 130.8h0M1318.4 151.6h0M1320.2 132h0M1323 150.5h0M1328.2 145.6h0M1333.9 136.1h0M1323 141.1h0M1318.6 141.5h0M1343.4 116.7h0M1326.8 144.8h0M1328.3 143.4h0M1328.4 126h0M1332.8 148.8h0M1330.1 153.6h0M1328.7 148.1h0M1329 155.5h0M1322.2 154.8h0M1321.1 145.3h0M1324.5 148.4h0M1325.7 149.9h0M1324.8 145.3h0M1326.5 143.8h0M1324 137.3h0M1320 133.8h0M1306.2 123.6h0M1329.6 147h0M1328.2 153.5h0M1319.3 144.7h0M1327.5 136.4h0M1326.9 141.9h0M1326 154.5h0M1317.4 153.3h0M1313.3 132.5h0M1322.2 150.2h0M1333.3 150.8h0M1317.9 139h0M1322.9 147h0M1313.2 129.6h0M1322.5 148.8h0M1326.6 141.9h0M1313 146.6h0M1304.1 139.4h0M1328.5 155.7h0M1321.1 108.2h0M1321.7 148.1h0M1331 137.8h0M1329.9 154.1h0M1315.8 152.5h0M1322.4 135.7h0M1330.3 155.7h0M1319 137.7h0M1317.9 115.6h0M1330.6 142.3h0M1322 138.4h0M1318 146.5h0M1322 150.9h0M1318.6 150.5h0M1328.1 154.3h0M1310.4 135.8h0M1332 127.2h0M1317.5 151.6h0M1324.8 143.5h0M1314.4 141.2h0M1324.4 154.6h0M1330.9 143.9h0M1331.2 147.5h0M1333.2 139.8h0M1322.1 129.1h0M1325.5 146.4h0M1326 143.4h0M1328.4 150.9h0M1322.3 145.2h0M1332.7 129.9h0M1325.3 117.5h0M1331.2 148.8h0M1327.1 123.3h0M1328.8 142.5h0M1320.9 147.4h0M1322.4 146.4h0M1315 139.4h0M1323.5 148.5h0M1323.6 144.8h0M1329.5 149.1h0M1313.2 133.7h0M1339.6 154.4h0M1325.3 155h0M1333.5 134.5h0M1331.8 134.4h0M1310.8 147.3h0M1322.8 143h0M1333 148.4h0M1307.8 140.9h0M1329.1 151.9h0M1315.6 132.3h0M1321.1 141.1h0M1325 129.6h0M1306 128.5h0M1325.5 140.3h0M1321.2 146.8h0M1316 128.3h0M1329.5 113.8h0M1353.4 130.8h0M1326.1 130.7h0M1328 147h0M1325 150.4h0M1318.7 138.5h0M1326.5 148.6h0M1334.3 142.2h0M1323.6 115.3h0M1329.5 155.9h0M1324.6 153.3h0M1340.2 144h0M1312 138.5h0M1328.2 152.2h0M1328 152.2h0M1326.2 144.4h0M1312.1 126.6h0M1318.9 148.5h0M1322.1 137.5h0M1325.1 143.7h0M1308.4 118.3h0M1320.9 153.7h0M1327.9 124.1h0M1331.2 140.6h0M1319.5 136.8h0M1318.1 135.2h0M1315.9 127.1h0M1336.9 152.8h0M1327.5 142.7h0M1323.1 136.1h0M1330.3 150.2h0M1339.3 142.3h0M1332.7 134.9h0M1311.3 132.5h0M1325.1 153.1h0M1323 149.6h0M1322.4 144.2h0M1305.2 109h0M1318.4 123.9h0M1316.3 139.2h0M1327.1 153.9h0M1328 155.4h0M1318.4 162.8h0M1331.4 170.7h0M1327.4 140.2h0M1325.1 160.8h0M1325.9 156.9h0M1325.4 161.4h0M1342.7 172.3h0M1326.7 166.3h0M1327.1 168.2h0M1325.5 166.5h0M1333.4 173.3h0M1329.5 177.4h0M1329 158.8h0M1318.1 161.1h0M1327.4 169.9h0M1333.7 162.1h0M1323.3 172.9h0M1334.3 162.8h0M1329.6 177.7h0M1329.5 166.2h0M1316.3 177.3h0M1331.3 167.7h0M1325.2 156.7h0M1327.2 165.8h0M1333.8 157h0M1335.7 167h0M1334.3 158.9h0M1329.7 176.5h0M1328.4 154.9h0M1326 171h0M1320.1 155.1h0M1329.1 159.1h0M1331.5 157.3h0M1317.7 160.5h0M1336 159.8h0M1327.8 168.7h0M1322.5 175.4h0M1328.8 170.3h0M1318.5 152.7h0M1312.6 165.2h0M1326.5 172.5h0M1336 164.7h0M1326.3 170.3h0M1336.2 160.1h0M1331.2 164.7h0M1326 173.2h0M1323.4 158.1h0M1331.5 166.5h0M1326.3 165.6h0M1330.5 163.7h0M1332 170h0M1336 176.8h0M1332.5 165.1h0M1328.5 162h0M1343.5 164.9h0M1330.9 177.6h0M1320.3 160.1h0M1325.6 158.8h0M1320.8 162.6h0M1334.9 172.5h0M1328 167h0M1318.7 172.3h0M1330.2 158.1h0M1329 165.2h0M1325 158.8h0M1324.1 159.2h0M1330.4 169.7h0M1329.6 165.3h0M1325.6 183.1h0M1317.6 176.3h0M1329.8 167.3h0M1325 165h0M1321.3 155.7h0M1327.2 153.5h0M1332.5 175.7h0M1308.9 154.3h0M1329.3 168.5h0M1328.5 170.1h0M1331.9 173.7h0M1337.7 167h0M1332.6 153.8h0M1327.1 157h0M1335.5 185.5h0M1330.8 156.4h0M1327.2 167h0M1329 175.5h0M1333.1 145.6h0M1335.4 162.8h0M1324.8 178.1h0M1326.4 155.8h0M1320.6 167.3h0M1332.9 178.8h0M1326.9 163.1h0M1336.8 163.2h0M1335.9 168.7h0M1329.2 164.9h0M1329.5 163.1h0M1324.1 165.7h0M1324.3 169.3h0M1328.3 164.7h0M1326.8 165h0M1337.4 166.7h0M1324.6 164.5h0M1331.5 165.2h0M1327 164.8h0M1328.8 169.9h0M1330.3 153.7h0M1322 145.8h0M1332.3 175.7h0M1335 168h0M1334.2 166.5h0M1327.2 154.5h0M1323.6 162.1h0M1332.9 180.1h0M1325.3 169.8h0M1329.4 160.6h0M1318.4 160.8h0M1320 164.3h0M1327.1 165.4h0M1326.9 170.7h0M1322.7 173.9h0M1318.7 167.3h0M1330 160.5h0M1319.1 171.9h0M1324.2 173h0M1332.1 166.7h0M1327.8 174.7h0M1329.9 159.3h0M1328.8 171.2h0M1329 168.3h0M1327 165.8h0M1322.7 155.4h0M1334 161.7h0M1329.1 154.8h0M1328.7 160.2h0M1344.1 158.7h0M1322.6 174.3h0M1334.1 150h0M1329.2 173.8h0M1321.1 172.2h0M1325 158.8h0M1325.9 163.1h0M1320.2 184.6h0M1325.4 160.8h0M1332.5 166.2h0M1335.1 164.6h0M1329.8 167.5h0M1328.8 165.1h0M1327.3 180.1h0M1324.1 162.4h0M1326 171.3h0M1330 174.2h0M1320.5 168.8h0M1326.9 164.5h0M1328.7 151.1h0M1329.3 167.9h0M1320 166h0M1336.3 163.7h0M1331.1 165h0M1323.4 159.5h0M1325.7 177.1h0M1332.3 161.2h0M1333.3 165.8h0M1324.1 170.2h0M1322.9 154.3h0M1334.9 152.3h0M1330.8 154.7h0M1327.7 165.2h0M1325.5 149.5h0M1327.3 166.5h0M1323 166.2h0M1333.3 161.1h0M1329.2 157.7h0M1329.9 171.8h0M1341.3 173.9h0M1330.2 177.9h0M1322.5 175.3h0M1324.9 161.9h0M1333.8 168.7h0M1335.1 155.4h0M1329.3 162.7h0M1326.4 151.8h0M1333 168.5h0M1322.5 156.2h0M1323.2 177.8h0M1327.3 164.2h0M1330.6 166.9h0M1329.2 172.7h0M1329.7 173.8h0M1321.5 167.4h0M1326 167.7h0M1327.7 161.9h0M1326 174.3h0M1324.9 157.1h0M1331.2 174.6h0M1326.5 167.9h0M1323.4 165.3h0M1333.9 173.2h0M1328.8 164.8h0M1319.2 169.4h0M1330.4 175.2h0M1338.8 169.9h0M1333.1 158.2h0M1334.5 173.8h0M1335.3 172.3h0M1330.4 178.6h0M1324.4 172h0M1333.8 160.9h0M1321.8 170.4h0M1328.7 171.8h0M1331.5 161.1h0M1329.8 175.9h0M1326.1 164.8h0M1322 173.4h0M1338.5 156.4h0M1332.1 174.1h0M1325.1 164.2h0M1322.5 161h0M1329 172.2h0M1328.7 173.8h0M1329.2 158h0M1335.9 176.4h0M1324.3 181h0M1330.6 168.2h0M1338.4 147.7h0M1319.5 172.7h0M1326.8 159.8h0M1336.2 171h0M1321.3 162h0M1332.7 181.1h0M1317.4 169.1h0M1326.1 153.6h0M1327.3 154.7h0M1325.3 179.8h0M1330.9 173.3h0M1331.4 170h0M1333.4 158.1h0M1326.2 173.9h0M1324.3 163.8h0M1334.7 179.2h0M1324.9 160.9h0M1331.3 169.4h0M1324.6 171.9h0M1331.2 167.9h0M1344 177.9h0M1332.6 175.3h0M1344.1 175.9h0M1324.4 169.8h0M1328.6 162.9h0M1329.6 169.3h0M1327.9 163.5h0M1332.7 154.9h0M1332.7 167.4h0M1329.7 148.8h0M1337.3 153.8h0M1323.6 172.4h0M1325 164.2h0M1316.2 163.9h0M1329.4 172.7h0M1326.7 169.1h0M1330.6 162.1h0M1324.2 182.7h0M1323.7 177h0M1328.6 178.9h0M1324.8 171.4h0M1330 165.6h0M1329.9 161.3h0M1327.8 164.2h0M1332.3 166.6h0M1320.7 164.4h0M1327.7 160.3h0M1335.4 170.5h0M1332.8 161.4h0M1326.1 175.3h0M1320.5 170.2h0M1328.7 163.4h0M1328.7 158.9h0M1329.5 157.8h0M1321.4 178.3h0M1324.5 150.8h0M1333.5 161.3h0M1309.2 166.9h0M1333.3 170.1h0M1337.5 166.4h0M1331.5 159.4h0M1329.1 179.4h0M1331 168.6h0M1317.6 164.4h0M1321.3 173.5h0M1324.3 170.2h0M1322.8 182.2h0M1321.9 168.5h0M1342.5 169.1h0M1323.5 172.2h0M1333.6 174.2h0M1317.6 169.1h0M1316.7 182.3h0M1328.6 163.7h0M1331.9 171.2h0M1321.8 180.2h0M1326.9 153.5h0M1335.9 179.5h0M1335.1 171.7h0M1323.4 174.8h0M1338.4 173.8h0M1337 161.3h0M1333.8 174.8h0M1320.2 154.5h0M1324.4 168h0M1330.7 165.6h0M1327.9 166.5h0M1328.8 172h0M1331 167h0M1329.7 163.8h0M1332.6 163.4h0M1337.2 167.2h0M1329.8 161.4h0M1326.4 168.7h0M1328.4 162.5h0M1322 167.7h0M1329.1 171.8h0M1335.1 164.9h0M1317.4 166.3h0M1318.2 157.2h0M1333.9 171.9h0M1324.8 162.4h0M1327.8 153.5h0M1330.9 164.7h0M1338.4 159h0M1333.8 162h0M1333.9 159.7h0M1332.3 163.9h0M1323.8 166.2h0M1330.9 170.7h0M1336.9 174h0M1313.9 164.3h0M1317.4 164.4h0M1331.7 156.8h0M1321.8 168.6h0M1326.7 180.1h0M1330.1 171.7h0M1337.9 163.5h0M1328.3 159.5h0M1329.7 175.7h0M1335.8 167.2h0M1324.4 161.4h0M1320.7 168.4h0M1335.8 148.6h0M1316.4 178.7h0M1319.5 170.1h0M1321.4 173.7h0M1332.6 168.8h0M1332.9 167.9h0M1331.4 182.1h0M1334.4 162.2h0M1323.9 165.6h0M1327.1 168.1h0M1325 172.7h0M1328.6 170.4h0M1328.4 172.4h0M1321.8 180.2h0M1330.3 171.1h0M1331.7 176.2h0M1332.4 169.5h0M1327.4 154.4h0M1329.6 165.1h0M1326.7 186.8h0M1318.2 168h0M1335.1 175.3h0M1335.2 157.5h0M1323.1 172.6h0M1326.8 181.3h0M1329.7 169.2h0M1330.9 165.5h0M1329.1 162.2h0M1328.2 163.8h0M1329.9 156.3h0M1320.2 171.3h0M1329.7 160h0M1329.6 180.2h0M1336.4 177.6h0M1335.4 181.3h0M1331.5 184.1h0M1329.1 190.1h0M1332.7 184h0M1334.5 186.1h0M1329.4 186.9h0M1330.5 191.4h0M1327.4 185.5h0M1327.9 192h0M1335.7 185h0M1331.9 192.5h0M1329.4 180.8h0M1333.4 188h0M1329.6 192.8h0M1331 176.6h0M1331.3 185.2h0M1335.9 185.4h0M1329.7 187.6h0M1331 178.4h0M1330.6 183.8h0M1326.9 180.6h0M1327.7 182.2h0M1328.2 185.7h0M1333.5 179h0M1325.7 176.3h0M1333.6 192.1h0M1325.7 177.3h0M1330.7 190.9h0M1333.3 186.4h0M1332.3 187.1h0M1330.3 179.9h0M1328.9 177.8h0M1330.3 191h0M1326.5 191.1h0M1336.6 187.4h0M1272.3 155.9h0M1309.7 160.4h0M1312.3 151.1h0M1310.5 151h0M1299.9 160.4h0M1262.3 155.5h0M1283.8 160h0M1284.3 150.5h0M1314.7 156.3h0M1298.4 166.7h0M1313.5 153.3h0M1308.5 159.2h0M1294.3 154.4h0M1263.6 160.4h0M1309.2 157.5h0M1312.2 162.7h0M1256.1 166.8h0M1261.7 154h0M1288.8 166.9h0M1263.1 155.4h0M1257.7 151.6h0M1280.8 160.4h0M1285.7 150.9h0M1280.7 158h0M1311.1 155.9h0M1293 158.8h0M1301.7 160.9h0M1314.5 161.5h0M1275.5 157.6h0M1306.4 156.6h0M1310.6 157.9h0M1311.6 152.7h0M1302 158h0M1268.6 160.6h0M1258.6 153.6h0" stroke="#000" stroke-width="1.0" stroke-linecap="square" stroke-opacity="0.42"/></g>
<g clip-path="url(#cd3)">
<ellipse cx="1456" cy="143" rx="39" ry="45" fill="url(#g1)" fill-opacity="0.45"/>
<ellipse cx="1480" cy="152" rx="16.5" ry="36" fill="url(#g1)" fill-opacity="0.35"/>
<ellipse cx="1446.8" cy="129.7" rx="16.5" ry="33" fill="url(#g2)" fill-opacity="0.9" transform="rotate(5 1446.8 129.7)"/>
<ellipse cx="1446" cy="140" rx="12" ry="30" fill="url(#g1)" fill-opacity="0.4"/>
<ellipse cx="1475" cy="173.5" rx="13.8" ry="10.2" fill="url(#g3)" fill-opacity="0.95"/>
<ellipse cx="1475" cy="172" rx="21" ry="16.5" fill="url(#g1)" fill-opacity="0.35"/>
</g>
<g filter="url(#sb)"><path d="M1451.1 147.6h0M1446.6 140.5h0M1450.4 133.9h0M1466.3 138.6h0M1443 133.6h0M1457.7 176.2h0M1460.6 166.8h0M1463.7 112h0M1462.2 131.6h0M1439.5 128.2h0M1480.6 120.6h0M1449.1 161.9h0M1465.9 118.6h0M1455.8 136.6h0M1454.7 155.7h0M1449.7 139.6h0M1476.3 116.6h0M1452.3 151.5h0M1440.9 134.9h0M1440 146.7h0M1449 156.3h0M1470.6 145.1h0M1452.2 148.3h0M1457.9 126h0M1471.2 147.8h0M1467.5 123.8h0M1468.7 176.2h0M1465.2 122.4h0M1457.7 143.5h0M1460 140.8h0M1463.7 137.3h0M1460.2 133.9h0M1458.5 159.4h0M1450.7 154.4h0M1445.5 138.7h0M1454 163.2h0M1447.1 162.7h0M1437.9 141.9h0M1469.1 154.8h0M1443.9 125.8h0M1468.6 125.2h0M1464.7 136.4h0M1457 179.4h0M1477.5 157h0M1439 149.1h0M1457.8 142.7h0M1474.7 118.2h0M1461.3 146.2h0M1447.2 170.4h0M1440.4 144.7h0M1458.1 111h0M1438.3 129.5h0M1467.4 158.6h0M1464.9 147.9h0M1428.1 147.5h0M1450.3 162h0M1474.8 178.2h0M1466.4 156.6h0M1443.5 145.4h0M1440.8 157.8h0M1441.3 140.9h0M1446.2 137.1h0M1463 135.6h0M1459.9 128.9h0M1475.4 134.4h0M1470.3 176.7h0M1424.9 129.1h0M1454.3 161.9h0M1450.6 149.9h0M1447.4 152.7h0M1441 156.9h0M1417.5 115.3h0M1481 146.7h0M1445.1 177.7h0M1470.8 161.3h0M1451.4 153.6h0M1463.7 118.8h0M1464.8 141.3h0M1474 164h0M1448.4 134.8h0M1459.5 154.1h0M1451.5 142.3h0M1465 150.5h0M1472.3 147.7h0M1445.2 117.1h0M1467.7 138.9h0M1452.3 139.6h0M1436 138h0M1422.3 137.9h0M1445 172.2h0M1462.8 140.7h0M1459 155.2h0M1446.8 140.5h0M1457.8 113.8h0M1456 159.4h0M1449.3 139.8h0M1440.4 127.7h0M1428.2 161.6h0M1441.5 149.7h0M1461.2 134h0M1457.5 142.5h0M1450.2 144.7h0M1457.5 128.2h0M1439.5 130.8h0M1458.4 165.3h0M1476.5 148.8h0M1469.5 145.8h0M1471.6 145.9h0M1462 139.5h0M1456.7 173.3h0M1440.7 143.9h0M1448.8 158.7h0M1481.1 139.1h0M1419.5 153.4h0M1465 117.8h0M1453.5 142.8h0M1425.7 154.3h0M1462.6 147.6h0M1442.5 132.8h0M1448.2 151.3h0M1443.5 166.6h0M1461.8 110h0M1479.4 146.3h0M1449.3 145.4h0M1432.1 146.7h0M1423.5 127.9h0M1474.9 163.4h0M1452 128.7h0M1469.2 143h0M1459.5 153.5h0M1442.1 156.1h0M1428 166.5h0M1435.4 133.9h0M1447.6 155h0M1466.7 149.3h0M1463.9 151h0M1455.6 113.8h0M1425.4 107.7h0M1455.9 140.1h0M1454.6 147.1h0M1453.3 128h0M1436.2 113.9h0M1473 157.8h0M1438.1 139.3h0M1462.5 168.5h0M1448.3 146.3h0M1472.2 116.3h0M1446.5 142.9h0M1446.7 176.6h0M1468.2 146.6h0M1443.4 157.1h0M1465 135.4h0M1450.5 120.6h0M1455.4 157h0M1470 152.6h0M1467.6 134.2h0M1450 162.3h0M1462.5 131h0M1463.2 156.4h0M1466 145.1h0M1449.4 149.7h0M1479.4 145.7h0M1447.3 148.7h0M1439.6 147h0M1452.3 158.4h0M1457.7 159.8h0M1487.5 140h0M1445 150.6h0M1455.1 145.6h0M1448.2 152.1h0M1457.3 109.6h0M1453.1 148.6h0M1472.3 134.3h0M1445.4 161.3h0M1448.1 145h0M1462.7 154.9h0M1456.4 126h0M1470 136.6h0M1449.2 174.6h0M1468.2 126.8h0M1449.8 139.5h0M1446.2 113.4h0M1467.1 155.4h0M1459.6 137.1h0M1459.1 153.3h0M1442.2 138.1h0M1448.7 154.1h0M1459.8 123.1h0M1447.9 170.8h0M1443.2 145.6h0M1447.8 162.7h0M1455.4 136.5h0M1440.4 139.5h0M1467.4 153.7h0M1438.4 167.5h0M1452.9 126.9h0M1457.9 133.6h0M1448.4 133.4h0M1455 135.4h0M1433.2 151.3h0M1449.2 161.8h0M1463.4 152.8h0M1458.6 163.3h0M1451.8 127.8h0M1460.8 101h0M1451.2 146.5h0M1450.5 162.7h0M1465.6 144.9h0M1450.8 160.1h0M1447 136.7h0M1466.2 152.4h0M1483.5 139.8h0M1430.9 153.4h0M1473 140.6h0M1477 170.7h0M1447.2 135.7h0M1439.3 151.5h0M1465.7 152.5h0M1439.5 131.3h0M1436.9 118.1h0M1438 118.6h0M1453.6 149.6h0M1464.4 142.7h0M1447 142.9h0M1463.7 138.5h0M1456.8 138.3h0M1449 143.6h0M1441.1 159.3h0M1435.1 150.2h0M1437.8 166.4h0M1467.7 130.5h0M1450 125.6h0M1455.2 149.4h0M1490.2 121.9h0M1472.6 134h0M1459.7 156.6h0M1463.3 149.5h0M1453.4 142.9h0M1458 161.5h0M1436.4 135.4h0M1439.3 128.1h0M1445.3 159.9h0M1484.7 163.9h0M1440.2 144.2h0M1440.8 149.9h0M1473 152.1h0M1467.6 140.7h0M1429.7 112.4h0M1454.7 151.9h0M1473 137.6h0M1457 146.9h0M1470.2 141.9h0M1441.4 159.7h0M1461.5 148.9h0M1439 142.9h0M1433 112.1h0M1452.8 136.3h0M1463.6 165.2h0M1455.5 170.5h0M1448.1 154.7h0M1439.1 144.9h0M1451.8 139.8h0M1463.9 113.9h0M1457.5 130.5h0M1457.6 149h0M1451 137.3h0M1440.6 151.4h0M1447 149.8h0M1437 164.1h0M1442.4 160.8h0M1450 151.4h0M1454.1 153.4h0M1456.1 162.5h0M1465 153.5h0M1478.3 132.3h0M1473.4 144.1h0M1436.3 150.4h0M1453.3 169h0M1449.4 143.8h0M1459.1 113.7h0M1462.8 127.7h0M1474.8 168.6h0M1455.9 118.6h0M1458.4 145.7h0M1465.6 138.4h0M1440.1 140.8h0M1443.7 170.3h0M1446.6 133h0M1455.4 123.9h0M1450.1 140.9h0M1449.5 139.1h0M1472.5 149.7h0M1438.2 136.4h0M1465.9 133h0M1457.1 142.6h0M1463 140.2h0M1454.1 129.8h0M1460.8 128.7h0M1479.1 142.7h0M1453 155.1h0M1454.9 144.4h0M1455.3 131.8h0M1443.7 132.2h0M1471.1 133.4h0M1450.6 136.1h0M1465.3 173.4h0M1443.7 151.4h0M1457.6 138.3h0M1462.7 123.5h0M1467.1 146.4h0M1442.7 167.5h0M1467.3 160.9h0M1436.6 138.8h0M1449 152.6h0M1474 113.7h0M1456.3 141.1h0M1469.3 142.4h0M1439.1 140h0M1442.2 131.1h0M1456.6 135.6h0M1459.7 119.7h0M1486.9 162.3h0M1465.5 123.2h0M1427.3 129.8h0M1452.9 177.2h0M1473.4 134.9h0M1472.1 161.8h0M1456.2 161.7h0M1460.4 133h0M1440.4 141.1h0M1469.3 122.2h0M1434.6 151.4h0M1419.9 171h0M1450.2 154.2h0M1480.7 120.7h0M1442 177.4h0M1452.2 141h0M1459 159.2h0M1473.6 144.7h0M1451.5 142.4h0M1460 163.1h0M1457.8 170.9h0M1444.6 151.2h0M1479.3 162.8h0M1460.4 129.5h0M1446.5 140.6h0M1460.1 139.2h0M1436.6 131.7h0M1462.9 155.8h0M1437.4 137.4h0M1433.8 134.4h0M1451.4 134h0M1439.9 114.5h0M1455.4 138.8h0M1475.6 117.9h0M1461.8 163.6h0M1430 153.1h0M1434.6 151h0M1475.6 142.9h0M1459.8 132.4h0M1459.8 160.4h0M1453.6 140.9h0M1461.2 155.6h0M1434.2 143.9h0M1446.9 150.6h0M1469.8 147.8h0M1473.2 127.8h0M1450.6 127.8h0M1456.8 144.5h0M1453.4 124.4h0M1455 136.3h0M1464 138.9h0M1471.5 146.6h0M1431.3 140.4h0M1437 157.9h0M1475.1 142.6h0M1461.9 120.8h0M1426.1 134.5h0M1452.6 119.8h0M1457.2 147.8h0M1464.6 166.8h0M1466.8 137.4h0M1457.4 152.2h0M1442.1 163.4h0M1468 139.6h0M1467.2 157.5h0M1480 158.1h0M1458.8 153.9h0M1443.9 154h0M1435.6 149.6h0M1463.5 119.1h0M1481.6 125.4h0M1470 135h0M1460.2 133h0M1489.3 159h0M1480.2 155.2h0M1465.4 145.5h0M1453 152.6h0M1458.3 140.9h0M1437.9 138.6h0M1464.3 136.1h0M1460.9 141.1h0M1442.5 129.4h0M1446.4 138.9h0M1452.8 160.5h0M1441.8 111.9h0M1465.4 136.3h0M1475.8 152.4h0M1468.9 145.2h0M1469.1 134h0M1446.9 136.2h0M1477.4 167.4h0M1448.3 161.3h0M1454.3 160h0M1452.2 158.2h0M1454.9 139.1h0M1456.1 145.9h0M1448.7 122.4h0M1479 137.4h0M1432.2 108.6h0M1419 134.1h0M1474.6 118.4h0M1452.2 115.2h0M1471.2 149.2h0M1460.8 164.4h0M1478.5 159.4h0M1448.8 123.1h0M1442.5 116.6h0M1480.6 140.6h0M1458.2 146.6h0M1483.5 134.9h0M1472.3 148.3h0M1454.5 114h0M1468.8 132.1h0M1450.4 147.1h0M1457.8 161h0M1447.6 146.2h0M1460.3 144h0M1465.6 139.7h0M1472.7 132.7h0M1437.3 143h0M1472.4 135.7h0M1448.2 138.3h0M1458.8 140.9h0M1460.7 117.1h0M1476.6 152.6h0M1445 164.8h0M1462.6 166.4h0M1440.8 169.3h0M1457.2 111.9h0M1466.6 139h0M1443 140.3h0M1430.6 152.7h0M1453.7 139.5h0M1475.5 144.2h0M1447.7 129h0M1455.7 160.1h0M1448.8 127.6h0M1468.9 144.6h0M1456.2 175.9h0M1440.3 146.7h0M1432.8 139h0M1464.4 161h0M1439.5 156.5h0M1467 141.7h0M1489.5 143.6h0M1444.8 150.2h0M1431.6 167.7h0M1469.8 137.5h0M1464.8 151.9h0M1482.4 134.1h0M1439.3 112.2h0M1452.6 119.4h0M1454.2 150h0M1450.6 129h0M1472.5 140.5h0M1459.7 158.3h0M1439.1 129.4h0M1490 141.2h0M1442.6 139.7h0M1448.9 124.6h0M1451.1 143.3h0M1456.3 151.9h0M1433.3 120.5h0M1467.1 136.8h0M1472.8 148.3h0M1437.7 151.9h0M1443 147.6h0M1473 176.2h0M1455.6 154.4h0M1460.6 155.8h0M1422.4 137.6h0M1460.4 150.9h0M1446.5 156.3h0M1471.3 144.7h0M1453.5 138.1h0M1458.4 161.8h0M1476.6 136.4h0M1444.1 131.4h0M1469.7 147h0M1460.5 151h0M1461.6 141.7h0M1442.6 134.1h0M1458.2 149.7h0M1451.6 137.2h0M1474.8 136.4h0M1459.5 138.7h0M1445.1 120.3h0M1449.4 131h0M1467.8 126h0M1451 153.7h0M1455 151.2h0M1467.7 118.1h0M1451.1 128.9h0M1474.5 141.8h0M1463.1 169.7h0M1451.8 144.8h0M1462 139.5h0M1473.2 156.1h0M1469.8 144.4h0M1452 138.2h0M1451.7 118.5h0M1461.3 156.1h0M1456.4 136h0M1457 147h0M1460.9 171.1h0M1445.2 149.2h0M1465.7 144.8h0M1453.4 128h0M1448.7 154.4h0M1475.7 133.6h0M1462.7 151.5h0M1469.8 147.3h0M1462.3 157.2h0M1441.1 144.3h0M1433.2 113.6h0M1445.7 120.2h0M1463.2 158.7h0M1452.5 141.5h0M1453.4 139.6h0M1458.3 148.9h0M1450.4 131.6h0M1449.6 155.7h0M1451 165.5h0M1453.3 164.3h0M1440.8 133h0M1462.7 150.9h0M1454.4 174.4h0M1457.4 147.9h0M1449 168.6h0M1467.7 149.8h0M1435 149h0M1450.3 149.5h0M1468.4 132.2h0M1459.3 156.8h0M1458.6 138.5h0M1442.6 133.4h0M1439.8 158.4h0M1457.8 125.2h0M1456.4 124h0M1413.5 161.7h0M1471.7 121.3h0M1447 146.6h0M1451.4 130.6h0M1449.7 139.9h0M1449.2 146.6h0M1453.4 132h0M1456.7 118.5h0M1475.2 117.3h0M1455.3 148.6h0M1461.8 147.4h0M1472.8 126.5h0M1455.5 145.6h0M1449.9 134.5h0M1473.1 132.7h0M1450.1 139.3h0M1453.6 145.8h0M1453.7 149h0M1458.1 150.6h0M1474.2 130.7h0M1477.8 136.7h0M1465 145.8h0M1452.5 114h0M1477.3 132h0M1446.1 159.3h0M1457.3 171.8h0M1478.1 154h0M1459.6 154.8h0M1439.2 145.9h0M1458.2 136.3h0M1459.6 121.5h0M1468 162.6h0M1439.5 145.5h0M1476.3 149.6h0M1442.9 128.6h0M1467.3 170.7h0M1442.2 143.9h0M1446.2 139.1h0M1460.3 142.7h0M1447.4 174.7h0M1454.2 140.6h0M1470.6 143.5h0M1453.6 157.4h0M1442.9 154.4h0M1469.6 153.2h0M1454 143.2h0M1434.1 141.4h0M1460 156.2h0M1458.1 137.5h0M1445.4 142.6h0M1458 161.3h0M1456.4 135.8h0M1454.9 136.1h0M1453.2 110.5h0M1435.7 125.5h0M1462.2 142.1h0M1458.1 160.5h0M1442.8 160.2h0M1461.2 132.7h0M1475.4 122.1h0M1441.7 140.2h0M1461.4 140.4h0M1428.8 138.8h0M1455.1 181h0M1473.9 145.1h0M1442.2 148.3h0M1441.2 146.3h0M1460.9 137.3h0M1459.4 138.4h0M1448.9 166h0M1463.7 138.7h0M1446.4 145.9h0M1463.5 155.9h0M1475.1 150.1h0M1441.8 173.3h0M1471.1 155.5h0M1473.4 121.2h0M1451.4 135.7h0M1471.5 125.8h0M1452.1 165.7h0M1464.5 137.5h0M1480.3 123.5h0M1462 139.8h0M1462.7 139.1h0M1445.5 146.4h0M1439.3 151.1h0M1452.1 156.8h0M1450.4 133.3h0M1461.3 161.4h0M1429.6 144.9h0M1464.2 122.2h0M1444.9 152.7h0M1445.6 133.7h0M1478.2 129.2h0M1445.1 109h0M1442.1 125h0M1478.1 161.2h0M1439.9 172.2h0M1466 140.5h0M1466.5 148.8h0M1446.3 117.1h0M1444.5 143.1h0M1451.6 132.2h0M1468.6 127.4h0M1467.5 136h0M1457.5 126.6h0M1456 131.6h0M1433.7 142.8h0M1455.4 155.4h0M1459.7 128.1h0M1448.2 106.4h0M1441.7 162.3h0M1475.5 154.4h0M1460 151.8h0M1462.3 117.5h0M1444.9 160.6h0M1471.2 146.7h0M1452.1 137.4h0M1449.1 129.4h0M1431.4 145.3h0M1450.3 139.9h0M1478.1 151.8h0M1447.1 151.7h0M1436.8 158.7h0M1459.5 140.2h0M1463.4 164.7h0M1450.1 128.4h0M1483.2 143.3h0M1475.3 133.1h0M1460.9 133.6h0M1464.2 139h0M1447.4 166.1h0M1460.4 112.9h0M1453 129.4h0M1440.4 134.4h0M1449.9 143.6h0M1445.8 115.4h0M1449.1 156.1h0M1438.5 152.2h0M1462 136.4h0M1460 131.9h0M1450.9 127.8h0M1462 163.4h0M1447.3 160.8h0M1428.5 129.8h0M1443 168.7h0M1448.4 154.6h0M1429.6 144.7h0M1463.3 142.5h0M1420.8 145.7h0M1466.5 162.7h0M1461.2 117.8h0M1453.3 156.5h0M1445.4 151.4h0M1449.8 144.4h0M1465.8 132.4h0M1493.1 145.3h0M1460.5 131.9h0M1456.8 139h0M1437.1 120.1h0M1459.7 141.7h0M1421.9 110.9h0M1452 142h0M1463.9 124.4h0M1463.7 138.4h0M1449.4 140.9h0M1468.8 151.4h0M1467.6 132.7h0M1452.3 125.6h0M1448.8 137.1h0M1449.9 153.7h0M1461.5 154.4h0M1457.7 159.1h0M1457.5 157.5h0M1462.5 154h0M1455.1 124.4h0M1437.2 172.4h0M1461 149.7h0M1453.8 136.1h0M1493.3 126.2h0M1455.2 142.2h0M1441.3 123.9h0M1446.9 137.8h0M1449.7 155.2h0M1440.7 149.1h0M1475.1 156.4h0M1441.2 98.7h0M1467 150.5h0M1448.4 162.2h0M1450.7 144.6h0M1442.5 147.8h0M1450.4 135.4h0M1470 146.2h0M1436.6 153.4h0M1466.9 130.5h0M1450.9 143.8h0M1452.8 144.9h0M1464.4 135.6h0M1483.1 132.3h0M1449 172.5h0M1487 143.6h0M1453.6 126.9h0M1470.9 145.6h0M1445 149.1h0M1473.8 153.3h0M1484.7 160.4h0M1461.7 142.5h0M1463.2 161.3h0M1467.2 158.8h0M1458.9 154.5h0M1471.8 140.5h0M1439.2 168.9h0M1463.6 136.4h0M1459 139.3h0M1433.8 140.2h0M1437.5 146h0M1454.6 160h0M1454.4 148.6h0M1452.1 137.3h0M1437.8 157.9h0M1458.2 134.3h0M1458.7 136.8h0M1446.6 146.7h0M1471.8 139h0M1437.5 133.8h0M1479.4 130.8h0M1471.4 139.4h0M1465.6 141.4h0M1435.5 136.8h0M1483.5 141h0M1463.3 138h0M1454.3 147.8h0M1462.2 176.3h0M1455.8 140.3h0M1447.4 123.3h0M1435.1 153h0M1431.8 164.1h0M1467.2 138.6h0M1441 143.5h0M1456.3 159.9h0M1446.4 137.4h0M1455.3 138.9h0M1447.9 117.3h0M1434.7 132.9h0M1453.1 158h0M1486.1 168.8h0M1461.2 171.2h0M1454.5 135.1h0M1486.1 127h0M1450.7 139.1h0M1475 134.1h0M1466.2 137h0M1440.1 146.6h0M1458.2 125.7h0M1444.8 131.2h0M1468.6 150h0M1459.2 150.4h0M1449.9 150.2h0M1448.2 123.1h0M1446.9 146.2h0M1457.2 158.9h0M1434.1 139.8h0M1461.2 128.7h0M1459.3 137h0M1441.4 159.9h0M1438 158.1h0M1450.7 129h0M1444.6 132h0M1445.1 147.1h0M1431.8 161.7h0M1466.9 163.9h0M1443.3 108.4h0M1448 140.6h0M1460 135.3h0M1455 145.4h0M1436 170.2h0M1441.5 147.1h0M1470.1 131.4h0M1456.2 167.6h0M1452.5 158.8h0M1459.9 146.6h0M1465.5 139.7h0M1453.4 157.6h0M1459.5 150.6h0M1440.6 143.4h0M1471.9 156.7h0M1460.6 135.4h0M1448.2 149.8h0M1474.6 143.9h0M1473.1 138.7h0M1471.8 128.2h0M1458.6 127.2h0M1464.8 151.8h0M1443.9 132.1h0M1450.4 120.9h0M1444.2 130.3h0M1466.4 164h0M1450.4 138.9h0M1459 135.4h0M1452.6 155.8h0M1459.2 142h0M1448.8 165.3h0M1448.2 145h0M1442.8 134.3h0M1457.4 137.3h0M1463.1 144.2h0M1438.2 108.6h0M1469.1 134.5h0M1475.4 143.4h0M1446.3 151.6h0M1452.7 143.4h0M1444.1 152.8h0M1470.4 135.3h0M1479.3 134.7h0M1459.4 118.7h0M1431.2 174.7h0M1474.7 160.4h0M1434.1 146.6h0M1461.6 144.4h0M1460 129.4h0M1454.1 126.1h0M1451.6 148.8h0M1446 139h0M1450.6 143.4h0M1468.1 146.7h0M1461.3 121.6h0M1451.4 155.4h0M1445 136.7h0M1443.6 163.2h0M1450.3 132.2h0M1464.2 159.6h0M1462.6 157.9h0M1458.9 141.2h0M1450.4 135.5h0M1448.4 148.6h0M1454.6 144.4h0M1464 142.3h0M1438.3 131.3h0M1441.6 114.6h0M1457.5 125.2h0M1439.4 127h0M1467.4 138.5h0M1469.1 141.8h0M1450.4 151.6h0M1463.8 144.8h0M1442.6 136.2h0M1440.7 139.2h0M1457.3 165.3h0M1474.4 153.2h0M1468.5 146.5h0M1492.1 166h0M1490.4 148.8h0M1461.4 158.8h0M1458.5 147.7h0M1443.2 157.1h0M1457.8 155.2h0M1453.2 116.4h0M1462.5 160.5h0M1439.4 128.5h0M1452.1 139.3h0M1433.9 169.3h0M1469.2 133.8h0M1432.5 148.4h0M1481.8 155.4h0M1471 128.9h0M1459 120.5h0M1481.7 151.5h0M1428.6 115.3h0M1462.2 145.1h0M1452 152.2h0M1482.1 148.5h0M1432.5 140.6h0M1438.9 130.9h0M1460.2 140.4h0M1442.1 142.5h0M1445.3 150.9h0M1452.8 148.8h0M1452.4 154.1h0M1454.1 142.7h0M1448.6 145h0M1447 144.3h0M1449.7 135.5h0M1461.1 135.2h0M1450.3 122.2h0M1443.8 125.3h0M1479.3 122.8h0M1441.9 145.7h0M1474.4 117.4h0M1435.7 144.7h0M1460.2 121.6h0M1432.4 128.4h0M1465.5 142.1h0M1465.5 141.1h0M1455.4 152h0M1454.2 146.3h0M1443.9 133.7h0M1461.9 139.1h0M1446 152.6h0M1462.9 142.6h0M1445.9 156.2h0M1488.2 130.4h0M1435.7 131h0M1443.6 123.7h0M1440.3 155.4h0M1466.9 164.9h0M1465.4 135.5h0M1469.8 133.5h0M1451.2 125.1h0M1471.6 157.8h0M1449.7 138h0M1456.1 145.6h0M1466.6 143.6h0M1460.9 120.1h0M1451.7 115.7h0M1478.8 163.5h0M1464.9 159.2h0M1481.7 156.7h0M1434.9 139.5h0M1425 130.3h0M1439.4 142.4h0M1460.7 128.6h0M1451.9 146.7h0M1453.5 139.8h0M1424.3 135.9h0M1465.9 146.4h0M1436.3 138.4h0M1459 127.9h0M1464.3 130.5h0M1451.2 140.8h0M1484.5 137.7h0M1448.1 153.2h0M1449.4 145.4h0M1426.2 146.9h0M1455.3 123.1h0M1473.2 138.9h0M1453 122.7h0M1434.4 133.9h0M1435.7 149.8h0M1466.8 132.9h0M1434.6 136.5h0M1441.7 144.9h0M1457.8 136h0M1456.4 158h0M1477.6 134.6h0M1464.9 138.8h0M1441.7 161.6h0M1460.6 144.5h0M1460.1 140h0M1441.8 169h0M1467.2 146.3h0M1468 161.7h0M1452.9 151.2h0M1451.2 152h0M1452.2 178.9h0M1450.8 150.1h0M1461.5 137.4h0M1467.6 141.1h0M1450.1 142.4h0M1445.7 160.3h0M1463.6 157.1h0M1437.9 146.4h0M1445.5 143.7h0M1472 146.2h0M1453.2 159.2h0M1468.6 170.1h0M1431.3 147.3h0M1450 129.3h0M1457 124.9h0M1426.4 128.8h0M1452.1 170.4h0M1446.1 124.9h0M1429.8 137.1h0M1452.3 144.6h0M1436.7 130.9h0M1426 144.9h0M1435.1 101.2h0M1470.5 150h0M1460 147.6h0M1442 158.5h0M1441.8 171.1h0M1458.4 114.7h0M1466.8 172h0M1452.2 158.4h0M1452.7 133h0M1421.9 160.9h0M1449.7 148.1h0M1440.7 128.8h0M1470 136.6h0M1450.3 123.5h0M1458.2 154.1h0M1449.5 139.6h0M1439.6 163.5h0M1447.5 140.1h0M1477.4 139h0M1435.3 128.5h0M1450.8 169.2h0M1458.4 139.1h0M1466.3 162.1h0M1445.7 164.1h0M1466.8 149.3h0M1424.7 145.5h0M1473.8 138.4h0M1485.8 143.6h0M1442.3 151.5h0M1459.5 155.1h0M1452.7 162.2h0M1448.4 144.6h0M1439.3 130.5h0M1458.3 132.7h0M1449.8 139.5h0M1459 154.2h0M1465.7 158.1h0M1458.4 134.4h0M1434.9 137.4h0M1445.2 115.2h0M1477.3 114.8h0M1460.4 151.1h0M1452.6 181.9h0M1456 131h0M1478.8 130.5h0M1436.8 127.4h0M1447.3 143.4h0M1460.1 119.6h0M1460.3 176.6h0M1446.3 140.7h0M1464.9 161h0M1446.9 128h0M1442.4 159.3h0M1467.6 109.7h0M1427.5 123.8h0M1435.9 148.9h0M1458.6 172.5h0M1466.2 144.5h0M1471.3 129.1h0M1437.3 143.2h0M1468.1 118h0M1467.5 155.8h0M1449.1 145.2h0M1452.1 143.9h0M1466.4 130.4h0M1469.4 155.9h0M1467.7 112.7h0M1431.1 153.2h0M1448 132.1h0M1445.6 122.2h0M1451.9 131.7h0M1447.1 150h0M1440.1 159.8h0M1426.3 180.9h0M1437.7 151.5h0M1467.8 142.6h0M1465.5 141h0M1432.4 147.9h0M1470.8 134.2h0M1433.3 133.5h0M1460 147.3h0M1470.3 151.2h0M1462.4 112.1h0M1485.2 143.4h0M1467.1 137.4h0M1453.7 143.6h0M1476.6 165.8h0M1463.9 173h0M1450.5 150.6h0M1449.7 162.5h0M1456.2 157.7h0M1478.6 111h0M1484.6 147.6h0M1451.6 113.4h0M1451.8 107.6h0M1457 140.2h0M1480 137.8h0M1470.1 160.7h0M1483.2 139h0M1465.9 119.5h0M1441.1 138.6h0M1455.5 124.2h0M1450.4 153.6h0M1449.8 140.5h0M1444 164.1h0M1479.6 146h0M1454.4 168.5h0M1462.3 132.6h0M1437.9 133.8h0M1485.2 133.8h0M1453 163.3h0M1452.7 148.7h0M1442.1 123.8h0M1446.1 146.4h0M1447.1 112.7h0M1462.3 140.4h0M1452.2 133.5h0M1425.9 167.4h0M1449.5 151.1h0M1474.5 160.3h0M1458.7 143.1h0M1460.1 156.9h0M1463.7 136.1h0M1462 148.8h0M1465.2 146.1h0M1474.3 146.1h0M1467.8 143.6h0M1448.3 128.4h0M1453.9 151.2h0M1472.9 141.6h0M1449 135.2h0M1473.2 144.6h0M1449.3 154.4h0M1438.4 144.8h0M1455.4 140.9h0M1440.6 158.1h0M1478.4 122.6h0M1457.6 152.9h0M1486.1 136.6h0M1443.3 142.9h0M1482.8 144.1h0M1459.5 170.3h0M1427.5 109.7h0M1468.1 154.9h0M1437.5 151h0M1456.5 146.3h0M1445.3 136h0M1444.3 143.8h0M1452.9 168.9h0M1464.4 118.8h0M1461.5 165h0M1459.8 159.7h0M1455.5 153.8h0M1443.5 155.1h0M1437.6 162.9h0M1435.8 110.5h0M1463.1 140.3h0M1457.5 149.6h0M1455.6 129.4h0M1458.8 148.3h0M1462.6 173.6h0M1446.2 144h0M1463.5 136.1h0M1440 134.3h0M1470.2 138.9h0M1464.2 131.7h0M1461.9 132.6h0M1444.8 144.7h0M1456.7 165.7h0M1434.3 150.8h0M1477.5 164h0M1450.9 132.5h0M1449.4 147.6h0M1458.5 148.4h0M1464 126.5h0M1441 124.1h0M1438.1 141.5h0M1460.2 182h0M1463.1 143.3h0M1474.9 131.7h0M1460.5 158h0M1466.5 149.2h0M1451.3 123.9h0M1454 133.8h0M1465.2 140.9h0M1463.5 118.2h0M1469 129.9h0M1435.2 121.8h0M1447.6 160.3h0M1465.5 125h0M1457.2 141.4h0M1435.1 127.8h0M1428.8 129.6h0M1420.7 130.8h0M1443.5 130.7h0M1445 160.8h0M1451.4 146.7h0M1466.1 156.8h0M1465.1 134.5h0M1441.4 131h0M1449.7 143.1h0M1454.9 159.8h0M1454.6 170.5h0M1469.7 135.6h0M1467.5 98.9h0M1474.3 149.3h0M1461.3 117.1h0M1489.5 139.1h0M1454.1 160.3h0M1453.4 129.9h0M1464.8 127.4h0M1465.9 145.1h0M1471 124.4h0M1472.6 147.5h0M1482.2 133h0M1480.7 153.8h0M1466.5 131.8h0M1463.4 153.3h0M1445 125.2h0M1445.7 165.4h0M1458.1 157.4h0M1459.8 144.8h0M1459 136.7h0M1472.2 145.7h0M1459 121.8h0M1460.1 132.6h0M1449.3 158.9h0M1441.5 139.9h0M1464.4 160.7h0M1449.1 147.9h0M1459.8 125.7h0M1427.6 113.4h0M1464 144.6h0M1438.2 133.2h0M1450.7 137.5h0M1455.6 176.8h0M1445.6 145.2h0M1445.8 133.4h0M1444.3 139.5h0M1448.6 148.3h0M1458.8 129.3h0M1481.5 125.1h0M1460.7 176.2h0M1446.5 163.3h0M1474.8 148.2h0M1431.4 164.8h0M1457.2 134.6h0M1472.9 131.9h0M1470.1 134.6h0M1463.1 126.5h0M1450.7 129h0M1446.5 145.8h0M1453.7 145.9h0M1473 141.2h0M1431.3 138.6h0M1457.1 158.6h0M1469.7 157.5h0M1478.7 159.9h0M1471.9 167.8h0M1482.5 158.2h0M1477.9 152.7h0M1476.2 158.9h0M1472.5 163.9h0M1483.1 176.8h0M1479.8 150.9h0M1481.1 152.4h0M1479.4 138.5h0M1473.8 145h0M1478.4 137.4h0M1473.5 148.5h0M1484.2 149.7h0M1483.8 163.9h0M1484.3 146.8h0M1477.7 129.1h0M1476.2 157.7h0M1473.9 168.6h0M1488.1 147.5h0M1485.2 134.6h0M1474.1 147.4h0M1480 149.7h0M1475.2 176.1h0M1481.6 155.5h0M1483.8 154.1h0M1478.7 145.2h0M1470.8 170.3h0M1474.8 131.6h0M1475.5 132.4h0M1491.2 156.5h0M1487.9 169.8h0M1483.2 159h0M1475.9 151h0M1476.6 152.5h0M1476.1 167.5h0M1484.3 150.7h0M1470.6 160.4h0M1485 151.2h0M1472.9 157.3h0M1485.9 128.5h0M1483.2 129.8h0M1480.4 173.4h0M1480.5 157.9h0M1478.2 151.9h0M1493.2 168.3h0M1478.2 147.3h0M1480.1 178.9h0M1481.2 165.6h0M1478 136.4h0M1487.4 151.1h0M1475.6 143.5h0M1476.2 144.6h0M1471.4 166.7h0M1482.1 163.9h0M1478.1 156.2h0M1480.9 166.4h0M1484.6 156.4h0M1476.4 137.3h0M1475.5 144.3h0M1477 136.9h0M1489.3 155.3h0M1468.7 138.7h0M1472.5 154.9h0M1486 140h0M1483.5 148.6h0M1486.4 168.7h0M1481.7 160.8h0M1480 147.4h0M1473.5 156h0M1479.6 147.3h0M1479.6 149.7h0M1474.2 145.6h0M1486.4 149.2h0M1487.8 138h0M1472.4 153.6h0M1484.3 144h0M1483.5 163.4h0M1486 150.7h0M1479.7 131.9h0M1480.1 155.4h0M1487.9 136.5h0M1475.3 139.8h0M1485 121.3h0M1474 177h0M1483.7 135.9h0M1479.7 162.3h0M1483.1 149.3h0M1475.6 162.1h0M1480 161.8h0M1482.2 146.3h0M1488 145.9h0M1482.4 144.3h0M1478.7 149h0M1476.3 154.9h0M1487.3 174.5h0M1488 149.9h0M1488.1 157.1h0M1490 136.7h0M1488.2 144.8h0M1486.4 146.4h0M1485.1 148.6h0M1469.6 140.3h0M1478.7 152.3h0M1467.6 137.5h0M1475.9 149.4h0M1481.2 142.1h0M1471.6 155.7h0M1478.2 162.7h0M1477.1 159.8h0M1475.1 155.2h0M1480.5 157.4h0M1474.8 150.5h0M1475.3 150.1h0M1480.2 160.6h0M1480.6 165.7h0M1482.6 164.6h0M1482 181h0M1487.6 131.5h0M1481.7 153h0M1467.8 141.6h0M1477.5 143.2h0M1480.7 130.4h0M1484.1 161.4h0M1482 148.1h0M1480 146.4h0M1486.4 158.1h0M1491 147.6h0M1488 145.1h0M1479.1 139.5h0M1482.9 151.3h0M1483.5 170h0M1479.7 156.6h0M1485 151.4h0M1477 156.4h0M1482.8 161.5h0M1484.6 144h0M1482.5 166.9h0M1477.5 156.5h0M1476.6 154.1h0M1489.6 154.2h0M1474.7 156.2h0M1481.2 165.5h0M1472.5 141.1h0M1479.6 133.4h0M1486.3 127.7h0M1475.5 134.3h0M1476.4 161.7h0M1483.4 163.2h0M1483.4 127.6h0M1481.7 129.9h0M1477.3 147.4h0M1477 158h0M1475.6 172.9h0M1483.3 166.3h0M1484.2 162.8h0M1479.8 175.7h0M1474.2 157.6h0M1480.1 149.4h0M1481.8 143.1h0M1484.8 161.5h0M1480.6 161h0M1474.3 130.3h0M1476.8 149.3h0M1493.8 149.4h0M1485.7 162.3h0M1491.7 153.5h0M1483.7 149.8h0M1475.3 140h0M1475.7 169.3h0M1481.6 150.3h0M1480.1 145.3h0M1479.9 151.6h0M1483.6 163.1h0M1471 154.9h0M1487.6 139.8h0M1478.7 154.1h0M1486.1 159.3h0M1478.8 158.1h0M1485.8 156.8h0M1490.3 157.2h0M1474.3 142.7h0M1479.3 149.6h0M1483.5 156.4h0M1489.5 161.9h0M1488.2 143h0M1477.7 160.4h0M1480.6 159.7h0M1481.4 144.7h0M1489.5 165.9h0M1471.5 144.8h0M1480.2 160.3h0M1479.7 135.8h0M1484.7 149.7h0M1486.7 155.8h0M1485.6 162.2h0M1485 146.1h0M1485.8 154.7h0M1473.2 147.5h0M1478.2 157.9h0M1483.9 138.9h0M1484.1 151.5h0M1474.3 162.2h0M1475.9 138h0M1484.3 163.1h0M1476.5 164.9h0M1485.6 146.1h0M1491.1 151.6h0M1481.4 123.7h0M1483.6 144.9h0M1482.6 131.8h0M1486.5 169.8h0M1490.5 116.9h0M1483.4 156.5h0M1463.6 143.6h0M1479.7 169.4h0M1475.6 154.9h0M1479.9 156.8h0M1478 163.1h0M1485.5 136.1h0M1486.4 143.5h0M1478.7 165.9h0M1480.8 159.4h0M1484.6 159.7h0M1477.3 141.1h0M1484 161.6h0M1482.2 150.3h0M1485 152.2h0M1472.7 155.9h0M1483 161.8h0M1475.4 143.6h0M1482.1 147.3h0M1479.9 163.9h0M1482.5 174.5h0M1481.9 173.1h0M1480.4 151.7h0M1487.5 146.6h0M1477.8 155.8h0M1482.5 136.1h0M1481.8 149.2h0M1480.3 155h0M1479.4 165.8h0M1483.1 150.8h0M1480.9 165.4h0M1484.8 168.2h0M1479.7 154.7h0M1491.5 152.7h0M1489.7 163.2h0M1478.2 136.5h0M1484 144.8h0M1476.7 132.6h0M1487 154.4h0M1480.7 157.9h0M1481.9 154.4h0M1483.4 150h0M1466.5 162h0M1482.9 153.5h0M1489.2 136.6h0M1464.8 171h0M1482.8 133.7h0M1478.3 160.6h0M1473.9 159.9h0M1492.1 169.8h0M1480.4 157.1h0M1475.4 154.8h0M1478.8 141.4h0M1473.2 176.3h0M1481 141.1h0M1478.3 171h0M1489.4 145.9h0M1481.6 163.9h0M1478.7 139.2h0M1475.2 153.4h0M1476.4 137.8h0M1479.3 164.3h0M1484.3 150.5h0M1491 143.9h0M1480.2 137h0M1484.8 151.7h0M1471.4 143.4h0M1490.4 161.8h0M1481.2 163.5h0M1471.8 143.3h0M1473.3 143.3h0M1478.5 159.5h0M1486 164.8h0M1480.4 159.2h0M1476 149.7h0M1482.8 142.6h0M1483.1 167.7h0M1474.4 125.9h0M1481 140.7h0M1481.5 147.8h0M1482.2 166.6h0M1485 148.8h0M1474.1 123.5h0M1468.6 143.6h0M1481 144.9h0M1477.2 133.9h0M1471.4 132.3h0M1483.8 129.2h0M1484 142h0M1483.2 155.5h0M1484.4 166.7h0M1476 140.9h0M1477.8 143.2h0M1483.8 151h0M1480.2 157.2h0M1477.5 165.3h0M1470 155h0M1482.8 143h0M1476.3 162.9h0M1478.3 129.2h0M1472.7 164.1h0M1475.2 167.7h0M1487.5 149.6h0M1483 142.2h0M1477.8 143.7h0M1483.2 136.7h0M1479.3 152.6h0M1482.8 126.6h0M1470.2 141.5h0M1478.8 153.6h0M1481 176h0M1483.5 158.9h0M1477.3 161.2h0M1483.7 159.9h0M1479.3 159.3h0M1488.3 142.4h0M1468.1 161.6h0M1483.9 149.1h0M1477.4 137.3h0M1477.3 157.8h0M1476.6 147.2h0M1481.6 146.7h0M1480.6 151.3h0M1474.1 152.7h0M1473.6 162.9h0M1474.8 149h0M1470 146.5h0M1473.1 169.6h0M1479.2 158h0M1470.3 137h0M1479 135.6h0M1486.1 147h0M1480.7 155.4h0M1479.1 161h0M1476.2 156.1h0M1486.4 154.3h0M1480.6 147.8h0M1480.2 159.7h0M1478.5 131.8h0M1480.8 149.9h0M1482.4 152.2h0M1488.4 137.4h0M1474.6 159.4h0M1474.3 155.6h0M1479.8 128.4h0M1483.5 167.9h0M1481 135.1h0M1484.1 139.4h0M1479.2 156.5h0M1475.6 131.7h0M1479.1 151.1h0M1475.2 142.4h0M1483.8 150.6h0M1477.3 144.6h0M1480.7 152.7h0M1478.9 135.3h0M1477.8 144.2h0M1480.2 165.2h0M1484.9 159.1h0M1480.4 147.8h0M1481.6 146h0M1478 141.7h0M1479.5 150.7h0M1489.7 158.1h0M1477.8 160.7h0M1477.3 163.4h0M1474 150.7h0M1479.2 155h0M1483.6 140.2h0M1475.9 155.1h0M1485 138.5h0M1471.5 164.9h0M1484.3 164.2h0M1474.6 149.3h0M1481 156.7h0M1479.2 151h0M1485.2 146.5h0M1476.9 146.6h0M1477.1 153.1h0M1478.7 146.5h0M1487.4 155.1h0M1478 166.2h0M1443.6 129.6h0M1446.3 123.5h0M1444.6 130.5h0M1438.5 125.5h0M1448.2 132.5h0M1448.5 154.3h0M1450.6 128.1h0M1446.1 129.6h0M1449.3 126.5h0M1455.4 118h0M1450.4 134.9h0M1440.2 136.2h0M1450 122.9h0M1460 137.1h0M1444.9 124.6h0M1442.5 132.3h0M1447.1 114.8h0M1440.8 122.1h0M1444.5 125.8h0M1443 136.3h0M1452.2 130.4h0M1434.2 128h0M1450 128.7h0M1448.3 130.7h0M1438.3 103.1h0M1450.3 124.1h0M1449.1 126.4h0M1445.8 143.9h0M1439.9 129.5h0M1440.5 130.3h0M1449.5 136.4h0M1447.6 115.2h0M1448.2 138.9h0M1452.4 151.9h0M1450 118.9h0M1443.8 130.5h0M1452.7 117.6h0M1452 136.4h0M1441.8 135.9h0M1442.4 129.5h0M1445 132h0M1440 135.1h0M1434.4 125.3h0M1443.5 146h0M1449.8 124.5h0M1441.7 129.9h0M1443.2 152.9h0M1431 130.3h0M1432.8 140.4h0M1442.2 146.3h0M1443.7 140.9h0M1447.9 141.9h0M1446.9 98.5h0M1442.6 113.3h0M1452.2 135.2h0M1446.8 134.3h0M1447.9 123.6h0M1457.9 132.1h0M1445.7 114.3h0M1443.2 129.7h0M1445.8 124.6h0M1446.5 117.9h0M1446.8 113.4h0M1441.9 121.9h0M1451.7 134.7h0M1447.2 117.6h0M1444.5 138h0M1453.9 114.2h0M1444.3 130.7h0M1448.8 129.7h0M1450.6 114.5h0M1455.7 117.6h0M1447.1 135.1h0M1453.4 139.1h0M1451.8 143h0M1445.9 137.5h0M1455.6 121.7h0M1438.8 119.2h0M1454.9 142.7h0M1444.8 132.3h0M1449.5 140.7h0M1436.1 123.9h0M1445.4 133.1h0M1447.3 126.4h0M1448.5 102.8h0M1464.4 138.4h0M1451.9 122.9h0M1449.2 151.3h0M1457.3 130.6h0M1439.8 131.5h0M1445.2 138.7h0M1439.6 127.8h0M1448.4 124.9h0M1452.9 117.9h0M1439.8 126.1h0M1451.7 126.6h0M1443.5 138.3h0M1448.2 124.3h0M1447.6 127.3h0M1450.4 131.3h0M1442.3 124.8h0M1444.5 133.7h0M1449.1 121.1h0M1445.8 133.1h0M1453.2 132.4h0M1458.1 130.1h0M1451.1 126.4h0M1441.2 130.9h0M1449.7 133.2h0M1447.7 126.3h0M1442.2 126.6h0M1449.6 139.9h0M1428 136.2h0M1453.1 143.1h0M1449.1 136.9h0M1444.3 128.9h0M1449.9 118.2h0M1442.3 131.9h0M1439.2 130.4h0M1438.4 131.8h0M1447 123.9h0M1441.5 124.4h0M1434 125.6h0M1447.6 142.5h0M1444 127.9h0M1454.9 148.1h0M1444.1 140.8h0M1453.7 135.2h0M1441.2 119.9h0M1450.2 154.4h0M1445.9 146.3h0M1457.8 116.6h0M1443.4 145.7h0M1452.5 135.6h0M1446.8 136.4h0M1443.3 156.2h0M1440.3 110.8h0M1447.7 145h0M1444.1 129.2h0M1441 129h0M1441 119.2h0M1438.4 124h0M1457.6 129.2h0M1448 153.4h0M1443.2 119.3h0M1449.9 116.8h0M1448.8 142h0M1440.7 124.3h0M1456.7 118.6h0M1443 132.3h0M1445.1 120.8h0M1456.1 123.6h0M1448.8 125.4h0M1445.6 115.3h0M1452.2 125.2h0M1454.2 117.5h0M1444.1 134.8h0M1447.5 122.8h0M1446.1 116.1h0M1447.2 101.7h0M1447.9 144.1h0M1452 138.8h0M1444.5 135h0M1444.6 128.8h0M1446.3 94.1h0M1452.2 134.6h0M1451.7 119.7h0M1450.9 134.9h0M1434 111.1h0M1447.2 122.8h0M1446.8 123h0M1455.5 109.7h0M1439 119.4h0M1439 123.7h0M1446.7 115.6h0M1449 143.7h0M1453.2 151h0M1453.4 129.5h0M1457.2 137.3h0M1457.7 127.8h0M1434.8 117.5h0M1447.9 135.7h0M1445.7 140.5h0M1440.3 122.4h0M1452.6 130.4h0M1447.5 144.8h0M1453.3 121.5h0M1448.1 111.9h0M1446.9 134.1h0M1436.9 146.5h0M1458.5 135.2h0M1452.3 145.9h0M1446 141h0M1449.2 113.8h0M1441.8 124h0M1453.2 131h0M1452.7 125h0M1439.6 151.9h0M1462.7 134.1h0M1445.9 142.6h0M1440.6 127.8h0M1438.7 135.1h0M1448.4 125.8h0M1443.3 113.9h0M1442.2 143.1h0M1445 143.4h0M1442 129.2h0M1444.4 127.3h0M1451.5 108.3h0M1451.3 137.4h0M1447 130.8h0M1445.7 137.4h0M1447.3 121.1h0M1447.9 140.1h0M1449.2 130.3h0M1448.2 124.8h0M1444.4 110.1h0M1446 140.4h0M1444.8 120.5h0M1452.2 131.8h0M1447.8 135h0M1451 129.6h0M1442.2 148.4h0M1447.3 121.9h0M1448.1 142.6h0M1438.9 143.8h0M1446.2 151.1h0M1450.9 128.9h0M1454.2 143.4h0M1445 132.5h0M1444.1 139.7h0M1439 128.2h0M1434.8 136.2h0M1434.2 118.9h0M1448.5 126.3h0M1444.5 119.9h0M1444.3 111.6h0M1448.9 138.5h0M1451.4 129.7h0M1454 134.9h0M1452.5 134.2h0M1447.2 122.1h0M1432 136.8h0M1446.4 150.9h0M1435.7 138.9h0M1441.6 130h0M1442 133.7h0M1446.9 139.2h0M1447.9 135.1h0M1454.3 135.5h0M1446.3 143h0M1446.4 134.3h0M1445.2 123.1h0M1429.9 137.3h0M1440.4 137.8h0M1457.3 116.3h0M1452.1 129.1h0M1449.6 117.6h0M1447.2 131.7h0M1455.2 152.5h0M1448.8 126.3h0M1459.7 129h0M1446.7 131.2h0M1449.7 137.5h0M1443.8 129h0M1457.8 146.9h0M1449.6 133h0M1445.8 140.9h0M1444.1 131.4h0M1444.5 123.6h0M1447.3 130.2h0M1443.8 129.5h0M1447.5 125.3h0M1443.4 128.7h0M1451.1 141.7h0M1448.2 127.3h0M1446.9 150.2h0M1452.3 120.2h0M1446.8 124.6h0M1445 112.6h0M1447.3 116h0M1443.7 146h0M1452.8 121.1h0M1441.2 120.7h0M1436.3 119.9h0M1445.6 119.2h0M1451.4 129.7h0M1444.1 148.5h0M1451.1 130.9h0M1457.7 144h0M1443.1 133.6h0M1444.6 115.2h0M1458 145.9h0M1439.8 135.4h0M1437.7 141.5h0M1446.8 127.2h0M1454.3 130.3h0M1445.6 139.8h0M1445.4 139.4h0M1447.1 138.9h0M1450.7 138.5h0M1441.3 150h0M1446.2 148.7h0M1443.7 127.3h0M1445.6 142.4h0M1444.7 134.6h0M1438.1 125.2h0M1448.4 129.1h0M1436.3 135.5h0M1441.6 150.7h0M1446 154.1h0M1450.9 135.1h0M1444.3 129h0M1449.7 109.6h0M1452.9 117.8h0M1445.6 101.3h0M1449.7 138.1h0M1448.8 133.6h0M1445 131.8h0M1454.1 125.7h0M1450 137.9h0M1445.8 132.7h0M1448.4 124.9h0M1461.2 125.6h0M1457 141.6h0M1435.3 132.9h0M1453.1 138.9h0M1441.9 133h0M1440.2 119.1h0M1445.7 132.2h0M1456.4 134h0M1453.3 117.4h0M1440.4 125h0M1457.3 115.9h0M1437.9 129.4h0M1454 112.8h0M1445.6 115.7h0M1455.5 137.6h0M1448.7 129.7h0M1445.7 131.6h0M1443.3 120.7h0M1440.6 130.3h0M1442.4 139.5h0M1434.8 136.2h0M1450.2 143.1h0M1445.6 114.1h0M1441.7 142.2h0M1445.3 125.7h0M1443.7 129.4h0M1445.7 113.5h0M1426.3 132.7h0M1407.9 114.9h0M1401.4 147.8h0M1426.3 176.6h0M1431.3 116.7h0M1408.2 177.5h0M1411.6 145.5h0M1432.2 153h0M1401.6 140.4h0M1421.3 145.3h0M1404.5 177.3h0M1420 155.4h0M1430.7 123.9h0M1401 151.2h0M1436.4 171.7h0M1435.1 120.3h0M1435.3 110.7h0M1411.4 166.9h0M1403.7 163.6h0M1431.8 173h0M1434.3 158.8h0M1406.7 113.7h0M1403.2 128.3h0M1412.5 179.3h0M1434.2 112h0M1418.8 165.1h0M1415.7 144.1h0M1435.1 173.7h0M1406.9 166.5h0M1418 106.7h0M1412.1 171.7h0M1407.4 117.4h0M1438.3 137.5h0M1436.5 126.1h0M1402.5 173.7h0M1412.8 175.5h0M1426.9 167.6h0M1412.8 158.5h0M1432.6 155.9h0M1437 173h0" stroke="#000" stroke-width="1.0" stroke-linecap="square" stroke-opacity="0.38"/></g>
<line x1="1069.4" y1="154.5" x2="1069.4" y2="87" stroke="#222" stroke-width="1.6"/>
<path d="M1066.4 88 L1069.4 81.5 L1072.4 88 Z" fill="#222" stroke="none" stroke-width="1"/>
<text x="1075" y="208" font-size="13" fill="#222" transform="rotate(-90 1075 208)">HLA-DR</text>
<text x="1085.3" y="218" font-size="13.5" fill="#222">CTV</text>
<line x1="1124.7" y1="210" x2="1498" y2="210" stroke="#222" stroke-width="1.6"/>
<path d="M1497 207 L1504.5 210 L1497 213 Z" fill="#222" stroke="none" stroke-width="1"/>
<text x="21.4" y="290.7" font-size="37" fill="#222">E</text>
<path d="M104.2 312.7 V445 H302.8" fill="none" stroke="#222" stroke-width="1.4"/>
<line x1="98.7" y1="445" x2="104.2" y2="445" stroke="#222" stroke-width="1.3"/>
<text x="97.9" y="448.8" font-size="10.6" font-weight="bold" fill="#333" text-anchor="end">0</text>
<line x1="98.7" y1="411.9" x2="104.2" y2="411.9" stroke="#222" stroke-width="1.3"/>
<text x="97.9" y="415.7" font-size="10.6" font-weight="bold" fill="#333" text-anchor="end">20</text>
<line x1="98.7" y1="378.9" x2="104.2" y2="378.9" stroke="#222" stroke-width="1.3"/>
<text x="97.9" y="382.7" font-size="10.6" font-weight="bold" fill="#333" text-anchor="end">40</text>
<line x1="98.7" y1="345.8" x2="104.2" y2="345.8" stroke="#222" stroke-width="1.3"/>
<text x="97.9" y="349.6" font-size="10.6" font-weight="bold" fill="#333" text-anchor="end">60</text>
<line x1="98.7" y1="312.7" x2="104.2" y2="312.7" stroke="#222" stroke-width="1.3"/>
<text x="97.9" y="316.5" font-size="10.6" font-weight="bold" fill="#333" text-anchor="end">80</text>
<line x1="104.2" y1="445" x2="104.2" y2="449" stroke="#222" stroke-width="1.3"/>
<text x="104.2" y="461" font-size="10.6" font-weight="bold" fill="#333" text-anchor="middle">0</text>
<line x1="170.4" y1="445" x2="170.4" y2="449" stroke="#222" stroke-width="1.3"/>
<text x="170.4" y="461" font-size="10.6" font-weight="bold" fill="#333" text-anchor="middle">5</text>
<line x1="236.6" y1="445" x2="236.6" y2="449" stroke="#222" stroke-width="1.3"/>
<text x="236.6" y="461" font-size="10.6" font-weight="bold" fill="#333" text-anchor="middle">10</text>
<line x1="302.8" y1="445" x2="302.8" y2="449" stroke="#222" stroke-width="1.3"/>
<text x="302.8" y="461" font-size="10.6" font-weight="bold" fill="#333" text-anchor="middle">15</text>
<line x1="117.4" y1="445" x2="117.4" y2="447.5" stroke="#222" stroke-width="1.0"/>
<line x1="130.7" y1="445" x2="130.7" y2="447.5" stroke="#222" stroke-width="1.0"/>
<line x1="143.9" y1="445" x2="143.9" y2="447.5" stroke="#222" stroke-width="1.0"/>
<line x1="157.2" y1="445" x2="157.2" y2="447.5" stroke="#222" stroke-width="1.0"/>
<line x1="183.6" y1="445" x2="183.6" y2="447.5" stroke="#222" stroke-width="1.0"/>
<line x1="196.9" y1="445" x2="196.9" y2="447.5" stroke="#222" stroke-width="1.0"/>
<line x1="210.1" y1="445" x2="210.1" y2="447.5" stroke="#222" stroke-width="1.0"/>
<line x1="223.4" y1="445" x2="223.4" y2="447.5" stroke="#222" stroke-width="1.0"/>
<line x1="249.8" y1="445" x2="249.8" y2="447.5" stroke="#222" stroke-width="1.0"/>
<line x1="263.1" y1="445" x2="263.1" y2="447.5" stroke="#222" stroke-width="1.0"/>
<line x1="276.3" y1="445" x2="276.3" y2="447.5" stroke="#222" stroke-width="1.0"/>
<line x1="289.6" y1="445" x2="289.6" y2="447.5" stroke="#222" stroke-width="1.0"/>
<text x="203.4" y="477.7" font-size="10.6" font-weight="bold" fill="#333" text-anchor="middle">Days post MTB300 stimulation</text>
<text x="76" y="379.2" font-size="10.6" font-weight="bold" fill="#333" text-anchor="middle" transform="rotate(-90 76 379.2)">% of CD4 T cells</text>
<path d="M157.2 437.1 V440.4 M154.2 437.1 H160.2 M154.2 440.4 H160.2" fill="none" stroke="#444" stroke-width="0.9"/>
<path d="M170.4 430.6 V437.2 M167.4 430.6 H173.4 M167.4 437.2 H173.4" fill="none" stroke="#444" stroke-width="0.9"/>
<path d="M183.6 397.2 V418.7 M180.6 397.2 H186.6 M180.6 418.7 H186.6" fill="none" stroke="#444" stroke-width="0.9"/>
<path d="M196.9 368.6 V381.8 M193.9 368.6 H199.9 M193.9 381.8 H199.9" fill="none" stroke="#444" stroke-width="0.9"/>
<path d="M210.1 362 V383.5 M207.1 362 H213.1 M207.1 383.5 H213.1" fill="none" stroke="#444" stroke-width="0.9"/>
<path d="M223.4 358.7 V385.1 M220.4 358.7 H226.4 M220.4 385.1 H226.4" fill="none" stroke="#444" stroke-width="0.9"/>
<path d="M236.6 333 V364.1 M233.6 333 H239.6 M233.6 364.1 H239.6" fill="none" stroke="#444" stroke-width="0.9"/>
<path d="M249.8 330.1 V369.8 M246.8 330.1 H252.8 M246.8 369.8 H252.8" fill="none" stroke="#444" stroke-width="0.9"/>
<path d="M263.1 349.1 V368.9 M260.1 349.1 H266.1 M260.1 368.9 H266.1" fill="none" stroke="#444" stroke-width="0.9"/>
<path d="M276.3 334.9 V352.1 M273.3 334.9 H279.3 M273.3 352.1 H279.3" fill="none" stroke="#444" stroke-width="0.9"/>
<path d="M289.6 321 V355.7 M286.6 321 H292.6 M286.6 355.7 H292.6" fill="none" stroke="#444" stroke-width="0.9"/>
<path d="M117.4 431.1 V437.7 M114.4 431.1 H120.4 M114.4 437.7 H120.4" fill="none" stroke="#222" stroke-width="0.9"/>
<path d="M130.7 431.1 V437.7 M127.7 431.1 H133.7 M127.7 437.7 H133.7" fill="none" stroke="#222" stroke-width="0.9"/>
<path d="M143.9 431.1 V436.1 M140.9 431.1 H146.9 M140.9 436.1 H146.9" fill="none" stroke="#222" stroke-width="0.9"/>
<path d="M157.2 426.1 V436.1 M154.2 426.1 H160.2 M154.2 436.1 H160.2" fill="none" stroke="#222" stroke-width="0.9"/>
<path d="M170.4 429 V437.2 M167.4 429 H173.4 M167.4 437.2 H173.4" fill="none" stroke="#222" stroke-width="0.9"/>
<path d="M183.6 427.8 V438.4 M180.6 427.8 H186.6 M180.6 438.4 H186.6" fill="none" stroke="#222" stroke-width="0.9"/>
<path d="M196.9 436.6 V439.9 M193.9 436.6 H199.9 M193.9 439.9 H199.9" fill="none" stroke="#222" stroke-width="0.9"/>
<path d="M210.1 433.1 V441.7 M207.1 433.1 H213.1 M207.1 441.7 H213.1" fill="none" stroke="#222" stroke-width="0.9"/>
<path d="M223.4 438.2 V444.8 M220.4 438.2 H226.4 M220.4 444.8 H226.4" fill="none" stroke="#222" stroke-width="0.9"/>
<path d="M236.6 439.4 V442.7 M233.6 439.4 H239.6 M233.6 442.7 H239.6" fill="none" stroke="#222" stroke-width="0.9"/>
<path d="M104.2 445 L117.4 445 L130.7 444.5 L143.9 443 L157.2 438.7 L170.4 433.9 L183.6 408 L196.9 375.2 L210.1 372.7 L223.4 371.9 L236.6 348.6 L249.8 349.9 L263.1 359 L276.3 343.5 L289.6 338.3" fill="none" stroke="#444" stroke-width="1.0"/>
<path d="M104.2 439.5 L117.4 434.4 L130.7 434.4 L143.9 433.6 L157.2 431.1 L170.4 433.1 L183.6 433.1 L196.9 438.2 L210.1 437.4 L223.4 441.5 L236.6 441 L249.8 442.2 L263.1 443 L276.3 443.5 L289.6 443.5" fill="none" stroke="#222" stroke-width="1.1"/>
<circle cx="104.2" cy="445" r="3.2" fill="none" stroke="#333" stroke-width="1.1"/>
<circle cx="117.4" cy="445" r="3.2" fill="none" stroke="#333" stroke-width="1.1"/>
<circle cx="130.7" cy="444.5" r="3.2" fill="none" stroke="#333" stroke-width="1.1"/>
<circle cx="143.9" cy="443" r="3.2" fill="none" stroke="#333" stroke-width="1.1"/>
<circle cx="157.2" cy="438.7" r="3.2" fill="none" stroke="#333" stroke-width="1.1"/>
<circle cx="170.4" cy="433.9" r="3.2" fill="none" stroke="#333" stroke-width="1.1"/>
<circle cx="183.6" cy="408" r="3.2" fill="none" stroke="#333" stroke-width="1.1"/>
<circle cx="196.9" cy="375.2" r="3.2" fill="none" stroke="#333" stroke-width="1.1"/>
<circle cx="210.1" cy="372.7" r="3.2" fill="none" stroke="#333" stroke-width="1.1"/>
<circle cx="223.4" cy="371.9" r="3.2" fill="none" stroke="#333" stroke-width="1.1"/>
<circle cx="236.6" cy="348.6" r="3.2" fill="none" stroke="#333" stroke-width="1.1"/>
<circle cx="249.8" cy="349.9" r="3.2" fill="none" stroke="#333" stroke-width="1.1"/>
<circle cx="263.1" cy="359" r="3.2" fill="none" stroke="#333" stroke-width="1.1"/>
<circle cx="276.3" cy="343.5" r="3.2" fill="none" stroke="#333" stroke-width="1.1"/>
<circle cx="289.6" cy="338.3" r="3.2" fill="none" stroke="#333" stroke-width="1.1"/>
<circle cx="104.2" cy="439.5" r="2.9" fill="#1a1a1a" stroke="none" stroke-width="1"/>
<circle cx="117.4" cy="434.4" r="2.9" fill="#1a1a1a" stroke="none" stroke-width="1"/>
<circle cx="130.7" cy="434.4" r="2.9" fill="#1a1a1a" stroke="none" stroke-width="1"/>
<circle cx="143.9" cy="433.6" r="2.9" fill="#1a1a1a" stroke="none" stroke-width="1"/>
<circle cx="157.2" cy="431.1" r="2.9" fill="#1a1a1a" stroke="none" stroke-width="1"/>
<circle cx="170.4" cy="433.1" r="2.9" fill="#1a1a1a" stroke="none" stroke-width="1"/>
<circle cx="183.6" cy="433.1" r="2.9" fill="#1a1a1a" stroke="none" stroke-width="1"/>
<circle cx="196.9" cy="438.2" r="2.9" fill="#1a1a1a" stroke="none" stroke-width="1"/>
<circle cx="210.1" cy="437.4" r="2.9" fill="#1a1a1a" stroke="none" stroke-width="1"/>
<circle cx="223.4" cy="441.5" r="2.9" fill="#1a1a1a" stroke="none" stroke-width="1"/>
<circle cx="236.6" cy="441" r="2.9" fill="#1a1a1a" stroke="none" stroke-width="1"/>
<circle cx="249.8" cy="442.2" r="2.9" fill="#1a1a1a" stroke="none" stroke-width="1"/>
<circle cx="263.1" cy="443" r="2.9" fill="#1a1a1a" stroke="none" stroke-width="1"/>
<circle cx="276.3" cy="443.5" r="2.9" fill="#1a1a1a" stroke="none" stroke-width="1"/>
<circle cx="289.6" cy="443.5" r="2.9" fill="#1a1a1a" stroke="none" stroke-width="1"/>
<line x1="332.1" y1="320.5" x2="346.5" y2="320.5" stroke="#333" stroke-width="1.0"/>
<circle cx="339.3" cy="320.5" r="2.7" fill="#1a1a1a" stroke="none" stroke-width="1"/>
<text x="354.8" y="324.3" font-size="10.6" fill="#444">HLA-DR+ Div0</text>
<line x1="332.1" y1="338.2" x2="346.5" y2="338.2" stroke="#333" stroke-width="1.0"/>
<circle cx="339.3" cy="338.2" r="3" fill="none" stroke="#333" stroke-width="1.1"/>
<text x="354.8" y="342" font-size="10.6" fill="#444">HLA-DR+ Div1/Div2+</text>
<text x="479.3" y="288.6" font-size="37" fill="#222">F</text>
<text x="741.1" y="290.7" font-size="15.7" fill="#2a2a2a" text-anchor="middle">Day 8 post stimulation</text>
<path d="M616.5 308.6 V489.7 H860.7" fill="none" stroke="#8a8a8a" stroke-width="1.0"/>
<line x1="614.5" y1="310.5" x2="616.5" y2="310.5" stroke="#8a8a8a" stroke-width="0.9"/>
<text x="613.5" y="313.4" font-size="8.2" fill="#555" text-anchor="end">100000</text>
<line x1="614.5" y1="354.9" x2="616.5" y2="354.9" stroke="#8a8a8a" stroke-width="0.9"/>
<text x="613.5" y="357.8" font-size="8.2" fill="#555" text-anchor="end">50000</text>
<line x1="614.5" y1="399.3" x2="616.5" y2="399.3" stroke="#8a8a8a" stroke-width="0.9"/>
<text x="613.5" y="402.2" font-size="8.2" fill="#555" text-anchor="end">0</text>
<line x1="614.5" y1="443.7" x2="616.5" y2="443.7" stroke="#8a8a8a" stroke-width="0.9"/>
<text x="613.5" y="446.6" font-size="8.2" fill="#555" text-anchor="end">-50000</text>
<line x1="614.5" y1="488.1" x2="616.5" y2="488.1" stroke="#8a8a8a" stroke-width="0.9"/>
<text x="613.5" y="491" font-size="8.2" fill="#555" text-anchor="end">100000</text>
<line x1="625" y1="489.7" x2="625" y2="491.7" stroke="#8a8a8a" stroke-width="0.9"/>
<text x="625" y="498.8" font-size="9" fill="#555" text-anchor="middle">−150000</text>
<line x1="668.8" y1="489.7" x2="668.8" y2="491.7" stroke="#8a8a8a" stroke-width="0.9"/>
<text x="668.8" y="498.8" font-size="9" fill="#555" text-anchor="middle">−100000</text>
<line x1="712.6" y1="489.7" x2="712.6" y2="491.7" stroke="#8a8a8a" stroke-width="0.9"/>
<text x="712.6" y="498.8" font-size="9" fill="#555" text-anchor="middle">−50000</text>
<line x1="756.4" y1="489.7" x2="756.4" y2="491.7" stroke="#8a8a8a" stroke-width="0.9"/>
<text x="756.4" y="498.8" font-size="9" fill="#555" text-anchor="middle">0</text>
<line x1="800.2" y1="489.7" x2="800.2" y2="491.7" stroke="#8a8a8a" stroke-width="0.9"/>
<text x="800.2" y="498.8" font-size="9" fill="#555" text-anchor="middle">50000</text>
<line x1="844" y1="489.7" x2="844" y2="491.7" stroke="#8a8a8a" stroke-width="0.9"/>
<text x="844" y="498.8" font-size="9" fill="#555" text-anchor="middle">100000</text>
<text x="731.5" y="523.8" font-size="14.9" fill="#333" text-anchor="middle">PC1</text>
<text x="583.4" y="398.6" font-size="14.5" fill="#333" text-anchor="middle" transform="rotate(-90 583.4 398.6)">PC2</text>
<circle cx="627.5" cy="316.1" r="4.7" fill="#7fae4e" stroke="none" stroke-width="1"/>
<circle cx="704" cy="348.4" r="4.7" fill="#7fae4e" stroke="none" stroke-width="1"/>
<circle cx="635.4" cy="430.2" r="4.7" fill="#7fae4e" stroke="none" stroke-width="1"/>
<circle cx="717.9" cy="419.5" r="4.7" fill="#7fae4e" stroke="none" stroke-width="1"/>
<circle cx="639.2" cy="481.8" r="4.7" fill="#7fae4e" stroke="none" stroke-width="1"/>
<circle cx="718.5" cy="318.7" r="4.7" fill="#a88bc6" stroke="none" stroke-width="1"/>
<circle cx="721" cy="399.6" r="4.7" fill="#a88bc6" stroke="none" stroke-width="1"/>
<circle cx="725.2" cy="398" r="4.7" fill="#a88bc6" stroke="none" stroke-width="1"/>
<circle cx="727.4" cy="405.3" r="4.7" fill="#a88bc6" stroke="none" stroke-width="1"/>
<circle cx="695.4" cy="430.9" r="4.7" fill="#a88bc6" stroke="none" stroke-width="1"/>
<circle cx="849.7" cy="359.1" r="4.7" fill="#e5776d" stroke="none" stroke-width="1"/>
<circle cx="815.9" cy="380.6" r="4.7" fill="#e5776d" stroke="none" stroke-width="1"/>
<circle cx="830.1" cy="384.4" r="4.7" fill="#e5776d" stroke="none" stroke-width="1"/>
<circle cx="818.4" cy="405.3" r="4.7" fill="#e5776d" stroke="none" stroke-width="1"/>
<circle cx="797.2" cy="439.7" r="4.7" fill="#e5776d" stroke="none" stroke-width="1"/>
<circle cx="845" cy="386.3" r="4.7" fill="#4dbcc3" stroke="none" stroke-width="1"/>
<circle cx="835.1" cy="406.5" r="4.7" fill="#4dbcc3" stroke="none" stroke-width="1"/>
<circle cx="802.3" cy="418.2" r="4.7" fill="#4dbcc3" stroke="none" stroke-width="1"/>
<circle cx="795" cy="429" r="4.7" fill="#4dbcc3" stroke="none" stroke-width="1"/>
<circle cx="835.5" cy="427.4" r="4.7" fill="#4dbcc3" stroke="none" stroke-width="1"/>
<circle cx="513.2" cy="437.5" r="5.3" fill="#e5776d" stroke="none" stroke-width="1"/>
<text x="523.9" y="441.7" font-size="11.8" fill="#333">Div0</text>
<circle cx="513.2" cy="451.5" r="5.3" fill="#7fae4e" stroke="none" stroke-width="1"/>
<text x="523.9" y="455.7" font-size="11.8" fill="#333">Div2+</text>
<circle cx="513.2" cy="465.5" r="5.3" fill="#4dbcc3" stroke="none" stroke-width="1"/>
<text x="523.9" y="469.7" font-size="11.8" fill="#333">HLADR-</text>
<circle cx="513.2" cy="479.5" r="5.3" fill="#a88bc6" stroke="none" stroke-width="1"/>
<text x="523.9" y="483.7" font-size="11.8" fill="#333">HLADR+</text>
<text x="944.7" y="289" font-size="37" fill="#222">G</text>
<text x="1173.4" y="286.2" font-size="15.6" fill="#2a2a2a" text-anchor="middle">Day 8 post stimulation</text>
<rect x="1026" y="310.6" width="14.8" height="7.5" fill="#cd7641" stroke="#b0a8a0" stroke-width="0.5"/>
<rect x="1026" y="320.1" width="14.8" height="7.2" fill="#5b3f8d" stroke="#8a80a0" stroke-width="0.5"/>
<rect x="1040.8" y="310.6" width="14.8" height="7.5" fill="#cd7641" stroke="#b0a8a0" stroke-width="0.5"/>
<rect x="1040.8" y="320.1" width="14.8" height="7.2" fill="#5b3f8d" stroke="#8a80a0" stroke-width="0.5"/>
<rect x="1055.7" y="310.6" width="14.8" height="7.5" fill="#cd7641" stroke="#b0a8a0" stroke-width="0.5"/>
<rect x="1055.7" y="320.1" width="14.8" height="7.2" fill="#5b3f8d" stroke="#8a80a0" stroke-width="0.5"/>
<rect x="1070.5" y="310.6" width="14.8" height="7.5" fill="#cd7641" stroke="#b0a8a0" stroke-width="0.5"/>
<rect x="1070.5" y="320.1" width="14.8" height="7.2" fill="#5b3f8d" stroke="#8a80a0" stroke-width="0.5"/>
<rect x="1085.4" y="310.6" width="14.8" height="7.5" fill="#cd7641" stroke="#b0a8a0" stroke-width="0.5"/>
<rect x="1085.4" y="320.1" width="14.8" height="7.2" fill="#5b3f8d" stroke="#8a80a0" stroke-width="0.5"/>
<rect x="1100.2" y="310.6" width="14.8" height="7.5" fill="#dfbc8b" stroke="#b0a8a0" stroke-width="0.5"/>
<rect x="1100.2" y="320.1" width="14.8" height="7.2" fill="#5b3f8d" stroke="#8a80a0" stroke-width="0.5"/>
<rect x="1115.1" y="310.6" width="14.8" height="7.5" fill="#dfbc8b" stroke="#b0a8a0" stroke-width="0.5"/>
<rect x="1115.1" y="320.1" width="14.8" height="7.2" fill="#5b3f8d" stroke="#8a80a0" stroke-width="0.5"/>
<rect x="1130" y="310.6" width="14.8" height="7.5" fill="#dfbc8b" stroke="#b0a8a0" stroke-width="0.5"/>
<rect x="1130" y="320.1" width="14.8" height="7.2" fill="#5b3f8d" stroke="#8a80a0" stroke-width="0.5"/>
<rect x="1144.8" y="310.6" width="14.8" height="7.5" fill="#dfbc8b" stroke="#b0a8a0" stroke-width="0.5"/>
<rect x="1144.8" y="320.1" width="14.8" height="7.2" fill="#5b3f8d" stroke="#8a80a0" stroke-width="0.5"/>
<rect x="1159.7" y="310.6" width="14.8" height="7.5" fill="#dfbc8b" stroke="#b0a8a0" stroke-width="0.5"/>
<rect x="1159.7" y="320.1" width="14.8" height="7.2" fill="#5b3f8d" stroke="#8a80a0" stroke-width="0.5"/>
<rect x="1174.5" y="310.6" width="14.8" height="7.5" fill="#cd7641" stroke="#b0a8a0" stroke-width="0.5"/>
<rect x="1174.5" y="320.1" width="14.8" height="7.2" fill="#d6a84b" stroke="#8a80a0" stroke-width="0.5"/>
<rect x="1189.3" y="310.6" width="14.8" height="7.5" fill="#cd7641" stroke="#b0a8a0" stroke-width="0.5"/>
<rect x="1189.3" y="320.1" width="14.8" height="7.2" fill="#d6a84b" stroke="#8a80a0" stroke-width="0.5"/>
<rect x="1204.2" y="310.6" width="14.8" height="7.5" fill="#cd7641" stroke="#b0a8a0" stroke-width="0.5"/>
<rect x="1204.2" y="320.1" width="14.8" height="7.2" fill="#d6a84b" stroke="#8a80a0" stroke-width="0.5"/>
<rect x="1219" y="310.6" width="14.8" height="7.5" fill="#cd7641" stroke="#b0a8a0" stroke-width="0.5"/>
<rect x="1219" y="320.1" width="14.8" height="7.2" fill="#d6a84b" stroke="#8a80a0" stroke-width="0.5"/>
<rect x="1233.9" y="310.6" width="14.8" height="7.5" fill="#cd7641" stroke="#b0a8a0" stroke-width="0.5"/>
<rect x="1233.9" y="320.1" width="14.8" height="7.2" fill="#d6a84b" stroke="#8a80a0" stroke-width="0.5"/>
<rect x="1248.8" y="310.6" width="14.8" height="7.5" fill="#dfbc8b" stroke="#b0a8a0" stroke-width="0.5"/>
<rect x="1248.8" y="320.1" width="14.8" height="7.2" fill="#d6a84b" stroke="#8a80a0" stroke-width="0.5"/>
<rect x="1263.6" y="310.6" width="14.8" height="7.5" fill="#dfbc8b" stroke="#b0a8a0" stroke-width="0.5"/>
<rect x="1263.6" y="320.1" width="14.8" height="7.2" fill="#d6a84b" stroke="#8a80a0" stroke-width="0.5"/>
<rect x="1278.5" y="310.6" width="14.8" height="7.5" fill="#dfbc8b" stroke="#b0a8a0" stroke-width="0.5"/>
<rect x="1278.5" y="320.1" width="14.8" height="7.2" fill="#d6a84b" stroke="#8a80a0" stroke-width="0.5"/>
<rect x="1293.3" y="310.6" width="14.8" height="7.5" fill="#dfbc8b" stroke="#b0a8a0" stroke-width="0.5"/>
<rect x="1293.3" y="320.1" width="14.8" height="7.2" fill="#d6a84b" stroke="#8a80a0" stroke-width="0.5"/>
<rect x="1308.2" y="310.6" width="14.8" height="7.5" fill="#dfbc8b" stroke="#b0a8a0" stroke-width="0.5"/>
<rect x="1308.2" y="320.1" width="14.8" height="7.2" fill="#d6a84b" stroke="#8a80a0" stroke-width="0.5"/>
<rect x="1026" y="329.6" width="14.8" height="17.4" fill="#eec4c2" stroke="none" stroke-width="1"/>
<rect x="1040.8" y="329.6" width="14.8" height="17.4" fill="#dcdeee" stroke="none" stroke-width="1"/>
<rect x="1055.7" y="329.6" width="14.8" height="17.4" fill="#dcdeee" stroke="none" stroke-width="1"/>
<rect x="1070.5" y="329.6" width="14.8" height="17.4" fill="#f4dcdc" stroke="none" stroke-width="1"/>
<rect x="1085.4" y="329.6" width="14.8" height="17.4" fill="#f4dcdc" stroke="none" stroke-width="1"/>
<rect x="1100.2" y="329.6" width="14.8" height="17.4" fill="#cbcde4" stroke="none" stroke-width="1"/>
<rect x="1115.1" y="329.6" width="14.8" height="17.4" fill="#cbcde4" stroke="none" stroke-width="1"/>
<rect x="1130" y="329.6" width="14.8" height="17.4" fill="#cbcde4" stroke="none" stroke-width="1"/>
<rect x="1144.8" y="329.6" width="14.8" height="17.4" fill="#cbcde4" stroke="none" stroke-width="1"/>
<rect x="1159.7" y="329.6" width="14.8" height="17.4" fill="#cbcde4" stroke="none" stroke-width="1"/>
<rect x="1174.5" y="329.6" width="14.8" height="17.4" fill="#ce5753" stroke="none" stroke-width="1"/>
<rect x="1189.3" y="329.6" width="14.8" height="17.4" fill="#f5f2f6" stroke="none" stroke-width="1"/>
<rect x="1204.2" y="329.6" width="14.8" height="17.4" fill="#eec4c2" stroke="none" stroke-width="1"/>
<rect x="1219" y="329.6" width="14.8" height="17.4" fill="#e8aca9" stroke="none" stroke-width="1"/>
<rect x="1233.9" y="329.6" width="14.8" height="17.4" fill="#eec4c2" stroke="none" stroke-width="1"/>
<rect x="1248.8" y="329.6" width="14.8" height="17.4" fill="#dcdeee" stroke="none" stroke-width="1"/>
<rect x="1263.6" y="329.6" width="14.8" height="17.4" fill="#cbcde4" stroke="none" stroke-width="1"/>
<rect x="1278.5" y="329.6" width="14.8" height="17.4" fill="#cbcde4" stroke="none" stroke-width="1"/>
<rect x="1293.3" y="329.6" width="14.8" height="17.4" fill="#cbcde4" stroke="none" stroke-width="1"/>
<rect x="1308.2" y="329.6" width="14.8" height="17.4" fill="#dcdeee" stroke="none" stroke-width="1"/>
<text x="1327.1" y="341.3" font-size="12" fill="#333">LAG3</text>
<rect x="1026" y="347" width="14.8" height="17.4" fill="#f8ebeb" stroke="none" stroke-width="1"/>
<rect x="1040.8" y="347" width="14.8" height="17.4" fill="#dcdeee" stroke="none" stroke-width="1"/>
<rect x="1055.7" y="347" width="14.8" height="17.4" fill="#dcdeee" stroke="none" stroke-width="1"/>
<rect x="1070.5" y="347" width="14.8" height="17.4" fill="#cbcde4" stroke="none" stroke-width="1"/>
<rect x="1085.4" y="347" width="14.8" height="17.4" fill="#ececf4" stroke="none" stroke-width="1"/>
<rect x="1100.2" y="347" width="14.8" height="17.4" fill="#cbcde4" stroke="none" stroke-width="1"/>
<rect x="1115.1" y="347" width="14.8" height="17.4" fill="#cbcde4" stroke="none" stroke-width="1"/>
<rect x="1130" y="347" width="14.8" height="17.4" fill="#cbcde4" stroke="none" stroke-width="1"/>
<rect x="1144.8" y="347" width="14.8" height="17.4" fill="#cbcde4" stroke="none" stroke-width="1"/>
<rect x="1159.7" y="347" width="14.8" height="17.4" fill="#cbcde4" stroke="none" stroke-width="1"/>
<rect x="1174.5" y="347" width="14.8" height="17.4" fill="#c9453f" stroke="none" stroke-width="1"/>
<rect x="1189.3" y="347" width="14.8" height="17.4" fill="#f4dcdc" stroke="none" stroke-width="1"/>
<rect x="1204.2" y="347" width="14.8" height="17.4" fill="#f8ebeb" stroke="none" stroke-width="1"/>
<rect x="1219" y="347" width="14.8" height="17.4" fill="#dcdeee" stroke="none" stroke-width="1"/>
<rect x="1233.9" y="347" width="14.8" height="17.4" fill="#f5f2f6" stroke="none" stroke-width="1"/>
<rect x="1248.8" y="347" width="14.8" height="17.4" fill="#dcdeee" stroke="none" stroke-width="1"/>
<rect x="1263.6" y="347" width="14.8" height="17.4" fill="#dcdeee" stroke="none" stroke-width="1"/>
<rect x="1278.5" y="347" width="14.8" height="17.4" fill="#cbcde4" stroke="none" stroke-width="1"/>
<rect x="1293.3" y="347" width="14.8" height="17.4" fill="#cbcde4" stroke="none" stroke-width="1"/>
<rect x="1308.2" y="347" width="14.8" height="17.4" fill="#dcdeee" stroke="none" stroke-width="1"/>
<text x="1327.1" y="358.9" font-size="12" font-weight="bold" fill="#4b5cb2">GZMB</text>
<text x="1362.6" y="358.3" font-size="10" font-weight="bold" fill="#333">*</text>
<rect x="1026" y="364.5" width="14.8" height="17.4" fill="#cbcde4" stroke="none" stroke-width="1"/>
<rect x="1040.8" y="364.5" width="14.8" height="17.4" fill="#cbcde4" stroke="none" stroke-width="1"/>
<rect x="1055.7" y="364.5" width="14.8" height="17.4" fill="#dcdeee" stroke="none" stroke-width="1"/>
<rect x="1070.5" y="364.5" width="14.8" height="17.4" fill="#cbcde4" stroke="none" stroke-width="1"/>
<rect x="1085.4" y="364.5" width="14.8" height="17.4" fill="#fdfcfd" stroke="none" stroke-width="1"/>
<rect x="1100.2" y="364.5" width="14.8" height="17.4" fill="#cbcde4" stroke="none" stroke-width="1"/>
<rect x="1115.1" y="364.5" width="14.8" height="17.4" fill="#cbcde4" stroke="none" stroke-width="1"/>
<rect x="1130" y="364.5" width="14.8" height="17.4" fill="#cbcde4" stroke="none" stroke-width="1"/>
<rect x="1144.8" y="364.5" width="14.8" height="17.4" fill="#dcdeee" stroke="none" stroke-width="1"/>
<rect x="1159.7" y="364.5" width="14.8" height="17.4" fill="#cbcde4" stroke="none" stroke-width="1"/>
<rect x="1174.5" y="364.5" width="14.8" height="17.4" fill="#ce5753" stroke="none" stroke-width="1"/>
<rect x="1189.3" y="364.5" width="14.8" height="17.4" fill="#ececf4" stroke="none" stroke-width="1"/>
<rect x="1204.2" y="364.5" width="14.8" height="17.4" fill="#f4dcdc" stroke="none" stroke-width="1"/>
<rect x="1219" y="364.5" width="14.8" height="17.4" fill="#f4dcdc" stroke="none" stroke-width="1"/>
<rect x="1233.9" y="364.5" width="14.8" height="17.4" fill="#e09592" stroke="none" stroke-width="1"/>
<rect x="1248.8" y="364.5" width="14.8" height="17.4" fill="#cbcde4" stroke="none" stroke-width="1"/>
<rect x="1263.6" y="364.5" width="14.8" height="17.4" fill="#dcdeee" stroke="none" stroke-width="1"/>
<rect x="1278.5" y="364.5" width="14.8" height="17.4" fill="#cbcde4" stroke="none" stroke-width="1"/>
<rect x="1293.3" y="364.5" width="14.8" height="17.4" fill="#cbcde4" stroke="none" stroke-width="1"/>
<rect x="1308.2" y="364.5" width="14.8" height="17.4" fill="#dcdeee" stroke="none" stroke-width="1"/>
<text x="1327.1" y="376.5" font-size="12" fill="#333">DUSP5</text>
<rect x="1026" y="381.9" width="14.8" height="17.4" fill="#ececf4" stroke="none" stroke-width="1"/>
<rect x="1040.8" y="381.9" width="14.8" height="17.4" fill="#cbcde4" stroke="none" stroke-width="1"/>
<rect x="1055.7" y="381.9" width="14.8" height="17.4" fill="#cbcde4" stroke="none" stroke-width="1"/>
<rect x="1070.5" y="381.9" width="14.8" height="17.4" fill="#cbcde4" stroke="none" stroke-width="1"/>
<rect x="1085.4" y="381.9" width="14.8" height="17.4" fill="#dcdeee" stroke="none" stroke-width="1"/>
<rect x="1100.2" y="381.9" width="14.8" height="17.4" fill="#cbcde4" stroke="none" stroke-width="1"/>
<rect x="1115.1" y="381.9" width="14.8" height="17.4" fill="#cbcde4" stroke="none" stroke-width="1"/>
<rect x="1130" y="381.9" width="14.8" height="17.4" fill="#cbcde4" stroke="none" stroke-width="1"/>
<rect x="1144.8" y="381.9" width="14.8" height="17.4" fill="#cbcde4" stroke="none" stroke-width="1"/>
<rect x="1159.7" y="381.9" width="14.8" height="17.4" fill="#cbcde4" stroke="none" stroke-width="1"/>
<rect x="1174.5" y="381.9" width="14.8" height="17.4" fill="#c9453f" stroke="none" stroke-width="1"/>
<rect x="1189.3" y="381.9" width="14.8" height="17.4" fill="#eec4c2" stroke="none" stroke-width="1"/>
<rect x="1204.2" y="381.9" width="14.8" height="17.4" fill="#e8aca9" stroke="none" stroke-width="1"/>
<rect x="1219" y="381.9" width="14.8" height="17.4" fill="#f8ebeb" stroke="none" stroke-width="1"/>
<rect x="1233.9" y="381.9" width="14.8" height="17.4" fill="#e8aca9" stroke="none" stroke-width="1"/>
<rect x="1248.8" y="381.9" width="14.8" height="17.4" fill="#cbcde4" stroke="none" stroke-width="1"/>
<rect x="1263.6" y="381.9" width="14.8" height="17.4" fill="#cbcde4" stroke="none" stroke-width="1"/>
<rect x="1278.5" y="381.9" width="14.8" height="17.4" fill="#dcdeee" stroke="none" stroke-width="1"/>
<rect x="1293.3" y="381.9" width="14.8" height="17.4" fill="#cbcde4" stroke="none" stroke-width="1"/>
<rect x="1308.2" y="381.9" width="14.8" height="17.4" fill="#dcdeee" stroke="none" stroke-width="1"/>
<text x="1327.1" y="394.1" font-size="12" font-weight="bold" fill="#4b5cb2">CCL4</text>
<rect x="1026" y="399.4" width="14.8" height="17.4" fill="#ececf4" stroke="none" stroke-width="1"/>
<rect x="1040.8" y="399.4" width="14.8" height="17.4" fill="#cbcde4" stroke="none" stroke-width="1"/>
<rect x="1055.7" y="399.4" width="14.8" height="17.4" fill="#dcdeee" stroke="none" stroke-width="1"/>
<rect x="1070.5" y="399.4" width="14.8" height="17.4" fill="#cbcde4" stroke="none" stroke-width="1"/>
<rect x="1085.4" y="399.4" width="14.8" height="17.4" fill="#dcdeee" stroke="none" stroke-width="1"/>
<rect x="1100.2" y="399.4" width="14.8" height="17.4" fill="#cbcde4" stroke="none" stroke-width="1"/>
<rect x="1115.1" y="399.4" width="14.8" height="17.4" fill="#cbcde4" stroke="none" stroke-width="1"/>
<rect x="1130" y="399.4" width="14.8" height="17.4" fill="#cbcde4" stroke="none" stroke-width="1"/>
<rect x="1144.8" y="399.4" width="14.8" height="17.4" fill="#cbcde4" stroke="none" stroke-width="1"/>
<rect x="1159.7" y="399.4" width="14.8" height="17.4" fill="#cbcde4" stroke="none" stroke-width="1"/>
<rect x="1174.5" y="399.4" width="14.8" height="17.4" fill="#d97672" stroke="none" stroke-width="1"/>
<rect x="1189.3" y="399.4" width="14.8" height="17.4" fill="#eec4c2" stroke="none" stroke-width="1"/>
<rect x="1204.2" y="399.4" width="14.8" height="17.4" fill="#e09592" stroke="none" stroke-width="1"/>
<rect x="1219" y="399.4" width="14.8" height="17.4" fill="#f3f2f8" stroke="none" stroke-width="1"/>
<rect x="1233.9" y="399.4" width="14.8" height="17.4" fill="#e09592" stroke="none" stroke-width="1"/>
<rect x="1248.8" y="399.4" width="14.8" height="17.4" fill="#cbcde4" stroke="none" stroke-width="1"/>
<rect x="1263.6" y="399.4" width="14.8" height="17.4" fill="#cbcde4" stroke="none" stroke-width="1"/>
<rect x="1278.5" y="399.4" width="14.8" height="17.4" fill="#cbcde4" stroke="none" stroke-width="1"/>
<rect x="1293.3" y="399.4" width="14.8" height="17.4" fill="#cbcde4" stroke="none" stroke-width="1"/>
<rect x="1308.2" y="399.4" width="14.8" height="17.4" fill="#cbcde4" stroke="none" stroke-width="1"/>
<text x="1327.1" y="411.7" font-size="12" font-weight="bold" fill="#4b5cb2">CCL3</text>
<rect x="1026" y="416.8" width="14.8" height="17.4" fill="#cbcde4" stroke="none" stroke-width="1"/>
<rect x="1040.8" y="416.8" width="14.8" height="17.4" fill="#babddd" stroke="none" stroke-width="1"/>
<rect x="1055.7" y="416.8" width="14.8" height="17.4" fill="#dcdeee" stroke="none" stroke-width="1"/>
<rect x="1070.5" y="416.8" width="14.8" height="17.4" fill="#cbcde4" stroke="none" stroke-width="1"/>
<rect x="1085.4" y="416.8" width="14.8" height="17.4" fill="#f8ebeb" stroke="none" stroke-width="1"/>
<rect x="1100.2" y="416.8" width="14.8" height="17.4" fill="#babddd" stroke="none" stroke-width="1"/>
<rect x="1115.1" y="416.8" width="14.8" height="17.4" fill="#babddd" stroke="none" stroke-width="1"/>
<rect x="1130" y="416.8" width="14.8" height="17.4" fill="#dcdeee" stroke="none" stroke-width="1"/>
<rect x="1144.8" y="416.8" width="14.8" height="17.4" fill="#babddd" stroke="none" stroke-width="1"/>
<rect x="1159.7" y="416.8" width="14.8" height="17.4" fill="#cbcde4" stroke="none" stroke-width="1"/>
<rect x="1174.5" y="416.8" width="14.8" height="17.4" fill="#ce5753" stroke="none" stroke-width="1"/>
<rect x="1189.3" y="416.8" width="14.8" height="17.4" fill="#f8ebeb" stroke="none" stroke-width="1"/>
<rect x="1204.2" y="416.8" width="14.8" height="17.4" fill="#e8aca9" stroke="none" stroke-width="1"/>
<rect x="1219" y="416.8" width="14.8" height="17.4" fill="#dcdeee" stroke="none" stroke-width="1"/>
<rect x="1233.9" y="416.8" width="14.8" height="17.4" fill="#e8aca9" stroke="none" stroke-width="1"/>
<rect x="1248.8" y="416.8" width="14.8" height="17.4" fill="#dcdeee" stroke="none" stroke-width="1"/>
<rect x="1263.6" y="416.8" width="14.8" height="17.4" fill="#cbcde4" stroke="none" stroke-width="1"/>
<rect x="1278.5" y="416.8" width="14.8" height="17.4" fill="#dcdeee" stroke="none" stroke-width="1"/>
<rect x="1293.3" y="416.8" width="14.8" height="17.4" fill="#babddd" stroke="none" stroke-width="1"/>
<rect x="1308.2" y="416.8" width="14.8" height="17.4" fill="#dcdeee" stroke="none" stroke-width="1"/>
<text x="1327.1" y="429.2" font-size="12" fill="#333">NKG7</text>
<rect x="1026" y="434.2" width="14.8" height="17.4" fill="#dcdeee" stroke="none" stroke-width="1"/>
<rect x="1040.8" y="434.2" width="14.8" height="17.4" fill="#dcdeee" stroke="none" stroke-width="1"/>
<rect x="1055.7" y="434.2" width="14.8" height="17.4" fill="#ececf4" stroke="none" stroke-width="1"/>
<rect x="1070.5" y="434.2" width="14.8" height="17.4" fill="#dcdeee" stroke="none" stroke-width="1"/>
<rect x="1085.4" y="434.2" width="14.8" height="17.4" fill="#fdfcfd" stroke="none" stroke-width="1"/>
<rect x="1100.2" y="434.2" width="14.8" height="17.4" fill="#cbcde4" stroke="none" stroke-width="1"/>
<rect x="1115.1" y="434.2" width="14.8" height="17.4" fill="#dcdeee" stroke="none" stroke-width="1"/>
<rect x="1130" y="434.2" width="14.8" height="17.4" fill="#cbcde4" stroke="none" stroke-width="1"/>
<rect x="1144.8" y="434.2" width="14.8" height="17.4" fill="#dcdeee" stroke="none" stroke-width="1"/>
<rect x="1159.7" y="434.2" width="14.8" height="17.4" fill="#dcdeee" stroke="none" stroke-width="1"/>
<rect x="1174.5" y="434.2" width="14.8" height="17.4" fill="#c9453f" stroke="none" stroke-width="1"/>
<rect x="1189.3" y="434.2" width="14.8" height="17.4" fill="#f5f2f6" stroke="none" stroke-width="1"/>
<rect x="1204.2" y="434.2" width="14.8" height="17.4" fill="#eec4c2" stroke="none" stroke-width="1"/>
<rect x="1219" y="434.2" width="14.8" height="17.4" fill="#dcdeee" stroke="none" stroke-width="1"/>
<rect x="1233.9" y="434.2" width="14.8" height="17.4" fill="#eec4c2" stroke="none" stroke-width="1"/>
<rect x="1248.8" y="434.2" width="14.8" height="17.4" fill="#ececf4" stroke="none" stroke-width="1"/>
<rect x="1263.6" y="434.2" width="14.8" height="17.4" fill="#dcdeee" stroke="none" stroke-width="1"/>
<rect x="1278.5" y="434.2" width="14.8" height="17.4" fill="#cbcde4" stroke="none" stroke-width="1"/>
<rect x="1293.3" y="434.2" width="14.8" height="17.4" fill="#dcdeee" stroke="none" stroke-width="1"/>
<rect x="1308.2" y="434.2" width="14.8" height="17.4" fill="#dcdeee" stroke="none" stroke-width="1"/>
<text x="1327.1" y="446.8" font-size="12" fill="#333">GNLY</text>
<rect x="1026" y="451.7" width="14.8" height="17.4" fill="#f4dcdc" stroke="none" stroke-width="1"/>
<rect x="1040.8" y="451.7" width="14.8" height="17.4" fill="#f4dcdc" stroke="none" stroke-width="1"/>
<rect x="1055.7" y="451.7" width="14.8" height="17.4" fill="#dcdeee" stroke="none" stroke-width="1"/>
<rect x="1070.5" y="451.7" width="14.8" height="17.4" fill="#e8aca9" stroke="none" stroke-width="1"/>
<rect x="1085.4" y="451.7" width="14.8" height="17.4" fill="#e09592" stroke="none" stroke-width="1"/>
<rect x="1100.2" y="451.7" width="14.8" height="17.4" fill="#cbcde4" stroke="none" stroke-width="1"/>
<rect x="1115.1" y="451.7" width="14.8" height="17.4" fill="#cbcde4" stroke="none" stroke-width="1"/>
<rect x="1130" y="451.7" width="14.8" height="17.4" fill="#cbcde4" stroke="none" stroke-width="1"/>
<rect x="1144.8" y="451.7" width="14.8" height="17.4" fill="#cbcde4" stroke="none" stroke-width="1"/>
<rect x="1159.7" y="451.7" width="14.8" height="17.4" fill="#cbcde4" stroke="none" stroke-width="1"/>
<rect x="1174.5" y="451.7" width="14.8" height="17.4" fill="#d97672" stroke="none" stroke-width="1"/>
<rect x="1189.3" y="451.7" width="14.8" height="17.4" fill="#f8ebeb" stroke="none" stroke-width="1"/>
<rect x="1204.2" y="451.7" width="14.8" height="17.4" fill="#eec4c2" stroke="none" stroke-width="1"/>
<rect x="1219" y="451.7" width="14.8" height="17.4" fill="#e8aca9" stroke="none" stroke-width="1"/>
<rect x="1233.9" y="451.7" width="14.8" height="17.4" fill="#e09592" stroke="none" stroke-width="1"/>
<rect x="1248.8" y="451.7" width="14.8" height="17.4" fill="#cbcde4" stroke="none" stroke-width="1"/>
<rect x="1263.6" y="451.7" width="14.8" height="17.4" fill="#cbcde4" stroke="none" stroke-width="1"/>
<rect x="1278.5" y="451.7" width="14.8" height="17.4" fill="#cbcde4" stroke="none" stroke-width="1"/>
<rect x="1293.3" y="451.7" width="14.8" height="17.4" fill="#cbcde4" stroke="none" stroke-width="1"/>
<rect x="1308.2" y="451.7" width="14.8" height="17.4" fill="#cbcde4" stroke="none" stroke-width="1"/>
<text x="1327.1" y="464.4" font-size="12" font-weight="bold" fill="#4b5cb2">CD38</text>
<rect x="1026" y="469.1" width="14.8" height="17.4" fill="#eec4c2" stroke="none" stroke-width="1"/>
<rect x="1040.8" y="469.1" width="14.8" height="17.4" fill="#f4dcdc" stroke="none" stroke-width="1"/>
<rect x="1055.7" y="469.1" width="14.8" height="17.4" fill="#dcdeee" stroke="none" stroke-width="1"/>
<rect x="1070.5" y="469.1" width="14.8" height="17.4" fill="#dcdeee" stroke="none" stroke-width="1"/>
<rect x="1085.4" y="469.1" width="14.8" height="17.4" fill="#d97672" stroke="none" stroke-width="1"/>
<rect x="1100.2" y="469.1" width="14.8" height="17.4" fill="#cbcde4" stroke="none" stroke-width="1"/>
<rect x="1115.1" y="469.1" width="14.8" height="17.4" fill="#babddd" stroke="none" stroke-width="1"/>
<rect x="1130" y="469.1" width="14.8" height="17.4" fill="#babddd" stroke="none" stroke-width="1"/>
<rect x="1144.8" y="469.1" width="14.8" height="17.4" fill="#cbcde4" stroke="none" stroke-width="1"/>
<rect x="1159.7" y="469.1" width="14.8" height="17.4" fill="#babddd" stroke="none" stroke-width="1"/>
<rect x="1174.5" y="469.1" width="14.8" height="17.4" fill="#e09592" stroke="none" stroke-width="1"/>
<rect x="1189.3" y="469.1" width="14.8" height="17.4" fill="#f4dcdc" stroke="none" stroke-width="1"/>
<rect x="1204.2" y="469.1" width="14.8" height="17.4" fill="#e8aca9" stroke="none" stroke-width="1"/>
<rect x="1219" y="469.1" width="14.8" height="17.4" fill="#e09592" stroke="none" stroke-width="1"/>
<rect x="1233.9" y="469.1" width="14.8" height="17.4" fill="#e09592" stroke="none" stroke-width="1"/>
<rect x="1248.8" y="469.1" width="14.8" height="17.4" fill="#cbcde4" stroke="none" stroke-width="1"/>
<rect x="1263.6" y="469.1" width="14.8" height="17.4" fill="#ececf4" stroke="none" stroke-width="1"/>
<rect x="1278.5" y="469.1" width="14.8" height="17.4" fill="#cbcde4" stroke="none" stroke-width="1"/>
<rect x="1293.3" y="469.1" width="14.8" height="17.4" fill="#cbcde4" stroke="none" stroke-width="1"/>
<rect x="1308.2" y="469.1" width="14.8" height="17.4" fill="#babddd" stroke="none" stroke-width="1"/>
<text x="1327.1" y="482" font-size="12" fill="#333">CDK6</text>
<rect x="1026" y="486.6" width="14.8" height="17.4" fill="#d97672" stroke="none" stroke-width="1"/>
<rect x="1040.8" y="486.6" width="14.8" height="17.4" fill="#dcdeee" stroke="none" stroke-width="1"/>
<rect x="1055.7" y="486.6" width="14.8" height="17.4" fill="#f4dcdc" stroke="none" stroke-width="1"/>
<rect x="1070.5" y="486.6" width="14.8" height="17.4" fill="#dcdeee" stroke="none" stroke-width="1"/>
<rect x="1085.4" y="486.6" width="14.8" height="17.4" fill="#d97672" stroke="none" stroke-width="1"/>
<rect x="1100.2" y="486.6" width="14.8" height="17.4" fill="#dcdeee" stroke="none" stroke-width="1"/>
<rect x="1115.1" y="486.6" width="14.8" height="17.4" fill="#cbcde4" stroke="none" stroke-width="1"/>
<rect x="1130" y="486.6" width="14.8" height="17.4" fill="#cbcde4" stroke="none" stroke-width="1"/>
<rect x="1144.8" y="486.6" width="14.8" height="17.4" fill="#cbcde4" stroke="none" stroke-width="1"/>
<rect x="1159.7" y="486.6" width="14.8" height="17.4" fill="#dcdeee" stroke="none" stroke-width="1"/>
<rect x="1174.5" y="486.6" width="14.8" height="17.4" fill="#d97672" stroke="none" stroke-width="1"/>
<rect x="1189.3" y="486.6" width="14.8" height="17.4" fill="#cbcde4" stroke="none" stroke-width="1"/>
<rect x="1204.2" y="486.6" width="14.8" height="17.4" fill="#e8aca9" stroke="none" stroke-width="1"/>
<rect x="1219" y="486.6" width="14.8" height="17.4" fill="#f8ebeb" stroke="none" stroke-width="1"/>
<rect x="1233.9" y="486.6" width="14.8" height="17.4" fill="#e09592" stroke="none" stroke-width="1"/>
<rect x="1248.8" y="486.6" width="14.8" height="17.4" fill="#cbcde4" stroke="none" stroke-width="1"/>
<rect x="1263.6" y="486.6" width="14.8" height="17.4" fill="#cbcde4" stroke="none" stroke-width="1"/>
<rect x="1278.5" y="486.6" width="14.8" height="17.4" fill="#cbcde4" stroke="none" stroke-width="1"/>
<rect x="1293.3" y="486.6" width="14.8" height="17.4" fill="#cbcde4" stroke="none" stroke-width="1"/>
<rect x="1308.2" y="486.6" width="14.8" height="17.4" fill="#dcdeee" stroke="none" stroke-width="1"/>
<text x="1327.1" y="499.6" font-size="12" fill="#333">ENTPD1</text>
<rect x="1026" y="504" width="14.8" height="17.4" fill="#f4dcdc" stroke="none" stroke-width="1"/>
<rect x="1040.8" y="504" width="14.8" height="17.4" fill="#ececf4" stroke="none" stroke-width="1"/>
<rect x="1055.7" y="504" width="14.8" height="17.4" fill="#fdfcfd" stroke="none" stroke-width="1"/>
<rect x="1070.5" y="504" width="14.8" height="17.4" fill="#dcdeee" stroke="none" stroke-width="1"/>
<rect x="1085.4" y="504" width="14.8" height="17.4" fill="#eec4c2" stroke="none" stroke-width="1"/>
<rect x="1100.2" y="504" width="14.8" height="17.4" fill="#dcdeee" stroke="none" stroke-width="1"/>
<rect x="1115.1" y="504" width="14.8" height="17.4" fill="#cbcde4" stroke="none" stroke-width="1"/>
<rect x="1130" y="504" width="14.8" height="17.4" fill="#cbcde4" stroke="none" stroke-width="1"/>
<rect x="1144.8" y="504" width="14.8" height="17.4" fill="#babddd" stroke="none" stroke-width="1"/>
<rect x="1159.7" y="504" width="14.8" height="17.4" fill="#cbcde4" stroke="none" stroke-width="1"/>
<rect x="1174.5" y="504" width="14.8" height="17.4" fill="#e09592" stroke="none" stroke-width="1"/>
<rect x="1189.3" y="504" width="14.8" height="17.4" fill="#ececf4" stroke="none" stroke-width="1"/>
<rect x="1204.2" y="504" width="14.8" height="17.4" fill="#eec4c2" stroke="none" stroke-width="1"/>
<rect x="1219" y="504" width="14.8" height="17.4" fill="#f5f2f6" stroke="none" stroke-width="1"/>
<rect x="1233.9" y="504" width="14.8" height="17.4" fill="#d97672" stroke="none" stroke-width="1"/>
<rect x="1248.8" y="504" width="14.8" height="17.4" fill="#dcdeee" stroke="none" stroke-width="1"/>
<rect x="1263.6" y="504" width="14.8" height="17.4" fill="#cbcde4" stroke="none" stroke-width="1"/>
<rect x="1278.5" y="504" width="14.8" height="17.4" fill="#dcdeee" stroke="none" stroke-width="1"/>
<rect x="1293.3" y="504" width="14.8" height="17.4" fill="#cbcde4" stroke="none" stroke-width="1"/>
<rect x="1308.2" y="504" width="14.8" height="17.4" fill="#dcdeee" stroke="none" stroke-width="1"/>
<text x="1327.1" y="517.2" font-size="12" font-weight="bold" fill="#4b5cb2">CTLA4</text>
<rect x="1026" y="521.4" width="14.8" height="17.4" fill="#dcdeee" stroke="none" stroke-width="1"/>
<rect x="1040.8" y="521.4" width="14.8" height="17.4" fill="#cbcde4" stroke="none" stroke-width="1"/>
<rect x="1055.7" y="521.4" width="14.8" height="17.4" fill="#dcdeee" stroke="none" stroke-width="1"/>
<rect x="1070.5" y="521.4" width="14.8" height="17.4" fill="#cbcde4" stroke="none" stroke-width="1"/>
<rect x="1085.4" y="521.4" width="14.8" height="17.4" fill="#f5f2f6" stroke="none" stroke-width="1"/>
<rect x="1100.2" y="521.4" width="14.8" height="17.4" fill="#dcdeee" stroke="none" stroke-width="1"/>
<rect x="1115.1" y="521.4" width="14.8" height="17.4" fill="#dcdeee" stroke="none" stroke-width="1"/>
<rect x="1130" y="521.4" width="14.8" height="17.4" fill="#dcdeee" stroke="none" stroke-width="1"/>
<rect x="1144.8" y="521.4" width="14.8" height="17.4" fill="#cbcde4" stroke="none" stroke-width="1"/>
<rect x="1159.7" y="521.4" width="14.8" height="17.4" fill="#dcdeee" stroke="none" stroke-width="1"/>
<rect x="1174.5" y="521.4" width="14.8" height="17.4" fill="#f5f2f6" stroke="none" stroke-width="1"/>
<rect x="1189.3" y="521.4" width="14.8" height="17.4" fill="#ececf4" stroke="none" stroke-width="1"/>
<rect x="1204.2" y="521.4" width="14.8" height="17.4" fill="#ce5753" stroke="none" stroke-width="1"/>
<rect x="1219" y="521.4" width="14.8" height="17.4" fill="#f8ebeb" stroke="none" stroke-width="1"/>
<rect x="1233.9" y="521.4" width="14.8" height="17.4" fill="#e09592" stroke="none" stroke-width="1"/>
<rect x="1248.8" y="521.4" width="14.8" height="17.4" fill="#cbcde4" stroke="none" stroke-width="1"/>
<rect x="1263.6" y="521.4" width="14.8" height="17.4" fill="#cbcde4" stroke="none" stroke-width="1"/>
<rect x="1278.5" y="521.4" width="14.8" height="17.4" fill="#cbcde4" stroke="none" stroke-width="1"/>
<rect x="1293.3" y="521.4" width="14.8" height="17.4" fill="#cbcde4" stroke="none" stroke-width="1"/>
<rect x="1308.2" y="521.4" width="14.8" height="17.4" fill="#dcdeee" stroke="none" stroke-width="1"/>
<text x="1327.1" y="534.8" font-size="12" fill="#333">CSF1</text>
<rect x="1026" y="538.9" width="14.8" height="17.4" fill="#dcdeee" stroke="none" stroke-width="1"/>
<rect x="1040.8" y="538.9" width="14.8" height="17.4" fill="#f8ebeb" stroke="none" stroke-width="1"/>
<rect x="1055.7" y="538.9" width="14.8" height="17.4" fill="#dcdeee" stroke="none" stroke-width="1"/>
<rect x="1070.5" y="538.9" width="14.8" height="17.4" fill="#dcdeee" stroke="none" stroke-width="1"/>
<rect x="1085.4" y="538.9" width="14.8" height="17.4" fill="#f8ebeb" stroke="none" stroke-width="1"/>
<rect x="1100.2" y="538.9" width="14.8" height="17.4" fill="#cbcde4" stroke="none" stroke-width="1"/>
<rect x="1115.1" y="538.9" width="14.8" height="17.4" fill="#cbcde4" stroke="none" stroke-width="1"/>
<rect x="1130" y="538.9" width="14.8" height="17.4" fill="#dcdeee" stroke="none" stroke-width="1"/>
<rect x="1144.8" y="538.9" width="14.8" height="17.4" fill="#dcdeee" stroke="none" stroke-width="1"/>
<rect x="1159.7" y="538.9" width="14.8" height="17.4" fill="#cbcde4" stroke="none" stroke-width="1"/>
<rect x="1174.5" y="538.9" width="14.8" height="17.4" fill="#f4dcdc" stroke="none" stroke-width="1"/>
<rect x="1189.3" y="538.9" width="14.8" height="17.4" fill="#ce5753" stroke="none" stroke-width="1"/>
<rect x="1204.2" y="538.9" width="14.8" height="17.4" fill="#f4dcdc" stroke="none" stroke-width="1"/>
<rect x="1219" y="538.9" width="14.8" height="17.4" fill="#d97672" stroke="none" stroke-width="1"/>
<rect x="1233.9" y="538.9" width="14.8" height="17.4" fill="#fdfcfd" stroke="none" stroke-width="1"/>
<rect x="1248.8" y="538.9" width="14.8" height="17.4" fill="#cbcde4" stroke="none" stroke-width="1"/>
<rect x="1263.6" y="538.9" width="14.8" height="17.4" fill="#dcdeee" stroke="none" stroke-width="1"/>
<rect x="1278.5" y="538.9" width="14.8" height="17.4" fill="#cbcde4" stroke="none" stroke-width="1"/>
<rect x="1293.3" y="538.9" width="14.8" height="17.4" fill="#cbcde4" stroke="none" stroke-width="1"/>
<rect x="1308.2" y="538.9" width="14.8" height="17.4" fill="#dcdeee" stroke="none" stroke-width="1"/>
<text x="1327.1" y="552.4" font-size="12" fill="#333">WARS</text>
<rect x="1026" y="556.3" width="14.8" height="17.4" fill="#babddd" stroke="none" stroke-width="1"/>
<rect x="1040.8" y="556.3" width="14.8" height="17.4" fill="#cbcde4" stroke="none" stroke-width="1"/>
<rect x="1055.7" y="556.3" width="14.8" height="17.4" fill="#dcdeee" stroke="none" stroke-width="1"/>
<rect x="1070.5" y="556.3" width="14.8" height="17.4" fill="#babddd" stroke="none" stroke-width="1"/>
<rect x="1085.4" y="556.3" width="14.8" height="17.4" fill="#f4dcdc" stroke="none" stroke-width="1"/>
<rect x="1100.2" y="556.3" width="14.8" height="17.4" fill="#babddd" stroke="none" stroke-width="1"/>
<rect x="1115.1" y="556.3" width="14.8" height="17.4" fill="#cbcde4" stroke="none" stroke-width="1"/>
<rect x="1130" y="556.3" width="14.8" height="17.4" fill="#cbcde4" stroke="none" stroke-width="1"/>
<rect x="1144.8" y="556.3" width="14.8" height="17.4" fill="#babddd" stroke="none" stroke-width="1"/>
<rect x="1159.7" y="556.3" width="14.8" height="17.4" fill="#cbcde4" stroke="none" stroke-width="1"/>
<rect x="1174.5" y="556.3" width="14.8" height="17.4" fill="#f4dcdc" stroke="none" stroke-width="1"/>
<rect x="1189.3" y="556.3" width="14.8" height="17.4" fill="#eec4c2" stroke="none" stroke-width="1"/>
<rect x="1204.2" y="556.3" width="14.8" height="17.4" fill="#eec4c2" stroke="none" stroke-width="1"/>
<rect x="1219" y="556.3" width="14.8" height="17.4" fill="#d97672" stroke="none" stroke-width="1"/>
<rect x="1233.9" y="556.3" width="14.8" height="17.4" fill="#e8aca9" stroke="none" stroke-width="1"/>
<rect x="1248.8" y="556.3" width="14.8" height="17.4" fill="#cbcde4" stroke="none" stroke-width="1"/>
<rect x="1263.6" y="556.3" width="14.8" height="17.4" fill="#dcdeee" stroke="none" stroke-width="1"/>
<rect x="1278.5" y="556.3" width="14.8" height="17.4" fill="#babddd" stroke="none" stroke-width="1"/>
<rect x="1293.3" y="556.3" width="14.8" height="17.4" fill="#babddd" stroke="none" stroke-width="1"/>
<rect x="1308.2" y="556.3" width="14.8" height="17.4" fill="#cbcde4" stroke="none" stroke-width="1"/>
<text x="1327.1" y="570" font-size="12" fill="#333">EPAS1</text>
<rect x="1026" y="573.8" width="14.8" height="17.4" fill="#dcdeee" stroke="none" stroke-width="1"/>
<rect x="1040.8" y="573.8" width="14.8" height="17.4" fill="#f5f2f6" stroke="none" stroke-width="1"/>
<rect x="1055.7" y="573.8" width="14.8" height="17.4" fill="#dcdeee" stroke="none" stroke-width="1"/>
<rect x="1070.5" y="573.8" width="14.8" height="17.4" fill="#cbcde4" stroke="none" stroke-width="1"/>
<rect x="1085.4" y="573.8" width="14.8" height="17.4" fill="#f4dcdc" stroke="none" stroke-width="1"/>
<rect x="1100.2" y="573.8" width="14.8" height="17.4" fill="#cbcde4" stroke="none" stroke-width="1"/>
<rect x="1115.1" y="573.8" width="14.8" height="17.4" fill="#cbcde4" stroke="none" stroke-width="1"/>
<rect x="1130" y="573.8" width="14.8" height="17.4" fill="#cbcde4" stroke="none" stroke-width="1"/>
<rect x="1144.8" y="573.8" width="14.8" height="17.4" fill="#cbcde4" stroke="none" stroke-width="1"/>
<rect x="1159.7" y="573.8" width="14.8" height="17.4" fill="#cbcde4" stroke="none" stroke-width="1"/>
<rect x="1174.5" y="573.8" width="14.8" height="17.4" fill="#f4dcdc" stroke="none" stroke-width="1"/>
<rect x="1189.3" y="573.8" width="14.8" height="17.4" fill="#eec4c2" stroke="none" stroke-width="1"/>
<rect x="1204.2" y="573.8" width="14.8" height="17.4" fill="#eec4c2" stroke="none" stroke-width="1"/>
<rect x="1219" y="573.8" width="14.8" height="17.4" fill="#c9453f" stroke="none" stroke-width="1"/>
<rect x="1233.9" y="573.8" width="14.8" height="17.4" fill="#e8aca9" stroke="none" stroke-width="1"/>
<rect x="1248.8" y="573.8" width="14.8" height="17.4" fill="#cbcde4" stroke="none" stroke-width="1"/>
<rect x="1263.6" y="573.8" width="14.8" height="17.4" fill="#dcdeee" stroke="none" stroke-width="1"/>
<rect x="1278.5" y="573.8" width="14.8" height="17.4" fill="#cbcde4" stroke="none" stroke-width="1"/>
<rect x="1293.3" y="573.8" width="14.8" height="17.4" fill="#cbcde4" stroke="none" stroke-width="1"/>
<rect x="1308.2" y="573.8" width="14.8" height="17.4" fill="#dcdeee" stroke="none" stroke-width="1"/>
<text x="1327.1" y="587.6" font-size="12" fill="#333">ZBED2</text>
<rect x="1026" y="591.2" width="14.8" height="17.4" fill="#fdfcfd" stroke="none" stroke-width="1"/>
<rect x="1040.8" y="591.2" width="14.8" height="17.4" fill="#ececf4" stroke="none" stroke-width="1"/>
<rect x="1055.7" y="591.2" width="14.8" height="17.4" fill="#dcdeee" stroke="none" stroke-width="1"/>
<rect x="1070.5" y="591.2" width="14.8" height="17.4" fill="#f4dcdc" stroke="none" stroke-width="1"/>
<rect x="1085.4" y="591.2" width="14.8" height="17.4" fill="#f5f2f6" stroke="none" stroke-width="1"/>
<rect x="1100.2" y="591.2" width="14.8" height="17.4" fill="#babddd" stroke="none" stroke-width="1"/>
<rect x="1115.1" y="591.2" width="14.8" height="17.4" fill="#cbcde4" stroke="none" stroke-width="1"/>
<rect x="1130" y="591.2" width="14.8" height="17.4" fill="#cbcde4" stroke="none" stroke-width="1"/>
<rect x="1144.8" y="591.2" width="14.8" height="17.4" fill="#cbcde4" stroke="none" stroke-width="1"/>
<rect x="1159.7" y="591.2" width="14.8" height="17.4" fill="#cbcde4" stroke="none" stroke-width="1"/>
<rect x="1174.5" y="591.2" width="14.8" height="17.4" fill="#fdfcfd" stroke="none" stroke-width="1"/>
<rect x="1189.3" y="591.2" width="14.8" height="17.4" fill="#eec4c2" stroke="none" stroke-width="1"/>
<rect x="1204.2" y="591.2" width="14.8" height="17.4" fill="#e09592" stroke="none" stroke-width="1"/>
<rect x="1219" y="591.2" width="14.8" height="17.4" fill="#d97672" stroke="none" stroke-width="1"/>
<rect x="1233.9" y="591.2" width="14.8" height="17.4" fill="#e09592" stroke="none" stroke-width="1"/>
<rect x="1248.8" y="591.2" width="14.8" height="17.4" fill="#cbcde4" stroke="none" stroke-width="1"/>
<rect x="1263.6" y="591.2" width="14.8" height="17.4" fill="#dcdeee" stroke="none" stroke-width="1"/>
<rect x="1278.5" y="591.2" width="14.8" height="17.4" fill="#dcdeee" stroke="none" stroke-width="1"/>
<rect x="1293.3" y="591.2" width="14.8" height="17.4" fill="#cbcde4" stroke="none" stroke-width="1"/>
<rect x="1308.2" y="591.2" width="14.8" height="17.4" fill="#cbcde4" stroke="none" stroke-width="1"/>
<text x="1327.1" y="605.2" font-size="12" fill="#333">UCP2</text>
<rect x="1026" y="608.6" width="14.8" height="17.4" fill="#f4dcdc" stroke="none" stroke-width="1"/>
<rect x="1040.8" y="608.6" width="14.8" height="17.4" fill="#eec4c2" stroke="none" stroke-width="1"/>
<rect x="1055.7" y="608.6" width="14.8" height="17.4" fill="#ececf4" stroke="none" stroke-width="1"/>
<rect x="1070.5" y="608.6" width="14.8" height="17.4" fill="#ececf4" stroke="none" stroke-width="1"/>
<rect x="1085.4" y="608.6" width="14.8" height="17.4" fill="#f4dcdc" stroke="none" stroke-width="1"/>
<rect x="1100.2" y="608.6" width="14.8" height="17.4" fill="#dcdeee" stroke="none" stroke-width="1"/>
<rect x="1115.1" y="608.6" width="14.8" height="17.4" fill="#cbcde4" stroke="none" stroke-width="1"/>
<rect x="1130" y="608.6" width="14.8" height="17.4" fill="#cbcde4" stroke="none" stroke-width="1"/>
<rect x="1144.8" y="608.6" width="14.8" height="17.4" fill="#cbcde4" stroke="none" stroke-width="1"/>
<rect x="1159.7" y="608.6" width="14.8" height="17.4" fill="#cbcde4" stroke="none" stroke-width="1"/>
<rect x="1174.5" y="608.6" width="14.8" height="17.4" fill="#eec4c2" stroke="none" stroke-width="1"/>
<rect x="1189.3" y="608.6" width="14.8" height="17.4" fill="#e8aca9" stroke="none" stroke-width="1"/>
<rect x="1204.2" y="608.6" width="14.8" height="17.4" fill="#e09592" stroke="none" stroke-width="1"/>
<rect x="1219" y="608.6" width="14.8" height="17.4" fill="#d97672" stroke="none" stroke-width="1"/>
<rect x="1233.9" y="608.6" width="14.8" height="17.4" fill="#e8aca9" stroke="none" stroke-width="1"/>
<rect x="1248.8" y="608.6" width="14.8" height="17.4" fill="#dcdeee" stroke="none" stroke-width="1"/>
<rect x="1263.6" y="608.6" width="14.8" height="17.4" fill="#cbcde4" stroke="none" stroke-width="1"/>
<rect x="1278.5" y="608.6" width="14.8" height="17.4" fill="#dcdeee" stroke="none" stroke-width="1"/>
<rect x="1293.3" y="608.6" width="14.8" height="17.4" fill="#cbcde4" stroke="none" stroke-width="1"/>
<rect x="1308.2" y="608.6" width="14.8" height="17.4" fill="#dcdeee" stroke="none" stroke-width="1"/>
<text x="1327.1" y="622.7" font-size="12" fill="#333">SRGN</text>
<rect x="1026" y="626.1" width="14.8" height="17.4" fill="#f4dcdc" stroke="none" stroke-width="1"/>
<rect x="1040.8" y="626.1" width="14.8" height="17.4" fill="#fdfcfd" stroke="none" stroke-width="1"/>
<rect x="1055.7" y="626.1" width="14.8" height="17.4" fill="#dcdeee" stroke="none" stroke-width="1"/>
<rect x="1070.5" y="626.1" width="14.8" height="17.4" fill="#dcdeee" stroke="none" stroke-width="1"/>
<rect x="1085.4" y="626.1" width="14.8" height="17.4" fill="#eec4c2" stroke="none" stroke-width="1"/>
<rect x="1100.2" y="626.1" width="14.8" height="17.4" fill="#babddd" stroke="none" stroke-width="1"/>
<rect x="1115.1" y="626.1" width="14.8" height="17.4" fill="#cbcde4" stroke="none" stroke-width="1"/>
<rect x="1130" y="626.1" width="14.8" height="17.4" fill="#cbcde4" stroke="none" stroke-width="1"/>
<rect x="1144.8" y="626.1" width="14.8" height="17.4" fill="#babddd" stroke="none" stroke-width="1"/>
<rect x="1159.7" y="626.1" width="14.8" height="17.4" fill="#cbcde4" stroke="none" stroke-width="1"/>
<rect x="1174.5" y="626.1" width="14.8" height="17.4" fill="#e8aca9" stroke="none" stroke-width="1"/>
<rect x="1189.3" y="626.1" width="14.8" height="17.4" fill="#e8aca9" stroke="none" stroke-width="1"/>
<rect x="1204.2" y="626.1" width="14.8" height="17.4" fill="#eec4c2" stroke="none" stroke-width="1"/>
<rect x="1219" y="626.1" width="14.8" height="17.4" fill="#e09592" stroke="none" stroke-width="1"/>
<rect x="1233.9" y="626.1" width="14.8" height="17.4" fill="#e8aca9" stroke="none" stroke-width="1"/>
<rect x="1248.8" y="626.1" width="14.8" height="17.4" fill="#cbcde4" stroke="none" stroke-width="1"/>
<rect x="1263.6" y="626.1" width="14.8" height="17.4" fill="#dcdeee" stroke="none" stroke-width="1"/>
<rect x="1278.5" y="626.1" width="14.8" height="17.4" fill="#babddd" stroke="none" stroke-width="1"/>
<rect x="1293.3" y="626.1" width="14.8" height="17.4" fill="#cbcde4" stroke="none" stroke-width="1"/>
<rect x="1308.2" y="626.1" width="14.8" height="17.4" fill="#cbcde4" stroke="none" stroke-width="1"/>
<text x="1327.1" y="640.3" font-size="12" font-weight="bold" fill="#4b5cb2">TNFRSF4 (OX40)</text>
<rect x="1026" y="643.5" width="14.8" height="17.4" fill="#f4dcdc" stroke="none" stroke-width="1"/>
<rect x="1040.8" y="643.5" width="14.8" height="17.4" fill="#f8ebeb" stroke="none" stroke-width="1"/>
<rect x="1055.7" y="643.5" width="14.8" height="17.4" fill="#dcdeee" stroke="none" stroke-width="1"/>
<rect x="1070.5" y="643.5" width="14.8" height="17.4" fill="#dcdeee" stroke="none" stroke-width="1"/>
<rect x="1085.4" y="643.5" width="14.8" height="17.4" fill="#ececf4" stroke="none" stroke-width="1"/>
<rect x="1100.2" y="643.5" width="14.8" height="17.4" fill="#cbcde4" stroke="none" stroke-width="1"/>
<rect x="1115.1" y="643.5" width="14.8" height="17.4" fill="#cbcde4" stroke="none" stroke-width="1"/>
<rect x="1130" y="643.5" width="14.8" height="17.4" fill="#cbcde4" stroke="none" stroke-width="1"/>
<rect x="1144.8" y="643.5" width="14.8" height="17.4" fill="#cbcde4" stroke="none" stroke-width="1"/>
<rect x="1159.7" y="643.5" width="14.8" height="17.4" fill="#cbcde4" stroke="none" stroke-width="1"/>
<rect x="1174.5" y="643.5" width="14.8" height="17.4" fill="#d97672" stroke="none" stroke-width="1"/>
<rect x="1189.3" y="643.5" width="14.8" height="17.4" fill="#d97672" stroke="none" stroke-width="1"/>
<rect x="1204.2" y="643.5" width="14.8" height="17.4" fill="#e8aca9" stroke="none" stroke-width="1"/>
<rect x="1219" y="643.5" width="14.8" height="17.4" fill="#fdfcfd" stroke="none" stroke-width="1"/>
<rect x="1233.9" y="643.5" width="14.8" height="17.4" fill="#eec4c2" stroke="none" stroke-width="1"/>
<rect x="1248.8" y="643.5" width="14.8" height="17.4" fill="#dcdeee" stroke="none" stroke-width="1"/>
<rect x="1263.6" y="643.5" width="14.8" height="17.4" fill="#dcdeee" stroke="none" stroke-width="1"/>
<rect x="1278.5" y="643.5" width="14.8" height="17.4" fill="#cbcde4" stroke="none" stroke-width="1"/>
<rect x="1293.3" y="643.5" width="14.8" height="17.4" fill="#cbcde4" stroke="none" stroke-width="1"/>
<rect x="1308.2" y="643.5" width="14.8" height="17.4" fill="#cbcde4" stroke="none" stroke-width="1"/>
<text x="1327.1" y="657.9" font-size="12" fill="#333">CSF2</text>
<rect x="1026" y="661" width="14.8" height="17.4" fill="#f8ebeb" stroke="none" stroke-width="1"/>
<rect x="1040.8" y="661" width="14.8" height="17.4" fill="#cbcde4" stroke="none" stroke-width="1"/>
<rect x="1055.7" y="661" width="14.8" height="17.4" fill="#dcdeee" stroke="none" stroke-width="1"/>
<rect x="1070.5" y="661" width="14.8" height="17.4" fill="#cbcde4" stroke="none" stroke-width="1"/>
<rect x="1085.4" y="661" width="14.8" height="17.4" fill="#fdfcfd" stroke="none" stroke-width="1"/>
<rect x="1100.2" y="661" width="14.8" height="17.4" fill="#cbcde4" stroke="none" stroke-width="1"/>
<rect x="1115.1" y="661" width="14.8" height="17.4" fill="#cbcde4" stroke="none" stroke-width="1"/>
<rect x="1130" y="661" width="14.8" height="17.4" fill="#cbcde4" stroke="none" stroke-width="1"/>
<rect x="1144.8" y="661" width="14.8" height="17.4" fill="#cbcde4" stroke="none" stroke-width="1"/>
<rect x="1159.7" y="661" width="14.8" height="17.4" fill="#cbcde4" stroke="none" stroke-width="1"/>
<rect x="1174.5" y="661" width="14.8" height="17.4" fill="#eec4c2" stroke="none" stroke-width="1"/>
<rect x="1189.3" y="661" width="14.8" height="17.4" fill="#ce5753" stroke="none" stroke-width="1"/>
<rect x="1204.2" y="661" width="14.8" height="17.4" fill="#e09592" stroke="none" stroke-width="1"/>
<rect x="1219" y="661" width="14.8" height="17.4" fill="#f4dcdc" stroke="none" stroke-width="1"/>
<rect x="1233.9" y="661" width="14.8" height="17.4" fill="#f8ebeb" stroke="none" stroke-width="1"/>
<rect x="1248.8" y="661" width="14.8" height="17.4" fill="#dcdeee" stroke="none" stroke-width="1"/>
<rect x="1263.6" y="661" width="14.8" height="17.4" fill="#cbcde4" stroke="none" stroke-width="1"/>
<rect x="1278.5" y="661" width="14.8" height="17.4" fill="#cbcde4" stroke="none" stroke-width="1"/>
<rect x="1293.3" y="661" width="14.8" height="17.4" fill="#cbcde4" stroke="none" stroke-width="1"/>
<rect x="1308.2" y="661" width="14.8" height="17.4" fill="#cbcde4" stroke="none" stroke-width="1"/>
<text x="1327.1" y="675.5" font-size="12" fill="#333">RGS16</text>
<rect x="1026" y="678.4" width="14.8" height="17.4" fill="#dcdeee" stroke="none" stroke-width="1"/>
<rect x="1040.8" y="678.4" width="14.8" height="17.4" fill="#cbcde4" stroke="none" stroke-width="1"/>
<rect x="1055.7" y="678.4" width="14.8" height="17.4" fill="#cbcde4" stroke="none" stroke-width="1"/>
<rect x="1070.5" y="678.4" width="14.8" height="17.4" fill="#cbcde4" stroke="none" stroke-width="1"/>
<rect x="1085.4" y="678.4" width="14.8" height="17.4" fill="#ececf4" stroke="none" stroke-width="1"/>
<rect x="1100.2" y="678.4" width="14.8" height="17.4" fill="#cbcde4" stroke="none" stroke-width="1"/>
<rect x="1115.1" y="678.4" width="14.8" height="17.4" fill="#cbcde4" stroke="none" stroke-width="1"/>
<rect x="1130" y="678.4" width="14.8" height="17.4" fill="#cbcde4" stroke="none" stroke-width="1"/>
<rect x="1144.8" y="678.4" width="14.8" height="17.4" fill="#cbcde4" stroke="none" stroke-width="1"/>
<rect x="1159.7" y="678.4" width="14.8" height="17.4" fill="#cbcde4" stroke="none" stroke-width="1"/>
<rect x="1174.5" y="678.4" width="14.8" height="17.4" fill="#eec4c2" stroke="none" stroke-width="1"/>
<rect x="1189.3" y="678.4" width="14.8" height="17.4" fill="#ce5753" stroke="none" stroke-width="1"/>
<rect x="1204.2" y="678.4" width="14.8" height="17.4" fill="#f8ebeb" stroke="none" stroke-width="1"/>
<rect x="1219" y="678.4" width="14.8" height="17.4" fill="#fdfcfd" stroke="none" stroke-width="1"/>
<rect x="1233.9" y="678.4" width="14.8" height="17.4" fill="#f4dcdc" stroke="none" stroke-width="1"/>
<rect x="1248.8" y="678.4" width="14.8" height="17.4" fill="#dcdeee" stroke="none" stroke-width="1"/>
<rect x="1263.6" y="678.4" width="14.8" height="17.4" fill="#dcdeee" stroke="none" stroke-width="1"/>
<rect x="1278.5" y="678.4" width="14.8" height="17.4" fill="#cbcde4" stroke="none" stroke-width="1"/>
<rect x="1293.3" y="678.4" width="14.8" height="17.4" fill="#dcdeee" stroke="none" stroke-width="1"/>
<rect x="1308.2" y="678.4" width="14.8" height="17.4" fill="#cbcde4" stroke="none" stroke-width="1"/>
<text x="1327.1" y="693.1" font-size="12" fill="#333">LTA</text>
<rect x="1026" y="695.8" width="14.8" height="17.4" fill="#ececf4" stroke="none" stroke-width="1"/>
<rect x="1040.8" y="695.8" width="14.8" height="17.4" fill="#f4dcdc" stroke="none" stroke-width="1"/>
<rect x="1055.7" y="695.8" width="14.8" height="17.4" fill="#dcdeee" stroke="none" stroke-width="1"/>
<rect x="1070.5" y="695.8" width="14.8" height="17.4" fill="#dcdeee" stroke="none" stroke-width="1"/>
<rect x="1085.4" y="695.8" width="14.8" height="17.4" fill="#e09592" stroke="none" stroke-width="1"/>
<rect x="1100.2" y="695.8" width="14.8" height="17.4" fill="#babddd" stroke="none" stroke-width="1"/>
<rect x="1115.1" y="695.8" width="14.8" height="17.4" fill="#babddd" stroke="none" stroke-width="1"/>
<rect x="1130" y="695.8" width="14.8" height="17.4" fill="#babddd" stroke="none" stroke-width="1"/>
<rect x="1144.8" y="695.8" width="14.8" height="17.4" fill="#babddd" stroke="none" stroke-width="1"/>
<rect x="1159.7" y="695.8" width="14.8" height="17.4" fill="#cbcde4" stroke="none" stroke-width="1"/>
<rect x="1174.5" y="695.8" width="14.8" height="17.4" fill="#f8ebeb" stroke="none" stroke-width="1"/>
<rect x="1189.3" y="695.8" width="14.8" height="17.4" fill="#e8aca9" stroke="none" stroke-width="1"/>
<rect x="1204.2" y="695.8" width="14.8" height="17.4" fill="#eec4c2" stroke="none" stroke-width="1"/>
<rect x="1219" y="695.8" width="14.8" height="17.4" fill="#f4dcdc" stroke="none" stroke-width="1"/>
<rect x="1233.9" y="695.8" width="14.8" height="17.4" fill="#d97672" stroke="none" stroke-width="1"/>
<rect x="1248.8" y="695.8" width="14.8" height="17.4" fill="#babddd" stroke="none" stroke-width="1"/>
<rect x="1263.6" y="695.8" width="14.8" height="17.4" fill="#cbcde4" stroke="none" stroke-width="1"/>
<rect x="1278.5" y="695.8" width="14.8" height="17.4" fill="#cbcde4" stroke="none" stroke-width="1"/>
<rect x="1293.3" y="695.8" width="14.8" height="17.4" fill="#cbcde4" stroke="none" stroke-width="1"/>
<rect x="1308.2" y="695.8" width="14.8" height="17.4" fill="#cbcde4" stroke="none" stroke-width="1"/>
<text x="1327.1" y="710.7" font-size="12" font-weight="bold" fill="#4b5cb2">IL2RA (CD25)</text>
<rect x="1026" y="713.3" width="14.8" height="17.4" fill="#cbcde4" stroke="none" stroke-width="1"/>
<rect x="1040.8" y="713.3" width="14.8" height="17.4" fill="#cbcde4" stroke="none" stroke-width="1"/>
<rect x="1055.7" y="713.3" width="14.8" height="17.4" fill="#dcdeee" stroke="none" stroke-width="1"/>
<rect x="1070.5" y="713.3" width="14.8" height="17.4" fill="#dcdeee" stroke="none" stroke-width="1"/>
<rect x="1085.4" y="713.3" width="14.8" height="17.4" fill="#f4dcdc" stroke="none" stroke-width="1"/>
<rect x="1100.2" y="713.3" width="14.8" height="17.4" fill="#cbcde4" stroke="none" stroke-width="1"/>
<rect x="1115.1" y="713.3" width="14.8" height="17.4" fill="#cbcde4" stroke="none" stroke-width="1"/>
<rect x="1130" y="713.3" width="14.8" height="17.4" fill="#cbcde4" stroke="none" stroke-width="1"/>
<rect x="1144.8" y="713.3" width="14.8" height="17.4" fill="#cbcde4" stroke="none" stroke-width="1"/>
<rect x="1159.7" y="713.3" width="14.8" height="17.4" fill="#cbcde4" stroke="none" stroke-width="1"/>
<rect x="1174.5" y="713.3" width="14.8" height="17.4" fill="#d97672" stroke="none" stroke-width="1"/>
<rect x="1189.3" y="713.3" width="14.8" height="17.4" fill="#e8aca9" stroke="none" stroke-width="1"/>
<rect x="1204.2" y="713.3" width="14.8" height="17.4" fill="#fdfcfd" stroke="none" stroke-width="1"/>
<rect x="1219" y="713.3" width="14.8" height="17.4" fill="#e8aca9" stroke="none" stroke-width="1"/>
<rect x="1233.9" y="713.3" width="14.8" height="17.4" fill="#e09592" stroke="none" stroke-width="1"/>
<rect x="1248.8" y="713.3" width="14.8" height="17.4" fill="#cbcde4" stroke="none" stroke-width="1"/>
<rect x="1263.6" y="713.3" width="14.8" height="17.4" fill="#cbcde4" stroke="none" stroke-width="1"/>
<rect x="1278.5" y="713.3" width="14.8" height="17.4" fill="#cbcde4" stroke="none" stroke-width="1"/>
<rect x="1293.3" y="713.3" width="14.8" height="17.4" fill="#cbcde4" stroke="none" stroke-width="1"/>
<rect x="1308.2" y="713.3" width="14.8" height="17.4" fill="#cbcde4" stroke="none" stroke-width="1"/>
<text x="1327.1" y="728.3" font-size="12" fill="#333">G0S2</text>
<rect x="1026" y="730.7" width="14.8" height="17.4" fill="#f4dcdc" stroke="none" stroke-width="1"/>
<rect x="1040.8" y="730.7" width="14.8" height="17.4" fill="#dcdeee" stroke="none" stroke-width="1"/>
<rect x="1055.7" y="730.7" width="14.8" height="17.4" fill="#babddd" stroke="none" stroke-width="1"/>
<rect x="1070.5" y="730.7" width="14.8" height="17.4" fill="#ececf4" stroke="none" stroke-width="1"/>
<rect x="1085.4" y="730.7" width="14.8" height="17.4" fill="#f4dcdc" stroke="none" stroke-width="1"/>
<rect x="1100.2" y="730.7" width="14.8" height="17.4" fill="#babddd" stroke="none" stroke-width="1"/>
<rect x="1115.1" y="730.7" width="14.8" height="17.4" fill="#cbcde4" stroke="none" stroke-width="1"/>
<rect x="1130" y="730.7" width="14.8" height="17.4" fill="#babddd" stroke="none" stroke-width="1"/>
<rect x="1144.8" y="730.7" width="14.8" height="17.4" fill="#babddd" stroke="none" stroke-width="1"/>
<rect x="1159.7" y="730.7" width="14.8" height="17.4" fill="#cbcde4" stroke="none" stroke-width="1"/>
<rect x="1174.5" y="730.7" width="14.8" height="17.4" fill="#d97672" stroke="none" stroke-width="1"/>
<rect x="1189.3" y="730.7" width="14.8" height="17.4" fill="#f8ebeb" stroke="none" stroke-width="1"/>
<rect x="1204.2" y="730.7" width="14.8" height="17.4" fill="#f4dcdc" stroke="none" stroke-width="1"/>
<rect x="1219" y="730.7" width="14.8" height="17.4" fill="#e09592" stroke="none" stroke-width="1"/>
<rect x="1233.9" y="730.7" width="14.8" height="17.4" fill="#e8aca9" stroke="none" stroke-width="1"/>
<rect x="1248.8" y="730.7" width="14.8" height="17.4" fill="#babddd" stroke="none" stroke-width="1"/>
<rect x="1263.6" y="730.7" width="14.8" height="17.4" fill="#dcdeee" stroke="none" stroke-width="1"/>
<rect x="1278.5" y="730.7" width="14.8" height="17.4" fill="#cbcde4" stroke="none" stroke-width="1"/>
<rect x="1293.3" y="730.7" width="14.8" height="17.4" fill="#cbcde4" stroke="none" stroke-width="1"/>
<rect x="1308.2" y="730.7" width="14.8" height="17.4" fill="#cbcde4" stroke="none" stroke-width="1"/>
<text x="1327.1" y="745.9" font-size="12" font-weight="bold" fill="#4b5cb2">CD82</text>
<rect x="1026" y="748.2" width="14.8" height="17.4" fill="#f4dcdc" stroke="none" stroke-width="1"/>
<rect x="1040.8" y="748.2" width="14.8" height="17.4" fill="#dcdeee" stroke="none" stroke-width="1"/>
<rect x="1055.7" y="748.2" width="14.8" height="17.4" fill="#cbcde4" stroke="none" stroke-width="1"/>
<rect x="1070.5" y="748.2" width="14.8" height="17.4" fill="#cbcde4" stroke="none" stroke-width="1"/>
<rect x="1085.4" y="748.2" width="14.8" height="17.4" fill="#fdfcfd" stroke="none" stroke-width="1"/>
<rect x="1100.2" y="748.2" width="14.8" height="17.4" fill="#babddd" stroke="none" stroke-width="1"/>
<rect x="1115.1" y="748.2" width="14.8" height="17.4" fill="#cbcde4" stroke="none" stroke-width="1"/>
<rect x="1130" y="748.2" width="14.8" height="17.4" fill="#cbcde4" stroke="none" stroke-width="1"/>
<rect x="1144.8" y="748.2" width="14.8" height="17.4" fill="#babddd" stroke="none" stroke-width="1"/>
<rect x="1159.7" y="748.2" width="14.8" height="17.4" fill="#cbcde4" stroke="none" stroke-width="1"/>
<rect x="1174.5" y="748.2" width="14.8" height="17.4" fill="#e09592" stroke="none" stroke-width="1"/>
<rect x="1189.3" y="748.2" width="14.8" height="17.4" fill="#eec4c2" stroke="none" stroke-width="1"/>
<rect x="1204.2" y="748.2" width="14.8" height="17.4" fill="#eec4c2" stroke="none" stroke-width="1"/>
<rect x="1219" y="748.2" width="14.8" height="17.4" fill="#d97672" stroke="none" stroke-width="1"/>
<rect x="1233.9" y="748.2" width="14.8" height="17.4" fill="#e8aca9" stroke="none" stroke-width="1"/>
<rect x="1248.8" y="748.2" width="14.8" height="17.4" fill="#dcdeee" stroke="none" stroke-width="1"/>
<rect x="1263.6" y="748.2" width="14.8" height="17.4" fill="#dcdeee" stroke="none" stroke-width="1"/>
<rect x="1278.5" y="748.2" width="14.8" height="17.4" fill="#babddd" stroke="none" stroke-width="1"/>
<rect x="1293.3" y="748.2" width="14.8" height="17.4" fill="#cbcde4" stroke="none" stroke-width="1"/>
<rect x="1308.2" y="748.2" width="14.8" height="17.4" fill="#cbcde4" stroke="none" stroke-width="1"/>
<text x="1327.1" y="763.5" font-size="12" font-weight="bold" fill="#4b5cb2">TNFRSF18</text>
<path d="M1026 329.6H1323M1026 347H1323M1026 364.5H1323M1026 381.9H1323M1026 399.4H1323M1026 416.8H1323M1026 434.2H1323M1026 451.7H1323M1026 469.1H1323M1026 486.6H1323M1026 504H1323M1026 521.4H1323M1026 538.9H1323M1026 556.3H1323M1026 573.8H1323M1026 591.2H1323M1026 608.6H1323M1026 626.1H1323M1026 643.5H1323M1026 661H1323M1026 678.4H1323M1026 695.8H1323M1026 713.3H1323M1026 730.7H1323M1026 748.2H1323M1026 765.6H1323M1026 329.6V765.6M1040.8 329.6V765.6M1055.7 329.6V765.6M1070.5 329.6V765.6M1085.4 329.6V765.6M1100.2 329.6V765.6M1115.1 329.6V765.6M1130 329.6V765.6M1144.8 329.6V765.6M1159.7 329.6V765.6M1174.5 329.6V765.6M1189.3 329.6V765.6M1204.2 329.6V765.6M1219 329.6V765.6M1233.9 329.6V765.6M1248.8 329.6V765.6M1263.6 329.6V765.6M1278.5 329.6V765.6M1293.3 329.6V765.6M1308.2 329.6V765.6M1323 329.6V765.6" fill="none" stroke="#a5a5a5" stroke-width="0.8"/>
<path d="M1026 390.6H1021.7V408.1H1026M1026 425.5H1020.7V443H1026M1021.7 399.4H1017.3V434.2H1020.7M1026 373.2H1016.3V416.8H1017.3M1026 355.8H1013.4V395H1016.3M1026 338.3H1012.6V375.4H1013.4M1026 460.4H1015.3V477.8H1026M1026 495.3H1013.6V512.7H1026M1015.3 469.1H1010.5V504H1013.6M1012.6 356.9H1003.9V486.6H1010.5M1026 565H1020.4V582.5H1026M1026 617.4H1017.3V634.8H1026M1026 599.9H1015.6V626.1H1017.3M1020.4 573.8H1013.1V613H1015.6M1026 547.6H1011.4V593.4H1013.1M1026 669.7H1017.3V687.1H1026M1026 652.2H1014.8V678.4H1017.3M1026 739.4H1019.9V756.9H1026M1026 722H1015.6V748.2H1019.9M1026 704.6H1009.7V735.1H1015.6M1014.8 665.3H1008.8V719.8H1009.7M1011.4 570.5H1006.8V692.6H1008.8M1026 530.2H1002.5V631.5H1006.8M1003.9 421.7H997.8V580.8H1002.5" fill="none" stroke="#8c8c8c" stroke-width="0.9"/>
<defs><linearGradient id="cb" x1="0" y1="0" x2="0" y2="1"><stop offset="0" stop-color="#c93a3a"/><stop offset="0.5" stop-color="#fbfafc"/><stop offset="1" stop-color="#2a3680"/></linearGradient></defs>
<rect x="1429" y="314.5" width="8.3" height="140.4" fill="url(#cb)" stroke="none" stroke-width="1"/>
<text x="1441.8" y="318.7" font-size="9" fill="#444">4</text>
<text x="1441.8" y="353.6" font-size="9" fill="#444">2</text>
<text x="1441.8" y="388.4" font-size="9" fill="#444">0</text>
<text x="1441.8" y="423.2" font-size="9" fill="#444">−2</text>
<text x="1441.8" y="458.1" font-size="9" fill="#444">−4</text>
<text x="1455.3" y="321.7" font-size="9" font-weight="bold" fill="#333">PCA_Symbol</text>
<rect x="1455.3" y="324.8" width="13" height="13.4" fill="#cd7641" stroke="#c8b8a8" stroke-width="0.4"/>
<rect x="1455.3" y="338.2" width="13" height="13.4" fill="#dfbc8b" stroke="#c8b8a8" stroke-width="0.4"/>
<text x="1470.8" y="335.2" font-size="9" fill="#444">Div2</text>
<text x="1470.8" y="348.6" font-size="9" fill="#444">Div0</text>
<text x="1455.3" y="368.1" font-size="9" font-weight="bold" fill="#333">PCA_Color</text>
<rect x="1455.3" y="371.2" width="13" height="13.5" fill="#d6a84b" stroke="#c8b8a8" stroke-width="0.4"/>
<rect x="1455.3" y="384.7" width="13" height="13.4" fill="#5b3f8d" stroke="#c8b8a8" stroke-width="0.4"/>
<text x="1470.8" y="381.7" font-size="9" fill="#444">MTB300</text>
<text x="1470.8" y="395.1" font-size="9" fill="#444">Unstim</text>
<text x="1036.1" y="796.7" font-size="13.9" fill="#333">*already measured in Fig 4C</text>
<text x="23.9" y="564.6" font-size="37" fill="#222">H</text>
<text x="164.6" y="574.1" font-size="15.4" font-weight="bold" fill="#222">HLA-DR+ vs HLA-DR-</text>
<path d="M121.5 597 V759.1 H364.2" fill="none" stroke="#222" stroke-width="1.5"/>
<line x1="116.5" y1="597" x2="121.5" y2="597" stroke="#222" stroke-width="1.4"/>
<text x="115" y="601" font-size="11.5" font-weight="bold" fill="#222" text-anchor="end">3</text>
<line x1="116.5" y1="637.5" x2="121.5" y2="637.5" stroke="#222" stroke-width="1.4"/>
<text x="115" y="641.5" font-size="11.5" font-weight="bold" fill="#222" text-anchor="end">2</text>
<line x1="116.5" y1="678.1" x2="121.5" y2="678.1" stroke="#222" stroke-width="1.4"/>
<text x="115" y="682.1" font-size="11.5" font-weight="bold" fill="#222" text-anchor="end">1</text>
<line x1="116.5" y1="718.6" x2="121.5" y2="718.6" stroke="#222" stroke-width="1.4"/>
<text x="115" y="722.6" font-size="11.5" font-weight="bold" fill="#222" text-anchor="end">0</text>
<line x1="116.5" y1="759.1" x2="121.5" y2="759.1" stroke="#222" stroke-width="1.4"/>
<text x="115" y="763.1" font-size="11.5" font-weight="bold" fill="#222" text-anchor="end">-1</text>
<line x1="121.5" y1="718.6" x2="364.2" y2="718.6" stroke="#222" stroke-width="1.2" stroke-dasharray="1.3 1.7"/>
<text x="89.3" y="678.5" font-size="13" font-weight="bold" fill="#222" text-anchor="middle" transform="rotate(-90 89.3 678.5)">log Fold Change</text>
<line x1="140.4" y1="759.1" x2="140.4" y2="765.1" stroke="#222" stroke-width="1.4"/>
<text x="144.4" y="776" font-size="12.2" font-weight="bold" fill="#222" text-anchor="end" transform="rotate(-45 144.4 776)">CCL3</text>
<circle cx="140.4" cy="613.6" r="3.4" fill="#6dbd5e" stroke="none" stroke-width="1"/>
<circle cx="147" cy="620.9" r="3.4" fill="#6dbd5e" stroke="none" stroke-width="1"/>
<circle cx="140.4" cy="626.1" r="3.4" fill="#6dbd5e" stroke="none" stroke-width="1"/>
<circle cx="140.4" cy="633.4" r="3.4" fill="#6dbd5e" stroke="none" stroke-width="1"/>
<circle cx="133.6" cy="642" r="3.4" fill="#6dbd5e" stroke="none" stroke-width="1"/>
<circle cx="147" cy="637.9" r="3.4" fill="#6dbd5e" stroke="none" stroke-width="1"/>
<circle cx="140.4" cy="640.7" r="3.4" fill="#6dbd5e" stroke="none" stroke-width="1"/>
<circle cx="147" cy="645.2" r="3.4" fill="#6dbd5e" stroke="none" stroke-width="1"/>
<circle cx="144" cy="652.9" r="3.4" fill="#6dbd5e" stroke="none" stroke-width="1"/>
<circle cx="137.2" cy="658.2" r="3.4" fill="#6dbd5e" stroke="none" stroke-width="1"/>
<path d="M140.4 625.3 V647.6 M135.9 625.3 H144.9 M135.9 647.6 H144.9" fill="none" stroke="#6dbd5e" stroke-width="1.0"/>
<line x1="130.9" y1="639.5" x2="149.9" y2="639.5" stroke="#222" stroke-width="1.6"/>
<text x="140.9" y="605.2" font-size="16" font-weight="bold" fill="#333" text-anchor="middle">****</text>
<line x1="169.8" y1="759.1" x2="169.8" y2="765.1" stroke="#222" stroke-width="1.4"/>
<text x="173.8" y="776" font-size="12.2" font-weight="bold" fill="#222" text-anchor="end" transform="rotate(-45 173.8 776)">CD38</text>
<circle cx="169.8" cy="660.6" r="3.4" fill="#6dbd5e" stroke="none" stroke-width="1"/>
<circle cx="169.8" cy="669.9" r="3.4" fill="#6dbd5e" stroke="none" stroke-width="1"/>
<circle cx="163.2" cy="686.2" r="3.4" fill="#6dbd5e" stroke="none" stroke-width="1"/>
<circle cx="176.4" cy="679.7" r="3.4" fill="#6dbd5e" stroke="none" stroke-width="1"/>
<path d="M169.8 663 V685.3 M165.3 663 H174.3 M165.3 685.3 H174.3" fill="none" stroke="#6dbd5e" stroke-width="1.0"/>
<line x1="160.3" y1="675.2" x2="179.3" y2="675.2" stroke="#222" stroke-width="1.6"/>
<text x="170.3" y="649.3" font-size="16" font-weight="bold" fill="#333" text-anchor="middle">*</text>
<line x1="198.8" y1="759.1" x2="198.8" y2="765.1" stroke="#222" stroke-width="1.4"/>
<text x="202.8" y="776" font-size="12.2" font-weight="bold" fill="#222" text-anchor="end" transform="rotate(-45 202.8 776)">CTLA4</text>
<circle cx="192.4" cy="664.7" r="3.4" fill="#6dbd5e" stroke="none" stroke-width="1"/>
<circle cx="205.3" cy="667.1" r="3.4" fill="#6dbd5e" stroke="none" stroke-width="1"/>
<circle cx="198.8" cy="672.4" r="3.4" fill="#6dbd5e" stroke="none" stroke-width="1"/>
<circle cx="192.2" cy="679.7" r="3.4" fill="#6dbd5e" stroke="none" stroke-width="1"/>
<circle cx="198.8" cy="679.7" r="3.4" fill="#6dbd5e" stroke="none" stroke-width="1"/>
<circle cx="205.4" cy="679.7" r="3.4" fill="#6dbd5e" stroke="none" stroke-width="1"/>
<circle cx="192.2" cy="687" r="3.4" fill="#6dbd5e" stroke="none" stroke-width="1"/>
<circle cx="205.4" cy="687" r="3.4" fill="#6dbd5e" stroke="none" stroke-width="1"/>
<circle cx="202.3" cy="699.9" r="3.4" fill="#6dbd5e" stroke="none" stroke-width="1"/>
<circle cx="195.5" cy="704.8" r="3.4" fill="#6dbd5e" stroke="none" stroke-width="1"/>
<path d="M198.8 672 V692.2 M194.3 672 H203.3 M194.3 692.2 H203.3" fill="none" stroke="#6dbd5e" stroke-width="1.0"/>
<line x1="189.3" y1="683.3" x2="208.3" y2="683.3" stroke="#222" stroke-width="1.6"/>
<text x="199.3" y="657.5" font-size="16" font-weight="bold" fill="#333" text-anchor="middle">****</text>
<line x1="228.3" y1="759.1" x2="228.3" y2="765.1" stroke="#222" stroke-width="1.4"/>
<text x="232.3" y="776" font-size="12.2" font-weight="bold" fill="#222" text-anchor="end" transform="rotate(-45 232.3 776)">CD25</text>
<circle cx="228.3" cy="667.1" r="3.4" fill="#6dbd5e" stroke="none" stroke-width="1"/>
<circle cx="221.7" cy="680.5" r="3.4" fill="#6dbd5e" stroke="none" stroke-width="1"/>
<circle cx="234.9" cy="685.8" r="3.4" fill="#6dbd5e" stroke="none" stroke-width="1"/>
<circle cx="228.3" cy="696.3" r="3.4" fill="#6dbd5e" stroke="none" stroke-width="1"/>
<path d="M228.3 671.2 V693.5 M223.8 671.2 H232.8 M223.8 693.5 H232.8" fill="none" stroke="#6dbd5e" stroke-width="1.0"/>
<line x1="218.8" y1="683.3" x2="237.8" y2="683.3" stroke="#222" stroke-width="1.6"/>
<text x="228.8" y="653" font-size="16" font-weight="bold" fill="#333" text-anchor="middle">*</text>
<line x1="257.3" y1="759.1" x2="257.3" y2="765.1" stroke="#222" stroke-width="1.4"/>
<text x="261.3" y="776" font-size="12.2" font-weight="bold" fill="#222" text-anchor="end" transform="rotate(-45 261.3 776)">TNFRSF18</text>
<circle cx="257.3" cy="678.1" r="3.4" fill="#6dbd5e" stroke="none" stroke-width="1"/>
<circle cx="250.7" cy="685.8" r="3.4" fill="#6dbd5e" stroke="none" stroke-width="1"/>
<circle cx="259.7" cy="687" r="3.4" fill="#6dbd5e" stroke="none" stroke-width="1"/>
<circle cx="250.7" cy="691.8" r="3.4" fill="#6dbd5e" stroke="none" stroke-width="1"/>
<circle cx="257.3" cy="693.1" r="3.4" fill="#6dbd5e" stroke="none" stroke-width="1"/>
<circle cx="252.9" cy="699.1" r="3.4" fill="#6dbd5e" stroke="none" stroke-width="1"/>
<circle cx="259.7" cy="706.4" r="3.4" fill="#6dbd5e" stroke="none" stroke-width="1"/>
<circle cx="252.9" cy="706.4" r="3.4" fill="#6dbd5e" stroke="none" stroke-width="1"/>
<circle cx="257.3" cy="718.6" r="3.4" fill="#6dbd5e" stroke="none" stroke-width="1"/>
<circle cx="259.7" cy="699.1" r="3.4" fill="#6dbd5e" stroke="none" stroke-width="1"/>
<path d="M257.3 686.2 V704 M252.8 686.2 H261.8 M252.8 704 H261.8" fill="none" stroke="#6dbd5e" stroke-width="1.0"/>
<line x1="247.8" y1="695.1" x2="266.8" y2="695.1" stroke="#222" stroke-width="1.6"/>
<text x="257.8" y="671.8" font-size="16" font-weight="bold" fill="#333" text-anchor="middle">***</text>
<line x1="286.3" y1="759.1" x2="286.3" y2="765.1" stroke="#222" stroke-width="1.4"/>
<text x="290.3" y="776" font-size="12.2" font-weight="bold" fill="#222" text-anchor="end" transform="rotate(-45 290.3 776)">CD82</text>
<circle cx="285.1" cy="701.6" r="3.4" fill="#6dbd5e" stroke="none" stroke-width="1"/>
<circle cx="289.9" cy="704" r="3.4" fill="#6dbd5e" stroke="none" stroke-width="1"/>
<circle cx="280.2" cy="708.9" r="3.4" fill="#6dbd5e" stroke="none" stroke-width="1"/>
<circle cx="287.5" cy="710.1" r="3.4" fill="#6dbd5e" stroke="none" stroke-width="1"/>
<circle cx="293.6" cy="710.1" r="3.4" fill="#6dbd5e" stroke="none" stroke-width="1"/>
<circle cx="282.7" cy="715" r="3.4" fill="#6dbd5e" stroke="none" stroke-width="1"/>
<circle cx="289.9" cy="713.7" r="3.4" fill="#6dbd5e" stroke="none" stroke-width="1"/>
<circle cx="282.7" cy="718.6" r="3.4" fill="#6dbd5e" stroke="none" stroke-width="1"/>
<circle cx="286.3" cy="712.5" r="3.4" fill="#6dbd5e" stroke="none" stroke-width="1"/>
<path d="M286.3 706.4 V714.5 M281.8 706.4 H290.8 M281.8 714.5 H290.8" fill="none" stroke="#6dbd5e" stroke-width="1.0"/>
<line x1="276.8" y1="710.5" x2="295.8" y2="710.5" stroke="#222" stroke-width="1.6"/>
<text x="286.8" y="695.8" font-size="16" font-weight="bold" fill="#333" text-anchor="middle">****</text>
<line x1="315.3" y1="759.1" x2="315.3" y2="765.1" stroke="#222" stroke-width="1.4"/>
<text x="319.3" y="776" font-size="12.2" font-weight="bold" fill="#222" text-anchor="end" transform="rotate(-45 319.3 776)">OX40</text>
<circle cx="322.1" cy="699.1" r="3.4" fill="#1c1c1c" stroke="none" stroke-width="1"/>
<circle cx="317.3" cy="700.4" r="3.4" fill="#1c1c1c" stroke="none" stroke-width="1"/>
<circle cx="309.3" cy="705.6" r="3.4" fill="#1c1c1c" stroke="none" stroke-width="1"/>
<circle cx="322.1" cy="708.9" r="3.4" fill="#1c1c1c" stroke="none" stroke-width="1"/>
<circle cx="317.3" cy="712.5" r="3.4" fill="#1c1c1c" stroke="none" stroke-width="1"/>
<circle cx="311.7" cy="712.5" r="3.4" fill="#1c1c1c" stroke="none" stroke-width="1"/>
<circle cx="315.3" cy="725.9" r="3.4" fill="#1c1c1c" stroke="none" stroke-width="1"/>
<circle cx="315.3" cy="733.2" r="3.4" fill="#1c1c1c" stroke="none" stroke-width="1"/>
<circle cx="315.3" cy="749" r="3.4" fill="#1c1c1c" stroke="none" stroke-width="1"/>
<circle cx="322.6" cy="706.4" r="3.4" fill="#1c1c1c" stroke="none" stroke-width="1"/>
<path d="M315.3 704.4 V728.7 M310.8 704.4 H319.8 M310.8 728.7 H319.8" fill="none" stroke="#1c1c1c" stroke-width="1.0"/>
<line x1="305.8" y1="710.5" x2="324.8" y2="710.5" stroke="#222" stroke-width="1.6"/>
<text x="315.3" y="684.5" font-size="11.5" fill="#333" text-anchor="middle">ns</text>
<line x1="344.7" y1="759.1" x2="344.7" y2="765.1" stroke="#222" stroke-width="1.4"/>
<text x="348.7" y="776" font-size="12.2" font-weight="bold" fill="#222" text-anchor="end" transform="rotate(-45 348.7 776)">CCL4</text>
<circle cx="344.7" cy="692.6" r="3.4" fill="#1c1c1c" stroke="none" stroke-width="1"/>
<circle cx="346.7" cy="702.8" r="3.4" fill="#1c1c1c" stroke="none" stroke-width="1"/>
<circle cx="342.3" cy="706.4" r="3.4" fill="#1c1c1c" stroke="none" stroke-width="1"/>
<circle cx="339.8" cy="713.7" r="3.4" fill="#1c1c1c" stroke="none" stroke-width="1"/>
<circle cx="344.7" cy="712.5" r="3.4" fill="#1c1c1c" stroke="none" stroke-width="1"/>
<circle cx="351.5" cy="715" r="3.4" fill="#1c1c1c" stroke="none" stroke-width="1"/>
<circle cx="337.4" cy="716.2" r="3.4" fill="#1c1c1c" stroke="none" stroke-width="1"/>
<circle cx="346.7" cy="721" r="3.4" fill="#1c1c1c" stroke="none" stroke-width="1"/>
<circle cx="339.8" cy="721" r="3.4" fill="#1c1c1c" stroke="none" stroke-width="1"/>
<circle cx="344.7" cy="740.5" r="3.4" fill="#1c1c1c" stroke="none" stroke-width="1"/>
<path d="M344.7 708.5 V720.6 M340.2 708.5 H349.2 M340.2 720.6 H349.2" fill="none" stroke="#1c1c1c" stroke-width="1.0"/>
<line x1="335.2" y1="714.5" x2="354.2" y2="714.5" stroke="#222" stroke-width="1.6"/>
<text x="344.7" y="683.5" font-size="11.5" fill="#333" text-anchor="middle">ns</text>
<text x="396" y="563.8" font-size="37" fill="#222">I</text>
<path d="M457.3 627.5 V777.8 H547.5" fill="none" stroke="#222" stroke-width="1.5"/>
<line x1="452.8" y1="777.8" x2="457.3" y2="777.8" stroke="#222" stroke-width="1.3"/>
<text x="451.8" y="781.8" font-size="11.3" font-weight="bold" fill="#333" text-anchor="end">0</text>
<line x1="452.8" y1="727.7" x2="457.3" y2="727.7" stroke="#222" stroke-width="1.3"/>
<text x="451.8" y="731.7" font-size="11.3" font-weight="bold" fill="#333" text-anchor="end">2</text>
<line x1="452.8" y1="677.6" x2="457.3" y2="677.6" stroke="#222" stroke-width="1.3"/>
<text x="451.8" y="681.6" font-size="11.3" font-weight="bold" fill="#333" text-anchor="end">4</text>
<line x1="452.8" y1="627.5" x2="457.3" y2="627.5" stroke="#222" stroke-width="1.3"/>
<text x="451.8" y="631.5" font-size="11.3" font-weight="bold" fill="#333" text-anchor="end">6</text>
<text x="505.9" y="599.6" font-size="13.8" font-weight="bold" fill="#222" text-anchor="middle">CCL3</text>
<text x="433.8" y="703.2" font-size="12.2" font-weight="bold" fill="#222" text-anchor="middle" transform="rotate(-90 433.8 703.2)">% of HLADR+ CD4</text>
<path d="M475.3 740.2 V764 M470.8 740.2 H479.8 M470.8 764 H479.8" fill="none" stroke="#1c1c1c" stroke-width="1.0"/>
<line x1="465.3" y1="755.3" x2="485.3" y2="755.3" stroke="#1c1c1c" stroke-width="1.6"/>
<circle cx="475.8" cy="720.9" r="2.4" fill="#1c1c1c" stroke="none" stroke-width="1"/>
<circle cx="475.8" cy="745" r="2.4" fill="#1c1c1c" stroke="none" stroke-width="1"/>
<circle cx="475.8" cy="755.8" r="2.4" fill="#1c1c1c" stroke="none" stroke-width="1"/>
<circle cx="470.9" cy="758.8" r="2.4" fill="#1c1c1c" stroke="none" stroke-width="1"/>
<circle cx="479.1" cy="761.3" r="2.4" fill="#1c1c1c" stroke="none" stroke-width="1"/>
<circle cx="470.9" cy="765.8" r="2.4" fill="#1c1c1c" stroke="none" stroke-width="1"/>
<circle cx="479.1" cy="763.8" r="2.4" fill="#1c1c1c" stroke="none" stroke-width="1"/>
<path d="M502.6 733.5 V755.8 M498.1 733.5 H507.1 M498.1 755.8 H507.1" fill="none" stroke="#1c1c1c" stroke-width="1.0"/>
<line x1="492.6" y1="744.7" x2="512.6" y2="744.7" stroke="#1c1c1c" stroke-width="1.6"/>
<circle cx="498.2" cy="733.5" r="2.5" fill="#fff" stroke="#1c1c1c" stroke-width="1.3"/>
<circle cx="506.8" cy="729.2" r="2.5" fill="#fff" stroke="#1c1c1c" stroke-width="1.3"/>
<circle cx="502.6" cy="738.5" r="2.5" fill="#fff" stroke="#1c1c1c" stroke-width="1.3"/>
<circle cx="498.2" cy="753.3" r="2.5" fill="#fff" stroke="#1c1c1c" stroke-width="1.3"/>
<circle cx="506.8" cy="753.3" r="2.5" fill="#fff" stroke="#1c1c1c" stroke-width="1.3"/>
<circle cx="502.6" cy="760.8" r="2.5" fill="#fff" stroke="#1c1c1c" stroke-width="1.3"/>
<path d="M529.5 692.1 V727.7 M525 692.1 H534 M525 727.7 H534" fill="none" stroke="#4a62b8" stroke-width="0.9"/>
<line x1="519.5" y1="705.7" x2="539.5" y2="705.7" stroke="#1c1c1c" stroke-width="1.6"/>
<circle cx="529.5" cy="652" r="2.4" fill="#4a62b8" stroke="none" stroke-width="1"/>
<circle cx="529.5" cy="680.1" r="2.4" fill="#4a62b8" stroke="none" stroke-width="1"/>
<circle cx="524.6" cy="699.6" r="2.4" fill="#4a62b8" stroke="none" stroke-width="1"/>
<circle cx="534.4" cy="695.6" r="2.4" fill="#4a62b8" stroke="none" stroke-width="1"/>
<circle cx="529.5" cy="706.2" r="2.4" fill="#4a62b8" stroke="none" stroke-width="1"/>
<circle cx="524.6" cy="710.4" r="2.4" fill="#4a62b8" stroke="none" stroke-width="1"/>
<circle cx="529.5" cy="714.4" r="2.4" fill="#4a62b8" stroke="none" stroke-width="1"/>
<circle cx="524.6" cy="728" r="2.4" fill="#4a62b8" stroke="none" stroke-width="1"/>
<circle cx="534.4" cy="730.2" r="2.4" fill="#4a62b8" stroke="none" stroke-width="1"/>
<circle cx="529.5" cy="749.2" r="2.4" fill="#4a62b8" stroke="none" stroke-width="1"/>
<line x1="476" y1="630.1" x2="530.5" y2="630.1" stroke="#222" stroke-width="1.6"/>
<text x="503.2" y="632.6" font-size="16.5" font-weight="bold" fill="#333" text-anchor="middle">**</text>
<line x1="502.2" y1="645.5" x2="530.5" y2="645.5" stroke="#222" stroke-width="1.6"/>
<text x="516.4" y="648" font-size="16.5" font-weight="bold" fill="#333" text-anchor="middle">**</text>
<path d="M611.6 624.8 V779 H714.5" fill="none" stroke="#222" stroke-width="1.5"/>
<line x1="607.1" y1="779" x2="611.6" y2="779" stroke="#222" stroke-width="1.3"/>
<text x="606.1" y="783" font-size="11.3" font-weight="bold" fill="#333" text-anchor="end">0</text>
<line x1="607.1" y1="740.5" x2="611.6" y2="740.5" stroke="#222" stroke-width="1.3"/>
<text x="606.1" y="744.5" font-size="11.3" font-weight="bold" fill="#333" text-anchor="end">20</text>
<line x1="607.1" y1="701.9" x2="611.6" y2="701.9" stroke="#222" stroke-width="1.3"/>
<text x="606.1" y="705.9" font-size="11.3" font-weight="bold" fill="#333" text-anchor="end">40</text>
<line x1="607.1" y1="663.3" x2="611.6" y2="663.3" stroke="#222" stroke-width="1.3"/>
<text x="606.1" y="667.3" font-size="11.3" font-weight="bold" fill="#333" text-anchor="end">60</text>
<line x1="607.1" y1="624.8" x2="611.6" y2="624.8" stroke="#222" stroke-width="1.3"/>
<text x="606.1" y="628.8" font-size="11.3" font-weight="bold" fill="#333" text-anchor="end">80</text>
<text x="661" y="599.6" font-size="13.8" font-weight="bold" fill="#222" text-anchor="middle">CD38</text>
<text x="581.8" y="702.3" font-size="12.2" font-weight="bold" fill="#222" text-anchor="middle" transform="rotate(-90 581.8 702.3)">% of HLADR+ CD4</text>
<path d="M632.2 683.2 V730.2 M627.7 683.2 H636.7 M627.7 730.2 H636.7" fill="none" stroke="#1c1c1c" stroke-width="1.0"/>
<line x1="622.2" y1="698" x2="642.2" y2="698" stroke="#1c1c1c" stroke-width="1.6"/>
<circle cx="632.2" cy="673" r="2.4" fill="#1c1c1c" stroke="none" stroke-width="1"/>
<circle cx="637" cy="693.4" r="2.4" fill="#1c1c1c" stroke="none" stroke-width="1"/>
<circle cx="627.4" cy="697.9" r="2.4" fill="#1c1c1c" stroke="none" stroke-width="1"/>
<circle cx="632.2" cy="703.1" r="2.4" fill="#1c1c1c" stroke="none" stroke-width="1"/>
<circle cx="632.2" cy="757" r="2.4" fill="#1c1c1c" stroke="none" stroke-width="1"/>
<path d="M662.9 692.3 V725 M658.4 692.3 H667.4 M658.4 725 H667.4" fill="none" stroke="#1c1c1c" stroke-width="1.0"/>
<line x1="652.9" y1="701.9" x2="672.9" y2="701.9" stroke="#1c1c1c" stroke-width="1.6"/>
<circle cx="662.9" cy="685.5" r="2.5" fill="#fff" stroke="#1c1c1c" stroke-width="1.3"/>
<circle cx="667.2" cy="699.6" r="2.5" fill="#fff" stroke="#1c1c1c" stroke-width="1.3"/>
<circle cx="658.4" cy="701.5" r="2.5" fill="#fff" stroke="#1c1c1c" stroke-width="1.3"/>
<circle cx="662.9" cy="715.6" r="2.5" fill="#fff" stroke="#1c1c1c" stroke-width="1.3"/>
<circle cx="662.9" cy="734.3" r="2.5" fill="#fff" stroke="#1c1c1c" stroke-width="1.3"/>
<path d="M695 646 V681.3 M690.5 646 H699.5 M690.5 681.3 H699.5" fill="none" stroke="#4a62b8" stroke-width="0.9"/>
<line x1="685" y1="648.9" x2="705" y2="648.9" stroke="#1c1c1c" stroke-width="1.6"/>
<circle cx="701.2" cy="644.3" r="2.4" fill="#4a62b8" stroke="none" stroke-width="1"/>
<circle cx="693" cy="647" r="2.4" fill="#4a62b8" stroke="none" stroke-width="1"/>
<circle cx="701.2" cy="650.2" r="2.4" fill="#4a62b8" stroke="none" stroke-width="1"/>
<circle cx="696.9" cy="691.7" r="2.4" fill="#4a62b8" stroke="none" stroke-width="1"/>
<line x1="630.8" y1="621.6" x2="696.3" y2="621.6" stroke="#222" stroke-width="1.6"/>
<text x="663.5" y="624.1" font-size="16.5" font-weight="bold" fill="#333" text-anchor="middle">*</text>
<line x1="661.6" y1="638.2" x2="696.3" y2="638.2" stroke="#222" stroke-width="1.6"/>
<text x="679" y="640.7" font-size="16.5" font-weight="bold" fill="#333" text-anchor="middle">*</text>
<path d="M774.8 627 V776.7 H864.4" fill="none" stroke="#222" stroke-width="1.5"/>
<line x1="770.3" y1="776.7" x2="774.8" y2="776.7" stroke="#222" stroke-width="1.3"/>
<text x="769.3" y="780.7" font-size="11.3" font-weight="bold" fill="#333" text-anchor="end">0</text>
<line x1="770.3" y1="726.8" x2="774.8" y2="726.8" stroke="#222" stroke-width="1.3"/>
<text x="769.3" y="730.8" font-size="11.3" font-weight="bold" fill="#333" text-anchor="end">5</text>
<line x1="770.3" y1="676.9" x2="774.8" y2="676.9" stroke="#222" stroke-width="1.3"/>
<text x="769.3" y="680.9" font-size="11.3" font-weight="bold" fill="#333" text-anchor="end">10</text>
<line x1="770.3" y1="627" x2="774.8" y2="627" stroke="#222" stroke-width="1.3"/>
<text x="769.3" y="631" font-size="11.3" font-weight="bold" fill="#333" text-anchor="end">15</text>
<text x="816.9" y="599.6" font-size="13.8" font-weight="bold" fill="#222" text-anchor="middle">OX40</text>
<text x="748.4" y="703" font-size="12.2" font-weight="bold" fill="#222" text-anchor="middle" transform="rotate(-90 748.4 703)">% of HLADR+ CD4</text>
<path d="M792.7 751.8 V776.7 M788.2 751.8 H797.2 M788.2 776.7 H797.2" fill="none" stroke="#1c1c1c" stroke-width="1.0"/>
<line x1="782.7" y1="764.7" x2="802.7" y2="764.7" stroke="#1c1c1c" stroke-width="1.6"/>
<circle cx="792.7" cy="742.5" r="2.4" fill="#1c1c1c" stroke="none" stroke-width="1"/>
<circle cx="789" cy="756.3" r="2.4" fill="#1c1c1c" stroke="none" stroke-width="1"/>
<circle cx="796.2" cy="756.3" r="2.4" fill="#1c1c1c" stroke="none" stroke-width="1"/>
<circle cx="785.5" cy="775.9" r="2.4" fill="#1c1c1c" stroke="none" stroke-width="1"/>
<circle cx="792.7" cy="775.4" r="2.4" fill="#1c1c1c" stroke="none" stroke-width="1"/>
<circle cx="799.7" cy="775.9" r="2.4" fill="#1c1c1c" stroke="none" stroke-width="1"/>
<path d="M819.5 763.2 V776.7 M815 763.2 H824 M815 776.7 H824" fill="none" stroke="#1c1c1c" stroke-width="1.0"/>
<line x1="809.5" y1="770.2" x2="829.5" y2="770.2" stroke="#1c1c1c" stroke-width="1.6"/>
<circle cx="819.5" cy="745.2" r="2.5" fill="#fff" stroke="#1c1c1c" stroke-width="1.3"/>
<circle cx="815.8" cy="769.2" r="2.5" fill="#fff" stroke="#1c1c1c" stroke-width="1.3"/>
<circle cx="823" cy="769.2" r="2.5" fill="#fff" stroke="#1c1c1c" stroke-width="1.3"/>
<circle cx="812.3" cy="773.2" r="2.5" fill="#fff" stroke="#1c1c1c" stroke-width="1.3"/>
<circle cx="819.5" cy="773.2" r="2.5" fill="#fff" stroke="#1c1c1c" stroke-width="1.3"/>
<circle cx="826.5" cy="775.4" r="2.5" fill="#fff" stroke="#1c1c1c" stroke-width="1.3"/>
<path d="M847 703.3 V770.7 M842.5 703.3 H851.5 M842.5 770.7 H851.5" fill="none" stroke="#4a62b8" stroke-width="0.9"/>
<line x1="837" y1="753.7" x2="857" y2="753.7" stroke="#1c1c1c" stroke-width="1.6"/>
<circle cx="847" cy="644.4" r="2.4" fill="#4a62b8" stroke="none" stroke-width="1"/>
<circle cx="847" cy="693.6" r="2.4" fill="#4a62b8" stroke="none" stroke-width="1"/>
<circle cx="847" cy="707.7" r="2.4" fill="#4a62b8" stroke="none" stroke-width="1"/>
<circle cx="847" cy="716.5" r="2.4" fill="#4a62b8" stroke="none" stroke-width="1"/>
<circle cx="839.8" cy="753.9" r="2.4" fill="#4a62b8" stroke="none" stroke-width="1"/>
<circle cx="854.2" cy="753.9" r="2.4" fill="#4a62b8" stroke="none" stroke-width="1"/>
<circle cx="847" cy="758.5" r="2.4" fill="#4a62b8" stroke="none" stroke-width="1"/>
<circle cx="839.8" cy="770.5" r="2.4" fill="#4a62b8" stroke="none" stroke-width="1"/>
<circle cx="854.2" cy="770.5" r="2.4" fill="#4a62b8" stroke="none" stroke-width="1"/>
<circle cx="839.8" cy="772.7" r="2.4" fill="#4a62b8" stroke="none" stroke-width="1"/>
<line x1="818.4" y1="638.7" x2="848.3" y2="638.7" stroke="#222" stroke-width="1.6"/>
<text x="833.3" y="641.2" font-size="16.5" font-weight="bold" fill="#333" text-anchor="middle">*</text>
<circle cx="896.5" cy="633.1" r="2.6" fill="#1c1c1c" stroke="none" stroke-width="1"/>
<text x="911.7" y="637.7" font-size="12.8" fill="#333">IGRA-</text>
<circle cx="896.5" cy="650.2" r="2.5" fill="#fff" stroke="#1c1c1c" stroke-width="1.3"/>
<text x="911.7" y="654.8" font-size="12.8" fill="#333">IGRA+</text>
<circle cx="896.5" cy="669.7" r="2.6" fill="#4a62b8" stroke="none" stroke-width="1"/>
<text x="911.7" y="674.3" font-size="12.8" fill="#333">ATB</text>
</svg>
</body></html>
